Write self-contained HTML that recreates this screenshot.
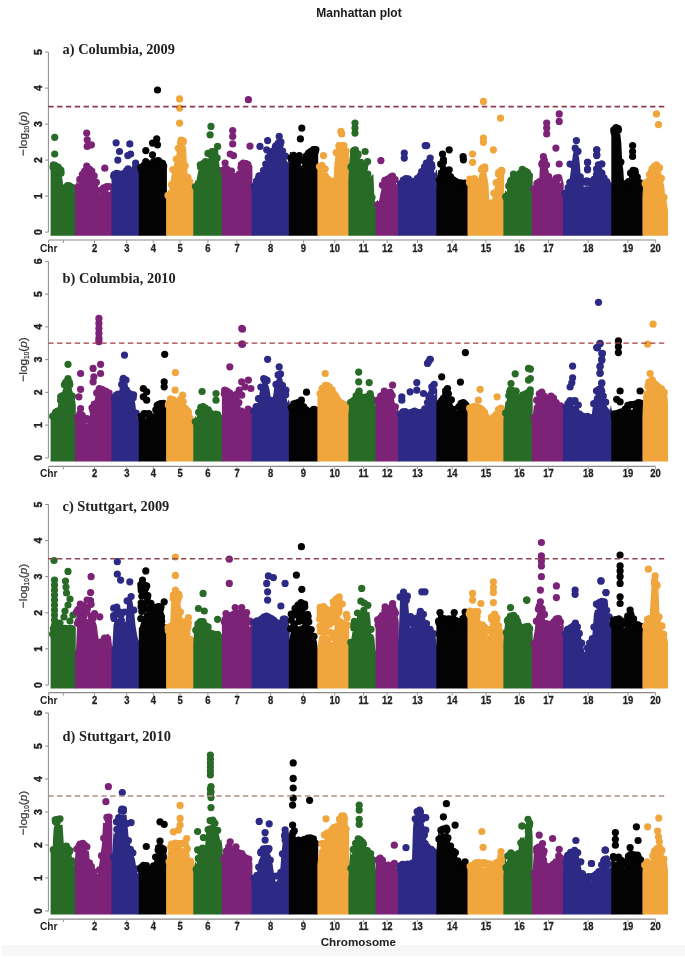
<!DOCTYPE html><html><head><meta charset="utf-8"><style>html,body{margin:0;padding:0;background:#fff;width:685px;height:958px;overflow:hidden}svg{display:block;filter:blur(0.45px)}</style></head><body>
<svg width="685" height="958" viewBox="0 0 685 958">
<rect x="0" y="0" width="685" height="958" fill="#fff"/>
<rect x="2" y="945" width="683" height="11" fill="#f7f7f7"/>
<text x="359" y="16.8" font-family="Liberation Sans" font-weight="bold" font-size="12" text-anchor="middle" fill="#1a1a1a">Manhattan plot</text>
<text x="358.3" y="945.7" font-family="Liberation Sans" font-weight="bold" font-size="11.7" text-anchor="middle" fill="#222">Chromosome</text>
<g fill="#276b27"><polygon points="50.6,235.7 50.6,165.5 51.6,164.3 52.6,164.3 53.6,170.4 54.6,170.4 55.6,170.4 56.6,170.6 57.6,170.8 58.6,171.0 59.6,172.0 60.6,173.5 61.6,175.0 62.6,180.0 63.6,189.5 64.6,191.8 65.6,191.6 66.6,191.4 67.6,191.2 68.6,191.1 69.6,191.1 70.6,191.1 71.6,191.1 72.6,191.5 73.6,191.8 74.6,186.1 75.6,186.5 75.8,186.5 75.8,235.7"/><circle cx="53.4" cy="164.9" r="3.6"/><circle cx="53.1" cy="167.1" r="3.6"/><circle cx="55.3" cy="165.5" r="3.6"/><circle cx="56.3" cy="167.7" r="3.6"/><circle cx="58.2" cy="167.1" r="3.6"/><circle cx="58.7" cy="170.1" r="3.6"/><circle cx="60.8" cy="170.2" r="3.6"/><circle cx="61.1" cy="173.1" r="3.6"/><circle cx="62.2" cy="187.9" r="3.6"/><circle cx="65.6" cy="187.8" r="3.6"/><circle cx="65.9" cy="188.9" r="3.6"/><circle cx="67.6" cy="185.6" r="3.6"/><circle cx="67.3" cy="189.2" r="3.6"/><circle cx="69.3" cy="185.9" r="3.6"/><circle cx="72.1" cy="187.3" r="3.6"/><circle cx="72.5" cy="188.5" r="3.6"/><circle cx="54.7" cy="137.3" r="3.6"/><circle cx="54.7" cy="154.0" r="3.6"/></g><g fill="#7c2378"><polygon points="75.0,235.7 75.0,194.3 76.0,184.3 77.0,180.3 78.0,184.3 79.0,182.4 80.0,180.9 81.0,179.4 82.0,177.9 83.0,176.2 84.0,174.4 85.0,172.7 86.0,172.5 87.0,172.3 88.0,172.1 89.0,172.0 90.0,172.9 91.0,173.9 92.0,174.9 93.0,175.9 94.0,177.4 95.0,179.0 96.0,180.6 97.0,182.2 98.0,185.7 99.0,190.3 100.0,194.1 101.0,193.3 102.0,192.5 103.0,191.7 104.0,191.2 105.0,191.2 106.0,191.3 107.0,191.3 108.0,191.3 109.0,191.7 110.0,192.1 111.0,186.5 112.0,189.8 112.3,191.9 112.3,235.7"/><circle cx="77.8" cy="187.2" r="3.6"/><circle cx="79.8" cy="179.4" r="3.6"/><circle cx="82.4" cy="174.3" r="3.6"/><circle cx="82.7" cy="177.2" r="3.6"/><circle cx="84.7" cy="171.0" r="3.6"/><circle cx="86.8" cy="166.2" r="3.6"/><circle cx="87.0" cy="169.3" r="3.6"/><circle cx="89.7" cy="169.4" r="3.6"/><circle cx="88.5" cy="172.0" r="3.6"/><circle cx="91.8" cy="171.0" r="3.6"/><circle cx="91.1" cy="173.1" r="3.6"/><circle cx="94.2" cy="175.9" r="3.6"/><circle cx="96.4" cy="182.3" r="3.6"/><circle cx="101.3" cy="189.8" r="3.6"/><circle cx="102.3" cy="190.4" r="3.6"/><circle cx="103.7" cy="187.9" r="3.6"/><circle cx="104.1" cy="190.1" r="3.6"/><circle cx="106.7" cy="186.6" r="3.6"/><circle cx="105.6" cy="188.2" r="3.6"/><circle cx="109.1" cy="186.6" r="3.6"/><circle cx="86.7" cy="133.1" r="3.6"/><circle cx="87.2" cy="139.8" r="3.6"/><circle cx="87.2" cy="146.4" r="3.6"/><circle cx="91.4" cy="144.8" r="3.6"/><circle cx="104.8" cy="168.2" r="3.6"/></g><g fill="#2c2a84"><polygon points="111.5,235.7 111.5,174.8 112.5,173.5 113.5,172.2 114.5,177.9 115.5,177.9 116.5,177.8 117.5,177.8 118.5,178.0 119.5,177.8 120.5,177.3 121.5,176.8 122.5,176.3 123.5,175.8 124.5,175.3 125.5,174.8 126.5,174.6 127.5,174.7 128.5,174.7 129.5,174.6 130.5,175.0 131.5,175.6 132.5,174.4 133.5,173.2 134.5,173.0 135.5,172.9 136.5,172.8 137.5,172.9 138.5,170.3 139.5,173.6 139.6,173.9 139.6,235.7"/><circle cx="114.1" cy="174.6" r="3.6"/><circle cx="113.7" cy="176.3" r="3.6"/><circle cx="116.5" cy="173.3" r="3.6"/><circle cx="115.8" cy="174.5" r="3.6"/><circle cx="118.5" cy="173.8" r="3.6"/><circle cx="118.8" cy="175.9" r="3.6"/><circle cx="120.4" cy="175.7" r="3.6"/><circle cx="123.4" cy="173.6" r="3.6"/><circle cx="126.6" cy="170.7" r="3.6"/><circle cx="126.8" cy="171.9" r="3.6"/><circle cx="128.1" cy="168.9" r="3.6"/><circle cx="129.2" cy="171.7" r="3.6"/><circle cx="131.2" cy="172.1" r="3.6"/><circle cx="131.3" cy="173.1" r="3.6"/><circle cx="133.6" cy="170.5" r="3.6"/><circle cx="132.2" cy="172.4" r="3.6"/><circle cx="135.3" cy="167.5" r="3.6"/><circle cx="135.6" cy="170.1" r="3.6"/><circle cx="116.1" cy="142.8" r="3.6"/><circle cx="129.8" cy="143.9" r="3.6"/><circle cx="119.5" cy="151.5" r="3.6"/><circle cx="127.8" cy="155.6" r="3.6"/><circle cx="130.6" cy="154.0" r="3.6"/><circle cx="117.8" cy="160.1" r="3.6"/><circle cx="135.6" cy="163.1" r="3.6"/></g><g fill="#030303"><polygon points="138.8,235.7 138.8,170.1 139.8,166.7 140.8,165.9 141.8,171.2 142.8,170.5 143.8,169.7 144.8,169.0 145.8,168.3 146.8,168.2 147.8,168.1 148.8,168.1 149.8,168.0 150.8,167.7 151.8,167.3 152.8,166.9 153.8,166.5 154.8,166.1 155.8,166.1 156.8,166.1 157.8,166.1 158.8,166.2 159.8,166.6 160.8,167.0 161.8,167.4 162.8,167.8 163.8,168.6 164.8,169.4 165.8,164.2 166.8,165.0 166.9,165.5 166.9,235.7"/><circle cx="140.9" cy="167.4" r="3.6"/><circle cx="141.2" cy="169.6" r="3.6"/><circle cx="144.1" cy="165.2" r="3.6"/><circle cx="143.6" cy="168.2" r="3.6"/><circle cx="146.2" cy="164.0" r="3.6"/><circle cx="145.4" cy="166.6" r="3.6"/><circle cx="148.7" cy="163.8" r="3.6"/><circle cx="149.1" cy="165.6" r="3.6"/><circle cx="151.0" cy="167.7" r="3.6"/><circle cx="153.6" cy="161.7" r="3.6"/><circle cx="153.3" cy="164.5" r="3.6"/><circle cx="156.1" cy="161.0" r="3.6"/><circle cx="155.9" cy="162.7" r="3.6"/><circle cx="158.4" cy="160.7" r="3.6"/><circle cx="157.4" cy="164.6" r="3.6"/><circle cx="160.9" cy="162.9" r="3.6"/><circle cx="161.1" cy="163.7" r="3.6"/><circle cx="162.6" cy="163.4" r="3.6"/><circle cx="163.7" cy="166.0" r="3.6"/><circle cx="157.5" cy="90.0" r="3.6"/><circle cx="156.7" cy="138.9" r="3.6"/><circle cx="152.5" cy="143.1" r="3.6"/><circle cx="157.5" cy="144.8" r="3.6"/><circle cx="145.8" cy="150.6" r="3.6"/><circle cx="152.5" cy="154.8" r="3.6"/><circle cx="145.8" cy="161.5" r="3.6"/></g><g fill="#f0a63c"><polygon points="166.1,235.7 166.1,198.1 167.1,193.7 168.1,189.4 169.1,191.0 170.1,184.3 171.1,177.7 172.1,172.4 173.1,168.4 174.1,164.4 175.1,160.3 176.1,155.8 177.1,151.3 178.1,146.8 179.1,146.0 180.1,146.0 181.1,146.0 182.1,146.0 183.1,146.0 184.1,146.0 185.1,146.0 186.1,147.2 187.1,167.7 188.1,181.5 189.1,182.5 190.1,183.5 191.1,184.6 192.1,181.2 193.1,183.9 194.1,188.9 194.1,188.9 194.1,235.7"/><circle cx="168.0" cy="195.4" r="3.6"/><circle cx="171.6" cy="184.7" r="3.6"/><circle cx="172.9" cy="169.5" r="3.6"/><circle cx="176.3" cy="159.1" r="3.6"/><circle cx="178.3" cy="148.3" r="3.6"/><circle cx="181.2" cy="140.2" r="3.6"/><circle cx="180.6" cy="143.2" r="3.6"/><circle cx="183.1" cy="140.9" r="3.6"/><circle cx="183.1" cy="142.2" r="3.6"/><circle cx="185.2" cy="165.7" r="3.6"/><circle cx="187.8" cy="177.3" r="3.6"/><circle cx="187.2" cy="179.1" r="3.6"/><circle cx="189.8" cy="181.5" r="3.6"/><circle cx="179.6" cy="98.9" r="3.6"/><circle cx="179.6" cy="108.1" r="3.6"/><circle cx="179.6" cy="123.1" r="3.6"/></g><g fill="#276b27"><polygon points="193.3,235.7 193.3,190.1 194.3,185.1 195.3,180.1 196.3,181.1 197.3,176.1 198.3,171.1 199.3,170.4 200.3,169.7 201.3,169.1 202.3,168.4 203.3,167.7 204.3,164.4 205.3,161.1 206.3,159.2 207.3,158.8 208.3,158.4 209.3,158.0 210.3,157.6 211.3,157.3 212.3,156.9 213.3,156.6 214.3,156.3 215.3,156.2 216.3,156.2 217.3,156.2 218.3,156.1 219.3,163.8 220.3,174.4 221.3,169.4 222.3,170.4 222.7,170.8 222.7,235.7"/><circle cx="195.4" cy="186.5" r="3.6"/><circle cx="200.3" cy="164.8" r="3.6"/><circle cx="200.7" cy="167.4" r="3.6"/><circle cx="203.5" cy="163.3" r="3.6"/><circle cx="203.7" cy="166.2" r="3.6"/><circle cx="205.5" cy="161.5" r="3.6"/><circle cx="207.9" cy="153.4" r="3.6"/><circle cx="211.0" cy="155.0" r="3.6"/><circle cx="212.0" cy="151.5" r="3.6"/><circle cx="212.8" cy="153.6" r="3.6"/><circle cx="214.7" cy="151.6" r="3.6"/><circle cx="214.8" cy="153.9" r="3.6"/><circle cx="217.1" cy="157.9" r="3.6"/><circle cx="219.4" cy="170.7" r="3.6"/><circle cx="211.0" cy="126.4" r="3.6"/><circle cx="210.1" cy="134.8" r="3.6"/><circle cx="217.6" cy="146.4" r="3.6"/></g><g fill="#7c2378"><polygon points="221.9,235.7 221.9,171.5 222.9,168.2 223.9,167.1 224.9,173.2 225.9,173.2 226.9,172.9 227.9,173.4 228.9,174.0 229.9,174.7 230.9,175.4 231.9,176.0 232.9,176.6 233.9,177.1 234.9,177.6 235.9,179.0 236.9,180.4 237.9,173.3 238.9,170.6 239.9,169.9 240.9,169.3 241.9,168.6 242.9,167.9 243.9,167.9 244.9,167.8 245.9,167.7 246.9,167.8 247.9,168.5 248.9,169.1 249.9,169.8 250.9,164.5 251.9,165.3 252.4,166.6 252.4,235.7"/><circle cx="223.9" cy="169.6" r="3.6"/><circle cx="224.6" cy="172.4" r="3.6"/><circle cx="226.6" cy="168.9" r="3.6"/><circle cx="227.8" cy="171.0" r="3.6"/><circle cx="228.6" cy="170.9" r="3.6"/><circle cx="231.5" cy="171.1" r="3.6"/><circle cx="230.6" cy="174.5" r="3.6"/><circle cx="234.8" cy="176.5" r="3.6"/><circle cx="236.9" cy="178.8" r="3.6"/><circle cx="239.2" cy="174.0" r="3.6"/><circle cx="241.4" cy="164.5" r="3.6"/><circle cx="240.9" cy="167.8" r="3.6"/><circle cx="243.2" cy="163.1" r="3.6"/><circle cx="246.0" cy="163.7" r="3.6"/><circle cx="245.3" cy="164.4" r="3.6"/><circle cx="247.9" cy="164.5" r="3.6"/><circle cx="247.9" cy="167.8" r="3.6"/><circle cx="232.7" cy="130.6" r="3.6"/><circle cx="232.7" cy="136.4" r="3.6"/><circle cx="232.7" cy="143.9" r="3.6"/><circle cx="230.2" cy="154.0" r="3.6"/><circle cx="233.5" cy="155.6" r="3.6"/><circle cx="225.1" cy="163.1" r="3.6"/><circle cx="248.4" cy="99.7" r="3.6"/><circle cx="250.0" cy="146.1" r="3.6"/></g><g fill="#2c2a84"><polygon points="251.6,235.7 251.6,188.4 252.6,183.2 253.6,178.1 254.6,183.3 255.6,182.5 256.6,181.7 257.6,180.8 258.6,179.5 259.6,178.2 260.6,176.8 261.6,175.5 262.6,173.9 263.6,171.3 264.6,168.6 265.6,166.1 266.6,163.7 267.6,161.3 268.6,158.9 269.6,156.9 270.6,155.3 271.6,153.7 272.6,152.1 273.6,150.7 274.6,149.7 275.6,148.7 276.6,147.7 277.6,146.7 278.6,146.6 279.6,146.5 280.6,146.4 281.6,146.3 282.6,148.6 283.6,152.1 284.6,155.6 285.6,158.5 286.6,160.5 287.6,162.5 288.6,158.6 289.6,162.6 289.7,163.0 289.7,235.7"/><circle cx="254.1" cy="186.6" r="3.6"/><circle cx="256.8" cy="180.9" r="3.6"/><circle cx="259.0" cy="175.9" r="3.6"/><circle cx="258.7" cy="177.9" r="3.6"/><circle cx="261.5" cy="175.5" r="3.6"/><circle cx="263.5" cy="170.4" r="3.6"/><circle cx="265.7" cy="164.1" r="3.6"/><circle cx="268.2" cy="157.7" r="3.6"/><circle cx="270.6" cy="151.8" r="3.6"/><circle cx="270.4" cy="154.7" r="3.6"/><circle cx="273.4" cy="151.2" r="3.6"/><circle cx="275.7" cy="145.8" r="3.6"/><circle cx="275.3" cy="147.5" r="3.6"/><circle cx="278.4" cy="142.8" r="3.6"/><circle cx="278.7" cy="145.3" r="3.6"/><circle cx="281.0" cy="142.1" r="3.6"/><circle cx="280.1" cy="145.3" r="3.6"/><circle cx="282.6" cy="151.1" r="3.6"/><circle cx="285.5" cy="156.2" r="3.6"/><circle cx="260.0" cy="146.4" r="3.6"/><circle cx="267.6" cy="140.6" r="3.6"/><circle cx="266.7" cy="149.8" r="3.6"/><circle cx="279.2" cy="136.4" r="3.6"/></g><g fill="#030303"><polygon points="288.9,235.7 288.9,166.6 289.9,152.6 290.9,151.8 291.9,157.9 292.9,158.1 293.9,158.2 294.9,159.7 295.9,161.2 296.9,162.7 297.9,163.2 298.9,163.7 299.9,164.2 300.9,165.7 301.9,165.3 302.9,162.3 303.9,160.6 304.9,159.8 305.9,159.0 306.9,158.2 307.9,157.5 308.9,156.9 309.9,156.3 310.9,155.8 311.9,155.2 312.9,154.6 313.9,154.6 314.9,154.5 315.9,154.5 316.9,148.4 317.9,149.7 318.2,150.1 318.2,235.7"/><circle cx="291.0" cy="158.0" r="3.6"/><circle cx="293.6" cy="155.4" r="3.6"/><circle cx="293.6" cy="157.0" r="3.6"/><circle cx="295.8" cy="158.2" r="3.6"/><circle cx="298.3" cy="159.9" r="3.6"/><circle cx="297.7" cy="162.7" r="3.6"/><circle cx="303.0" cy="160.5" r="3.6"/><circle cx="306.4" cy="155.9" r="3.6"/><circle cx="308.5" cy="153.0" r="3.6"/><circle cx="307.9" cy="155.6" r="3.6"/><circle cx="310.6" cy="151.6" r="3.6"/><circle cx="311.0" cy="154.8" r="3.6"/><circle cx="313.4" cy="149.6" r="3.6"/><circle cx="313.8" cy="153.2" r="3.6"/><circle cx="315.9" cy="149.5" r="3.6"/><circle cx="315.2" cy="151.8" r="3.6"/><circle cx="301.8" cy="128.1" r="3.6"/><circle cx="300.4" cy="138.9" r="3.6"/><circle cx="299.3" cy="155.6" r="3.6"/></g><g fill="#f0a63c"><polygon points="317.4,235.7 317.4,167.0 318.4,165.0 319.4,163.0 320.4,168.8 321.4,168.6 322.4,168.4 323.4,168.2 324.4,171.9 325.4,177.3 326.4,181.4 327.4,182.6 328.4,183.8 329.4,185.0 330.4,186.1 331.4,186.1 332.4,186.1 333.4,186.1 334.4,163.2 335.4,155.7 336.4,153.0 337.4,151.0 338.4,151.1 339.4,151.1 340.4,151.1 341.4,151.1 342.4,151.2 343.4,151.4 344.4,151.5 345.4,151.7 346.4,151.8 347.4,147.9 348.4,151.4 349.2,155.2 349.2,235.7"/><circle cx="319.5" cy="166.6" r="3.6"/><circle cx="322.0" cy="165.4" r="3.6"/><circle cx="322.5" cy="167.0" r="3.6"/><circle cx="325.2" cy="175.7" r="3.6"/><circle cx="327.4" cy="178.7" r="3.6"/><circle cx="327.0" cy="180.6" r="3.6"/><circle cx="329.1" cy="180.3" r="3.6"/><circle cx="329.3" cy="182.4" r="3.6"/><circle cx="332.0" cy="181.5" r="3.6"/><circle cx="332.7" cy="183.9" r="3.6"/><circle cx="334.2" cy="181.1" r="3.6"/><circle cx="336.2" cy="152.7" r="3.6"/><circle cx="338.9" cy="145.7" r="3.6"/><circle cx="339.4" cy="147.9" r="3.6"/><circle cx="341.5" cy="145.5" r="3.6"/><circle cx="340.9" cy="147.8" r="3.6"/><circle cx="343.9" cy="145.7" r="3.6"/><circle cx="346.2" cy="151.2" r="3.6"/><circle cx="323.5" cy="155.6" r="3.6"/><circle cx="325.2" cy="169.0" r="3.6"/><circle cx="340.9" cy="131.4" r="3.6"/><circle cx="341.7" cy="133.9" r="3.6"/></g><g fill="#276b27"><polygon points="348.4,235.7 348.4,179.3 349.4,160.9 350.4,151.2 351.4,156.2 352.4,155.2 353.4,154.6 354.4,154.8 355.4,154.9 356.4,154.8 357.4,155.2 358.4,156.7 359.4,158.2 360.4,160.2 361.4,163.7 362.4,167.2 363.4,169.8 364.4,169.7 365.4,169.7 366.4,169.6 367.4,171.4 368.4,175.1 369.4,177.6 370.4,176.7 371.4,175.8 372.4,174.9 373.4,174.0 374.4,198.6 375.4,204.6 376.4,211.4 376.4,235.7"/><circle cx="351.0" cy="166.9" r="3.6"/><circle cx="353.7" cy="150.6" r="3.6"/><circle cx="353.6" cy="153.2" r="3.6"/><circle cx="355.3" cy="149.8" r="3.6"/><circle cx="357.9" cy="153.9" r="3.6"/><circle cx="357.9" cy="155.3" r="3.6"/><circle cx="360.9" cy="162.3" r="3.6"/><circle cx="362.4" cy="164.8" r="3.6"/><circle cx="363.0" cy="166.9" r="3.6"/><circle cx="365.0" cy="164.7" r="3.6"/><circle cx="364.5" cy="168.0" r="3.6"/><circle cx="367.8" cy="174.1" r="3.6"/><circle cx="369.6" cy="181.9" r="3.6"/><circle cx="372.0" cy="197.5" r="3.6"/><circle cx="355.0" cy="123.1" r="3.6"/><circle cx="355.0" cy="128.1" r="3.6"/><circle cx="355.0" cy="133.1" r="3.6"/><circle cx="365.1" cy="151.5" r="3.6"/><circle cx="367.6" cy="161.5" r="3.6"/></g><g fill="#7c2378"><polygon points="375.6,235.7 375.6,206.5 376.6,201.9 377.6,199.8 378.6,202.9 379.6,197.9 380.6,192.9 381.6,187.9 382.6,187.0 383.6,186.2 384.6,185.4 385.6,184.6 386.6,184.0 387.6,183.4 388.6,182.8 389.6,182.3 390.6,181.7 391.6,181.1 392.6,181.3 393.6,181.5 394.6,181.5 395.6,182.1 396.6,184.7 397.6,181.4 398.6,187.5 398.8,188.8 398.8,235.7"/><circle cx="377.9" cy="204.5" r="3.6"/><circle cx="382.4" cy="185.2" r="3.6"/><circle cx="384.8" cy="180.3" r="3.6"/><circle cx="385.5" cy="182.6" r="3.6"/><circle cx="387.7" cy="179.1" r="3.6"/><circle cx="387.9" cy="180.6" r="3.6"/><circle cx="390.7" cy="177.2" r="3.6"/><circle cx="389.7" cy="180.7" r="3.6"/><circle cx="392.5" cy="176.0" r="3.6"/><circle cx="395.1" cy="179.7" r="3.6"/><circle cx="380.9" cy="160.6" r="3.6"/></g><g fill="#2c2a84"><polygon points="398.0,235.7 398.0,185.6 399.0,182.3 400.0,180.5 401.0,185.0 402.0,183.5 403.0,183.0 404.0,183.1 405.0,183.0 406.0,182.9 407.0,183.3 408.0,183.8 409.0,184.4 410.0,185.0 411.0,185.6 412.0,186.1 413.0,186.1 414.0,185.4 415.0,184.4 416.0,183.4 417.0,182.4 418.0,181.4 419.0,179.5 420.0,177.0 421.0,174.5 422.0,172.3 423.0,171.0 424.0,169.7 425.0,168.3 426.0,167.0 427.0,166.4 428.0,166.6 429.0,166.6 430.0,166.5 431.0,166.9 432.0,168.2 433.0,169.4 434.0,170.7 435.0,174.5 436.0,169.4 437.0,170.6 437.2,173.0 437.2,235.7"/><circle cx="400.8" cy="183.6" r="3.6"/><circle cx="403.3" cy="180.2" r="3.6"/><circle cx="403.5" cy="182.0" r="3.6"/><circle cx="405.8" cy="178.6" r="3.6"/><circle cx="404.6" cy="180.2" r="3.6"/><circle cx="408.3" cy="178.8" r="3.6"/><circle cx="410.0" cy="180.7" r="3.6"/><circle cx="410.3" cy="182.7" r="3.6"/><circle cx="412.1" cy="181.5" r="3.6"/><circle cx="412.4" cy="183.0" r="3.6"/><circle cx="415.3" cy="181.1" r="3.6"/><circle cx="414.8" cy="182.6" r="3.6"/><circle cx="417.4" cy="178.3" r="3.6"/><circle cx="417.4" cy="180.8" r="3.6"/><circle cx="420.2" cy="175.7" r="3.6"/><circle cx="421.7" cy="171.6" r="3.6"/><circle cx="424.5" cy="166.8" r="3.6"/><circle cx="425.2" cy="167.6" r="3.6"/><circle cx="426.4" cy="163.1" r="3.6"/><circle cx="427.9" cy="165.4" r="3.6"/><circle cx="429.3" cy="161.7" r="3.6"/><circle cx="429.9" cy="163.3" r="3.6"/><circle cx="431.2" cy="164.3" r="3.6"/><circle cx="431.9" cy="167.3" r="3.6"/><circle cx="433.9" cy="176.4" r="3.6"/><circle cx="404.3" cy="153.1" r="3.6"/><circle cx="404.3" cy="158.1" r="3.6"/><circle cx="425.2" cy="145.6" r="3.6"/><circle cx="430.2" cy="158.1" r="3.6"/><circle cx="431.0" cy="168.2" r="3.6"/><circle cx="426.7" cy="145.6" r="3.6"/><circle cx="431.7" cy="164.8" r="3.6"/></g><g fill="#030303"><polygon points="436.4,235.7 436.4,189.0 437.4,175.0 438.4,169.7 439.4,170.4 440.4,167.1 441.4,165.7 442.4,164.4 443.4,165.0 444.4,165.3 445.4,165.2 446.4,166.8 447.4,172.8 448.4,178.8 449.4,179.9 450.4,180.4 451.4,180.9 452.4,181.8 453.4,183.0 454.4,184.2 455.4,185.4 456.4,186.2 457.4,186.5 458.4,186.8 459.4,187.1 460.4,187.4 461.4,187.6 462.4,187.8 463.4,187.8 464.4,187.8 465.4,187.8 466.4,181.8 467.4,183.2 468.3,185.6 468.3,235.7"/><circle cx="439.3" cy="180.1" r="3.6"/><circle cx="440.7" cy="164.1" r="3.6"/><circle cx="443.4" cy="159.5" r="3.6"/><circle cx="443.3" cy="162.2" r="3.6"/><circle cx="445.5" cy="171.0" r="3.6"/><circle cx="448.3" cy="175.7" r="3.6"/><circle cx="450.5" cy="176.7" r="3.6"/><circle cx="451.7" cy="179.3" r="3.6"/><circle cx="453.2" cy="179.9" r="3.6"/><circle cx="454.1" cy="181.7" r="3.6"/><circle cx="455.6" cy="181.4" r="3.6"/><circle cx="457.5" cy="182.7" r="3.6"/><circle cx="457.4" cy="184.9" r="3.6"/><circle cx="460.8" cy="182.8" r="3.6"/><circle cx="460.4" cy="185.0" r="3.6"/><circle cx="463.1" cy="185.5" r="3.6"/><circle cx="464.7" cy="183.1" r="3.6"/><circle cx="465.3" cy="185.5" r="3.6"/><circle cx="449.2" cy="149.8" r="3.6"/><circle cx="442.5" cy="154.0" r="3.6"/><circle cx="463.1" cy="156.5" r="3.6"/><circle cx="463.4" cy="159.8" r="3.6"/><circle cx="449.2" cy="169.8" r="3.6"/></g><g fill="#f0a63c"><polygon points="467.5,235.7 467.5,182.9 468.5,178.4 469.5,178.4 470.5,184.4 471.5,184.4 472.5,184.4 473.5,184.4 474.5,184.4 475.5,184.4 476.5,184.4 477.5,183.1 478.5,177.8 479.5,174.0 480.5,173.0 481.5,172.0 482.5,171.3 483.5,171.8 484.5,171.7 485.5,171.6 486.5,173.4 487.5,178.7 488.5,184.1 489.5,207.8 490.5,205.7 491.5,201.7 492.5,197.7 493.5,193.5 494.5,188.5 495.5,183.5 496.5,178.5 497.5,176.9 498.5,175.9 499.5,174.9 500.5,174.8 501.5,174.7 502.5,168.6 503.5,168.5 504.2,171.6 504.2,235.7"/><circle cx="469.8" cy="179.0" r="3.6"/><circle cx="469.4" cy="182.5" r="3.6"/><circle cx="471.9" cy="179.7" r="3.6"/><circle cx="471.5" cy="181.0" r="3.6"/><circle cx="474.4" cy="178.6" r="3.6"/><circle cx="474.9" cy="182.3" r="3.6"/><circle cx="477.0" cy="181.5" r="3.6"/><circle cx="476.7" cy="183.2" r="3.6"/><circle cx="482.4" cy="168.0" r="3.6"/><circle cx="481.5" cy="169.7" r="3.6"/><circle cx="484.7" cy="166.8" r="3.6"/><circle cx="484.8" cy="169.2" r="3.6"/><circle cx="489.6" cy="203.1" r="3.6"/><circle cx="491.2" cy="203.0" r="3.6"/><circle cx="493.8" cy="193.1" r="3.6"/><circle cx="496.2" cy="182.7" r="3.6"/><circle cx="498.7" cy="172.3" r="3.6"/><circle cx="498.6" cy="173.9" r="3.6"/><circle cx="501.4" cy="170.3" r="3.6"/><circle cx="502.0" cy="171.1" r="3.6"/><circle cx="483.4" cy="101.4" r="3.6"/><circle cx="500.5" cy="118.1" r="3.6"/><circle cx="483.4" cy="138.1" r="3.6"/><circle cx="483.4" cy="142.3" r="3.6"/><circle cx="493.4" cy="149.8" r="3.6"/><circle cx="472.6" cy="154.0" r="3.6"/><circle cx="472.6" cy="162.3" r="3.6"/></g><g fill="#276b27"><polygon points="503.4,235.7 503.4,199.8 504.4,194.8 505.4,190.2 506.4,192.2 507.4,188.2 508.4,186.7 509.4,185.5 510.4,184.3 511.4,183.1 512.4,182.5 513.4,182.2 514.4,181.9 515.4,181.5 516.4,181.2 517.4,179.7 518.4,177.7 519.4,175.7 520.4,174.6 521.4,174.7 522.4,174.7 523.4,174.8 524.4,174.9 525.4,175.5 526.4,176.0 527.4,176.6 528.4,177.2 529.4,177.9 530.4,179.5 531.4,175.1 532.4,176.7 532.7,177.2 532.7,235.7"/><circle cx="505.7" cy="196.7" r="3.6"/><circle cx="508.7" cy="186.0" r="3.6"/><circle cx="510.8" cy="180.6" r="3.6"/><circle cx="510.1" cy="183.7" r="3.6"/><circle cx="513.4" cy="178.0" r="3.6"/><circle cx="512.3" cy="179.7" r="3.6"/><circle cx="515.0" cy="177.0" r="3.6"/><circle cx="516.4" cy="178.2" r="3.6"/><circle cx="518.0" cy="175.6" r="3.6"/><circle cx="517.0" cy="178.7" r="3.6"/><circle cx="519.6" cy="173.6" r="3.6"/><circle cx="522.3" cy="169.3" r="3.6"/><circle cx="525.3" cy="171.2" r="3.6"/><circle cx="525.7" cy="172.6" r="3.6"/><circle cx="527.4" cy="172.3" r="3.6"/><circle cx="526.9" cy="175.4" r="3.6"/><circle cx="529.4" cy="175.7" r="3.6"/><circle cx="513.5" cy="174.0" r="3.6"/></g><g fill="#7c2378"><polygon points="531.9,235.7 531.9,188.4 532.9,186.9 533.9,183.9 534.9,188.9 535.9,188.2 536.9,187.5 537.9,186.9 538.9,186.2 539.9,166.1 540.9,165.6 541.9,165.1 542.9,164.6 543.9,164.5 544.9,164.5 545.9,164.4 546.9,164.6 547.9,168.6 548.9,172.6 549.9,176.6 550.9,183.5 551.9,186.8 552.9,183.8 553.9,182.8 554.9,182.8 555.9,182.8 556.9,182.8 557.9,182.8 558.9,182.8 559.9,182.8 560.9,182.8 561.9,176.9 562.9,179.9 563.7,183.8 563.7,235.7"/><circle cx="533.9" cy="189.2" r="3.6"/><circle cx="537.0" cy="183.3" r="3.6"/><circle cx="537.2" cy="185.8" r="3.6"/><circle cx="539.5" cy="181.6" r="3.6"/><circle cx="542.2" cy="163.2" r="3.6"/><circle cx="541.9" cy="164.5" r="3.6"/><circle cx="544.2" cy="160.1" r="3.6"/><circle cx="544.1" cy="161.1" r="3.6"/><circle cx="546.5" cy="164.9" r="3.6"/><circle cx="548.7" cy="176.6" r="3.6"/><circle cx="551.8" cy="185.2" r="3.6"/><circle cx="553.2" cy="181.2" r="3.6"/><circle cx="556.2" cy="178.1" r="3.6"/><circle cx="556.9" cy="179.5" r="3.6"/><circle cx="558.7" cy="177.6" r="3.6"/><circle cx="557.5" cy="179.5" r="3.6"/><circle cx="546.7" cy="123.1" r="3.6"/><circle cx="546.7" cy="128.1" r="3.6"/><circle cx="546.7" cy="133.9" r="3.6"/><circle cx="559.2" cy="113.9" r="3.6"/><circle cx="559.2" cy="121.4" r="3.6"/><circle cx="555.9" cy="148.1" r="3.6"/><circle cx="559.2" cy="164.0" r="3.6"/><circle cx="543.4" cy="156.5" r="3.6"/></g><g fill="#2c2a84"><polygon points="562.9,235.7 562.9,195.3 563.9,191.9 564.9,188.6 565.9,192.5 566.9,190.5 567.9,188.5 568.9,183.7 569.9,177.0 570.9,170.2 571.9,162.2 572.9,154.2 573.9,152.7 574.9,152.6 575.9,151.8 576.9,151.1 577.9,153.7 578.9,156.4 579.9,164.8 580.9,178.8 581.9,182.8 582.9,184.8 583.9,186.7 584.9,186.4 585.9,186.2 586.9,186.2 587.9,186.3 588.9,186.3 589.9,186.5 590.9,187.3 591.9,185.6 592.9,183.6 593.9,181.6 594.9,179.9 595.9,178.3 596.9,176.7 597.9,175.1 598.9,174.9 599.9,174.8 600.9,174.6 601.9,174.5 602.9,176.9 603.9,179.5 604.9,182.1 605.9,183.6 606.9,184.8 607.9,186.0 608.9,187.2 609.9,189.2 610.9,185.9 611.9,188.9 612.1,190.9 612.1,235.7"/><circle cx="565.1" cy="193.4" r="3.6"/><circle cx="568.1" cy="187.5" r="3.6"/><circle cx="569.8" cy="182.3" r="3.6"/><circle cx="572.6" cy="164.8" r="3.6"/><circle cx="575.2" cy="148.0" r="3.6"/><circle cx="578.0" cy="151.3" r="3.6"/><circle cx="580.3" cy="176.8" r="3.6"/><circle cx="582.1" cy="182.4" r="3.6"/><circle cx="585.0" cy="181.3" r="3.6"/><circle cx="586.9" cy="180.8" r="3.6"/><circle cx="586.7" cy="182.5" r="3.6"/><circle cx="589.9" cy="181.7" r="3.6"/><circle cx="591.5" cy="183.8" r="3.6"/><circle cx="594.0" cy="179.4" r="3.6"/><circle cx="596.5" cy="174.5" r="3.6"/><circle cx="597.0" cy="177.7" r="3.6"/><circle cx="599.1" cy="170.7" r="3.6"/><circle cx="598.8" cy="174.2" r="3.6"/><circle cx="601.9" cy="173.2" r="3.6"/><circle cx="600.9" cy="174.6" r="3.6"/><circle cx="604.0" cy="177.8" r="3.6"/><circle cx="606.7" cy="181.5" r="3.6"/><circle cx="607.0" cy="183.2" r="3.6"/><circle cx="609.2" cy="185.6" r="3.6"/><circle cx="576.4" cy="140.6" r="3.6"/><circle cx="576.8" cy="151.5" r="3.6"/><circle cx="570.1" cy="164.0" r="3.6"/><circle cx="587.6" cy="162.3" r="3.6"/><circle cx="587.6" cy="169.0" r="3.6"/><circle cx="596.8" cy="149.8" r="3.6"/><circle cx="596.8" cy="154.8" r="3.6"/><circle cx="601.8" cy="164.0" r="3.6"/><circle cx="596.8" cy="169.0" r="3.6"/><circle cx="596.7" cy="149.8" r="3.6"/><circle cx="596.7" cy="155.6" r="3.6"/><circle cx="587.5" cy="162.3" r="3.6"/><circle cx="587.5" cy="169.8" r="3.6"/><circle cx="598.4" cy="164.8" r="3.6"/><circle cx="601.7" cy="164.0" r="3.6"/><circle cx="596.7" cy="169.0" r="3.6"/></g><g fill="#030303"><polygon points="611.3,235.7 611.3,130.4 612.3,128.1 613.3,125.9 614.3,131.9 615.3,132.0 616.3,132.0 617.3,132.1 618.3,132.7 619.3,133.3 620.3,133.9 621.3,142.9 622.3,163.7 623.3,169.7 624.3,186.3 625.3,187.3 626.3,186.9 627.3,186.5 628.3,185.9 629.3,174.5 630.3,174.5 631.3,174.6 632.3,174.6 633.3,174.6 634.3,175.0 635.3,175.4 636.3,175.8 637.3,177.1 638.3,179.6 639.3,182.1 640.3,184.5 641.3,180.1 642.3,181.7 643.2,183.2 643.2,235.7"/><circle cx="613.8" cy="129.8" r="3.6"/><circle cx="614.1" cy="132.4" r="3.6"/><circle cx="616.1" cy="127.6" r="3.6"/><circle cx="617.1" cy="128.8" r="3.6"/><circle cx="618.2" cy="128.6" r="3.6"/><circle cx="618.4" cy="130.1" r="3.6"/><circle cx="620.9" cy="162.1" r="3.6"/><circle cx="623.5" cy="192.7" r="3.6"/><circle cx="626.0" cy="183.7" r="3.6"/><circle cx="626.0" cy="185.6" r="3.6"/><circle cx="628.5" cy="181.6" r="3.6"/><circle cx="630.6" cy="173.2" r="3.6"/><circle cx="633.1" cy="170.4" r="3.6"/><circle cx="632.4" cy="172.3" r="3.6"/><circle cx="635.1" cy="170.9" r="3.6"/><circle cx="635.4" cy="174.2" r="3.6"/><circle cx="637.3" cy="177.1" r="3.6"/><circle cx="639.7" cy="182.7" r="3.6"/><circle cx="632.6" cy="145.6" r="3.6"/><circle cx="632.6" cy="151.5" r="3.6"/><circle cx="632.6" cy="156.5" r="3.6"/></g><g fill="#f0a63c"><polygon points="642.4,235.7 642.4,197.0 643.4,180.0 644.4,178.8 645.4,183.6 646.4,182.4 647.4,181.2 648.4,178.6 649.4,176.0 650.4,174.0 651.4,173.0 652.4,172.0 653.4,171.0 654.4,170.0 655.4,169.9 656.4,169.8 657.4,169.7 658.4,169.6 659.4,170.6 660.4,172.1 661.4,173.6 662.4,176.9 663.4,182.2 664.4,187.6 665.4,197.4 666.4,200.2 667.4,206.2 668.0,211.2 668.0,235.7"/><circle cx="645.1" cy="183.7" r="3.6"/><circle cx="648.3" cy="181.2" r="3.6"/><circle cx="649.4" cy="174.5" r="3.6"/><circle cx="652.1" cy="168.8" r="3.6"/><circle cx="651.5" cy="171.5" r="3.6"/><circle cx="654.4" cy="166.4" r="3.6"/><circle cx="656.5" cy="164.8" r="3.6"/><circle cx="656.7" cy="167.0" r="3.6"/><circle cx="659.5" cy="167.7" r="3.6"/><circle cx="658.4" cy="169.3" r="3.6"/><circle cx="661.3" cy="178.3" r="3.6"/><circle cx="664.0" cy="197.4" r="3.6"/><circle cx="656.5" cy="113.9" r="3.6"/><circle cx="658.5" cy="124.7" r="3.6"/></g>
<line x1="48.4" y1="52.1" x2="48.4" y2="232.1" stroke="#8a8a8a" stroke-width="1"/>
<line x1="45.2" y1="232.1" x2="48.4" y2="232.1" stroke="#8a8a8a" stroke-width="1"/>
<text transform="translate(41.8,232.1) rotate(-90)" font-family="Liberation Sans" font-weight="bold" font-size="10.5" text-anchor="middle" fill="#222" stroke="#222" stroke-width="0.4">0</text>
<line x1="45.2" y1="196.1" x2="48.4" y2="196.1" stroke="#8a8a8a" stroke-width="1"/>
<text transform="translate(41.8,196.1) rotate(-90)" font-family="Liberation Sans" font-weight="bold" font-size="10.5" text-anchor="middle" fill="#222" stroke="#222" stroke-width="0.4">1</text>
<line x1="45.2" y1="160.1" x2="48.4" y2="160.1" stroke="#8a8a8a" stroke-width="1"/>
<text transform="translate(41.8,160.1) rotate(-90)" font-family="Liberation Sans" font-weight="bold" font-size="10.5" text-anchor="middle" fill="#222" stroke="#222" stroke-width="0.4">2</text>
<line x1="45.2" y1="124.1" x2="48.4" y2="124.1" stroke="#8a8a8a" stroke-width="1"/>
<text transform="translate(41.8,124.1) rotate(-90)" font-family="Liberation Sans" font-weight="bold" font-size="10.5" text-anchor="middle" fill="#222" stroke="#222" stroke-width="0.4">3</text>
<line x1="45.2" y1="88.1" x2="48.4" y2="88.1" stroke="#8a8a8a" stroke-width="1"/>
<text transform="translate(41.8,88.1) rotate(-90)" font-family="Liberation Sans" font-weight="bold" font-size="10.5" text-anchor="middle" fill="#222" stroke="#222" stroke-width="0.4">4</text>
<line x1="45.2" y1="52.1" x2="48.4" y2="52.1" stroke="#8a8a8a" stroke-width="1"/>
<text transform="translate(41.8,52.1) rotate(-90)" font-family="Liberation Sans" font-weight="bold" font-size="10.5" text-anchor="middle" fill="#222" stroke="#222" stroke-width="0.4">5</text>
<text transform="translate(26.8,133.5) rotate(-90)" font-family="Liberation Sans" font-size="11.8" text-anchor="middle" fill="#3c3c3c" stroke="#3c3c3c" stroke-width="0.25">&#8722;log<tspan font-size="6.5" dy="2">10</tspan><tspan dy="-2">(</tspan><tspan font-style="italic">p</tspan>)</text>
<line x1="48.6" y1="240.0" x2="655.6" y2="240.0" stroke="#8a8a8a" stroke-width="1.2"/>
<line x1="48.6" y1="240.0" x2="48.6" y2="243.0" stroke="#9a9a9a" stroke-width="1"/>
<line x1="63.4" y1="240.0" x2="63.4" y2="243.0" stroke="#9a9a9a" stroke-width="1"/>
<line x1="94.5" y1="240.0" x2="94.5" y2="243.0" stroke="#9a9a9a" stroke-width="1"/>
<line x1="126.8" y1="240.0" x2="126.8" y2="243.0" stroke="#9a9a9a" stroke-width="1"/>
<line x1="153.3" y1="240.0" x2="153.3" y2="243.0" stroke="#9a9a9a" stroke-width="1"/>
<line x1="180.0" y1="240.0" x2="180.0" y2="243.0" stroke="#9a9a9a" stroke-width="1"/>
<line x1="207.9" y1="240.0" x2="207.9" y2="243.0" stroke="#9a9a9a" stroke-width="1"/>
<line x1="237.0" y1="240.0" x2="237.0" y2="243.0" stroke="#9a9a9a" stroke-width="1"/>
<line x1="270.6" y1="240.0" x2="270.6" y2="243.0" stroke="#9a9a9a" stroke-width="1"/>
<line x1="303.4" y1="240.0" x2="303.4" y2="243.0" stroke="#9a9a9a" stroke-width="1"/>
<line x1="334.7" y1="240.0" x2="334.7" y2="243.0" stroke="#9a9a9a" stroke-width="1"/>
<line x1="363.6" y1="240.0" x2="363.6" y2="243.0" stroke="#9a9a9a" stroke-width="1"/>
<line x1="387.2" y1="240.0" x2="387.2" y2="243.0" stroke="#9a9a9a" stroke-width="1"/>
<line x1="417.5" y1="240.0" x2="417.5" y2="243.0" stroke="#9a9a9a" stroke-width="1"/>
<line x1="452.2" y1="240.0" x2="452.2" y2="243.0" stroke="#9a9a9a" stroke-width="1"/>
<line x1="486.0" y1="240.0" x2="486.0" y2="243.0" stroke="#9a9a9a" stroke-width="1"/>
<line x1="519.4" y1="240.0" x2="519.4" y2="243.0" stroke="#9a9a9a" stroke-width="1"/>
<line x1="548.5" y1="240.0" x2="548.5" y2="243.0" stroke="#9a9a9a" stroke-width="1"/>
<line x1="588.2" y1="240.0" x2="588.2" y2="243.0" stroke="#9a9a9a" stroke-width="1"/>
<line x1="627.9" y1="240.0" x2="627.9" y2="243.0" stroke="#9a9a9a" stroke-width="1"/>
<line x1="655.6" y1="240.0" x2="655.6" y2="243.0" stroke="#9a9a9a" stroke-width="1"/>
<text x="48.8" y="251.8" font-family="Liberation Sans" font-weight="bold" font-size="10.2" text-anchor="middle" fill="#222">Chr</text>
<text transform="translate(94.5,251.8) scale(0.83,1)" font-family="Liberation Sans" font-weight="bold" font-size="11.4" text-anchor="middle" fill="#222" stroke="#222" stroke-width="0.3">2</text>
<text transform="translate(126.8,251.8) scale(0.83,1)" font-family="Liberation Sans" font-weight="bold" font-size="11.4" text-anchor="middle" fill="#222" stroke="#222" stroke-width="0.3">3</text>
<text transform="translate(153.3,251.8) scale(0.83,1)" font-family="Liberation Sans" font-weight="bold" font-size="11.4" text-anchor="middle" fill="#222" stroke="#222" stroke-width="0.3">4</text>
<text transform="translate(180.0,251.8) scale(0.83,1)" font-family="Liberation Sans" font-weight="bold" font-size="11.4" text-anchor="middle" fill="#222" stroke="#222" stroke-width="0.3">5</text>
<text transform="translate(207.9,251.8) scale(0.83,1)" font-family="Liberation Sans" font-weight="bold" font-size="11.4" text-anchor="middle" fill="#222" stroke="#222" stroke-width="0.3">6</text>
<text transform="translate(237.0,251.8) scale(0.83,1)" font-family="Liberation Sans" font-weight="bold" font-size="11.4" text-anchor="middle" fill="#222" stroke="#222" stroke-width="0.3">7</text>
<text transform="translate(270.6,251.8) scale(0.83,1)" font-family="Liberation Sans" font-weight="bold" font-size="11.4" text-anchor="middle" fill="#222" stroke="#222" stroke-width="0.3">8</text>
<text transform="translate(303.4,251.8) scale(0.83,1)" font-family="Liberation Sans" font-weight="bold" font-size="11.4" text-anchor="middle" fill="#222" stroke="#222" stroke-width="0.3">9</text>
<text transform="translate(334.7,251.8) scale(0.83,1)" font-family="Liberation Sans" font-weight="bold" font-size="11.4" text-anchor="middle" fill="#222" stroke="#222" stroke-width="0.3">10</text>
<text transform="translate(363.6,251.8) scale(0.83,1)" font-family="Liberation Sans" font-weight="bold" font-size="11.4" text-anchor="middle" fill="#222" stroke="#222" stroke-width="0.3">11</text>
<text transform="translate(387.2,251.8) scale(0.83,1)" font-family="Liberation Sans" font-weight="bold" font-size="11.4" text-anchor="middle" fill="#222" stroke="#222" stroke-width="0.3">12</text>
<text transform="translate(417.5,251.8) scale(0.83,1)" font-family="Liberation Sans" font-weight="bold" font-size="11.4" text-anchor="middle" fill="#222" stroke="#222" stroke-width="0.3">13</text>
<text transform="translate(452.2,251.8) scale(0.83,1)" font-family="Liberation Sans" font-weight="bold" font-size="11.4" text-anchor="middle" fill="#222" stroke="#222" stroke-width="0.3">14</text>
<text transform="translate(486.0,251.8) scale(0.83,1)" font-family="Liberation Sans" font-weight="bold" font-size="11.4" text-anchor="middle" fill="#222" stroke="#222" stroke-width="0.3">15</text>
<text transform="translate(519.4,251.8) scale(0.83,1)" font-family="Liberation Sans" font-weight="bold" font-size="11.4" text-anchor="middle" fill="#222" stroke="#222" stroke-width="0.3">16</text>
<text transform="translate(548.5,251.8) scale(0.83,1)" font-family="Liberation Sans" font-weight="bold" font-size="11.4" text-anchor="middle" fill="#222" stroke="#222" stroke-width="0.3">17</text>
<text transform="translate(588.2,251.8) scale(0.83,1)" font-family="Liberation Sans" font-weight="bold" font-size="11.4" text-anchor="middle" fill="#222" stroke="#222" stroke-width="0.3">18</text>
<text transform="translate(627.9,251.8) scale(0.83,1)" font-family="Liberation Sans" font-weight="bold" font-size="11.4" text-anchor="middle" fill="#222" stroke="#222" stroke-width="0.3">19</text>
<text transform="translate(655.6,251.8) scale(0.83,1)" font-family="Liberation Sans" font-weight="bold" font-size="11.4" text-anchor="middle" fill="#222" stroke="#222" stroke-width="0.3">20</text>
<line x1="48.2" y1="106.7" x2="666" y2="106.7" stroke="#8c3a50" stroke-width="1.7" stroke-dasharray="5.4 3.45"/>
<text x="62.6" y="54.0" font-family="Liberation Serif" font-weight="bold" font-size="14.4" fill="#222">a) Columbia, 2009</text>
<g fill="#276b27"><polygon points="50.6,461.5 50.6,416.7 51.6,414.7 52.6,412.7 53.6,417.8 54.6,417.4 55.6,417.0 56.6,416.6 57.6,407.7 58.6,402.4 59.6,401.4 60.6,400.4 61.6,397.1 62.6,390.1 63.6,388.1 64.6,388.1 65.6,388.1 66.6,388.1 67.6,388.1 68.6,388.1 69.6,388.1 70.6,388.1 71.6,388.1 72.6,391.7 73.6,400.6 74.6,396.6 75.6,403.9 75.8,405.7 75.8,461.5"/><circle cx="52.7" cy="416.2" r="3.6"/><circle cx="55.6" cy="412.3" r="3.6"/><circle cx="55.5" cy="413.9" r="3.6"/><circle cx="57.4" cy="411.0" r="3.6"/><circle cx="60.7" cy="396.6" r="3.6"/><circle cx="60.6" cy="400.4" r="3.6"/><circle cx="62.6" cy="395.5" r="3.6"/><circle cx="65.6" cy="382.5" r="3.6"/><circle cx="64.4" cy="384.7" r="3.6"/><circle cx="67.1" cy="382.9" r="3.6"/><circle cx="67.3" cy="385.2" r="3.6"/><circle cx="69.4" cy="382.4" r="3.6"/><circle cx="69.8" cy="384.7" r="3.6"/><circle cx="72.3" cy="396.1" r="3.6"/><circle cx="68.0" cy="364.3" r="3.6"/><circle cx="68.0" cy="378.5" r="3.6"/><circle cx="66.4" cy="381.8" r="3.6"/></g><g fill="#7c2378"><polygon points="75.0,461.5 75.0,418.8 76.0,414.8 77.0,413.4 78.0,418.9 79.0,418.4 80.0,418.4 81.0,418.3 82.0,418.3 83.0,418.2 84.0,419.7 85.0,421.7 86.0,423.2 87.0,423.6 88.0,424.0 89.0,422.8 90.0,412.7 91.0,411.7 92.0,410.7 93.0,409.4 94.0,403.4 95.0,398.2 96.0,394.2 97.0,393.6 98.0,393.4 99.0,393.1 100.0,393.2 101.0,393.8 102.0,394.5 103.0,395.2 104.0,395.8 105.0,396.4 106.0,396.4 107.0,396.4 108.0,396.4 109.0,396.4 110.0,397.7 111.0,393.0 112.0,397.2 112.3,399.6 112.3,461.5"/><circle cx="77.5" cy="417.0" r="3.6"/><circle cx="78.2" cy="418.4" r="3.6"/><circle cx="79.9" cy="413.4" r="3.6"/><circle cx="80.8" cy="416.8" r="3.6"/><circle cx="82.3" cy="415.3" r="3.6"/><circle cx="81.6" cy="416.4" r="3.6"/><circle cx="84.1" cy="418.4" r="3.6"/><circle cx="84.2" cy="419.8" r="3.6"/><circle cx="87.0" cy="418.6" r="3.6"/><circle cx="89.5" cy="420.8" r="3.6"/><circle cx="92.0" cy="407.8" r="3.6"/><circle cx="92.7" cy="410.2" r="3.6"/><circle cx="94.3" cy="404.2" r="3.6"/><circle cx="96.7" cy="392.9" r="3.6"/><circle cx="99.3" cy="388.6" r="3.6"/><circle cx="99.2" cy="390.2" r="3.6"/><circle cx="101.9" cy="389.4" r="3.6"/><circle cx="101.2" cy="391.7" r="3.6"/><circle cx="104.4" cy="390.9" r="3.6"/><circle cx="104.4" cy="393.9" r="3.6"/><circle cx="106.0" cy="391.3" r="3.6"/><circle cx="105.8" cy="394.0" r="3.6"/><circle cx="109.1" cy="393.1" r="3.6"/><circle cx="108.3" cy="395.1" r="3.6"/><circle cx="98.9" cy="318.4" r="3.6"/><circle cx="98.9" cy="323.4" r="3.6"/><circle cx="98.9" cy="328.4" r="3.6"/><circle cx="98.9" cy="333.4" r="3.6"/><circle cx="98.9" cy="338.4" r="3.6"/><circle cx="98.9" cy="341.7" r="3.6"/><circle cx="100.6" cy="364.3" r="3.6"/><circle cx="93.1" cy="368.4" r="3.6"/><circle cx="100.6" cy="373.5" r="3.6"/><circle cx="93.9" cy="376.8" r="3.6"/><circle cx="93.1" cy="381.8" r="3.6"/><circle cx="80.6" cy="373.5" r="3.6"/><circle cx="80.6" cy="389.3" r="3.6"/><circle cx="78.9" cy="396.8" r="3.6"/><circle cx="80.6" cy="408.5" r="3.6"/></g><g fill="#2c2a84"><polygon points="111.5,461.5 111.5,396.9 112.5,395.9 113.5,395.2 114.5,400.9 115.5,400.6 116.5,400.2 117.5,399.9 118.5,396.3 119.5,389.7 120.5,383.1 121.5,383.1 122.5,383.1 123.5,383.1 124.5,383.1 125.5,383.1 126.5,383.1 127.5,383.5 128.5,389.5 129.5,395.5 130.5,398.3 131.5,398.6 132.5,398.9 133.5,399.3 134.5,399.6 135.5,405.3 136.5,415.3 137.5,418.6 138.5,415.0 139.5,417.4 139.6,417.6 139.6,461.5"/><circle cx="114.5" cy="397.3" r="3.6"/><circle cx="115.0" cy="398.6" r="3.6"/><circle cx="116.4" cy="395.0" r="3.6"/><circle cx="116.7" cy="398.7" r="3.6"/><circle cx="118.2" cy="394.2" r="3.6"/><circle cx="121.7" cy="384.4" r="3.6"/><circle cx="123.3" cy="378.3" r="3.6"/><circle cx="123.0" cy="379.9" r="3.6"/><circle cx="126.0" cy="380.1" r="3.6"/><circle cx="127.9" cy="392.5" r="3.6"/><circle cx="130.5" cy="394.0" r="3.6"/><circle cx="131.5" cy="396.6" r="3.6"/><circle cx="133.6" cy="394.8" r="3.6"/><circle cx="133.2" cy="397.7" r="3.6"/><circle cx="136.1" cy="413.2" r="3.6"/><circle cx="124.5" cy="355.1" r="3.6"/><circle cx="126.5" cy="390.2" r="3.6"/></g><g fill="#030303"><polygon points="138.8,461.5 138.8,418.1 139.8,414.1 140.8,413.3 141.8,418.8 142.8,418.3 143.8,418.3 144.8,418.2 145.8,418.2 146.8,418.1 147.8,418.5 148.8,418.9 149.8,419.3 150.8,419.7 151.8,421.7 152.8,419.2 153.8,415.2 154.8,410.2 155.8,409.4 156.8,409.0 157.8,408.6 158.8,408.2 159.8,408.1 160.8,408.1 161.8,408.1 162.8,408.1 163.8,408.1 164.8,408.1 165.8,402.1 166.8,402.1 166.9,402.1 166.9,461.5"/><circle cx="141.0" cy="416.4" r="3.6"/><circle cx="141.9" cy="418.1" r="3.6"/><circle cx="144.1" cy="413.6" r="3.6"/><circle cx="145.8" cy="413.9" r="3.6"/><circle cx="148.8" cy="413.6" r="3.6"/><circle cx="149.1" cy="415.5" r="3.6"/><circle cx="150.6" cy="419.8" r="3.6"/><circle cx="152.8" cy="416.9" r="3.6"/><circle cx="155.8" cy="409.9" r="3.6"/><circle cx="158.6" cy="404.7" r="3.6"/><circle cx="157.2" cy="405.4" r="3.6"/><circle cx="160.6" cy="403.7" r="3.6"/><circle cx="161.5" cy="405.0" r="3.6"/><circle cx="163.4" cy="403.4" r="3.6"/><circle cx="162.5" cy="405.5" r="3.6"/><circle cx="164.7" cy="354.3" r="3.6"/><circle cx="164.2" cy="381.8" r="3.6"/><circle cx="164.2" cy="386.8" r="3.6"/><circle cx="143.3" cy="388.5" r="3.6"/><circle cx="146.7" cy="391.8" r="3.6"/><circle cx="143.3" cy="396.8" r="3.6"/><circle cx="146.7" cy="400.2" r="3.6"/></g><g fill="#f0a63c"><polygon points="166.1,461.5 166.1,403.9 167.1,401.3 168.1,399.7 169.1,404.7 170.1,403.7 171.1,403.6 172.1,403.5 173.1,403.4 174.1,403.3 175.1,404.2 176.1,405.7 177.1,405.7 178.1,404.9 179.1,404.8 180.1,404.8 181.1,404.8 182.1,404.9 183.1,405.4 184.1,405.9 185.1,406.4 186.1,410.0 187.1,413.3 188.1,414.3 189.1,415.3 190.1,416.3 191.1,420.0 192.1,417.6 193.1,419.6 194.1,421.6 194.1,421.6 194.1,461.5"/><circle cx="168.8" cy="403.5" r="3.6"/><circle cx="168.3" cy="405.1" r="3.6"/><circle cx="170.5" cy="398.8" r="3.6"/><circle cx="171.2" cy="400.8" r="3.6"/><circle cx="173.0" cy="399.5" r="3.6"/><circle cx="172.9" cy="401.2" r="3.6"/><circle cx="176.4" cy="403.4" r="3.6"/><circle cx="178.8" cy="401.2" r="3.6"/><circle cx="177.8" cy="402.6" r="3.6"/><circle cx="180.5" cy="399.1" r="3.6"/><circle cx="179.8" cy="402.6" r="3.6"/><circle cx="183.2" cy="401.7" r="3.6"/><circle cx="182.3" cy="403.8" r="3.6"/><circle cx="185.4" cy="408.3" r="3.6"/><circle cx="187.7" cy="411.0" r="3.6"/><circle cx="188.5" cy="412.4" r="3.6"/><circle cx="189.9" cy="418.0" r="3.6"/><circle cx="175.4" cy="372.6" r="3.6"/><circle cx="175.1" cy="390.2" r="3.6"/><circle cx="182.6" cy="395.2" r="3.6"/></g><g fill="#276b27"><polygon points="193.3,461.5 193.3,425.4 194.3,419.8 195.3,415.8 196.3,417.8 197.3,415.4 198.3,413.9 199.3,412.4 200.3,411.5 201.3,411.6 202.3,411.6 203.3,411.6 204.3,411.7 205.3,412.0 206.3,412.3 207.3,412.7 208.3,413.0 209.3,414.2 210.3,415.7 211.3,417.2 212.3,418.3 213.3,418.8 214.3,419.3 215.3,419.8 216.3,419.8 217.3,419.8 218.3,419.8 219.3,419.8 220.3,419.9 221.3,415.9 222.3,417.9 222.7,418.7 222.7,461.5"/><circle cx="195.3" cy="421.5" r="3.6"/><circle cx="198.6" cy="412.3" r="3.6"/><circle cx="200.8" cy="407.3" r="3.6"/><circle cx="200.7" cy="410.2" r="3.6"/><circle cx="203.0" cy="406.5" r="3.6"/><circle cx="205.2" cy="408.1" r="3.6"/><circle cx="206.1" cy="409.6" r="3.6"/><circle cx="208.3" cy="409.8" r="3.6"/><circle cx="207.6" cy="411.0" r="3.6"/><circle cx="209.8" cy="412.5" r="3.6"/><circle cx="209.4" cy="415.3" r="3.6"/><circle cx="212.7" cy="414.3" r="3.6"/><circle cx="213.1" cy="417.0" r="3.6"/><circle cx="215.6" cy="414.0" r="3.6"/><circle cx="215.6" cy="416.6" r="3.6"/><circle cx="217.6" cy="414.5" r="3.6"/><circle cx="216.9" cy="416.3" r="3.6"/><circle cx="219.6" cy="417.9" r="3.6"/><circle cx="220.1" cy="418.8" r="3.6"/><circle cx="202.1" cy="391.5" r="3.6"/><circle cx="216.0" cy="393.5" r="3.6"/><circle cx="216.0" cy="400.2" r="3.6"/></g><g fill="#7c2378"><polygon points="221.9,461.5 221.9,391.1 222.9,389.5 223.9,389.1 224.9,395.1 225.9,395.0 226.9,394.8 227.9,395.4 228.9,396.0 229.9,396.7 230.9,397.4 231.9,398.0 232.9,399.5 233.9,400.9 234.9,399.9 235.9,399.8 236.9,400.0 237.9,400.4 238.9,400.8 239.9,404.6 240.9,408.4 241.9,412.1 242.9,415.9 243.9,418.3 244.9,417.3 245.9,415.8 246.9,414.6 247.9,414.1 248.9,413.6 249.9,413.1 250.9,407.4 251.9,407.5 252.4,407.2 252.4,461.5"/><circle cx="224.7" cy="390.1" r="3.6"/><circle cx="224.3" cy="393.7" r="3.6"/><circle cx="226.9" cy="391.2" r="3.6"/><circle cx="227.4" cy="393.4" r="3.6"/><circle cx="229.6" cy="392.9" r="3.6"/><circle cx="229.2" cy="393.7" r="3.6"/><circle cx="232.2" cy="395.3" r="3.6"/><circle cx="232.0" cy="397.6" r="3.6"/><circle cx="233.3" cy="398.7" r="3.6"/><circle cx="236.4" cy="394.4" r="3.6"/><circle cx="236.4" cy="397.2" r="3.6"/><circle cx="238.9" cy="402.6" r="3.6"/><circle cx="241.4" cy="411.2" r="3.6"/><circle cx="243.7" cy="413.5" r="3.6"/><circle cx="242.7" cy="415.2" r="3.6"/><circle cx="246.2" cy="412.9" r="3.6"/><circle cx="246.0" cy="416.0" r="3.6"/><circle cx="248.1" cy="409.2" r="3.6"/><circle cx="247.8" cy="412.6" r="3.6"/><circle cx="229.8" cy="366.8" r="3.6"/><circle cx="241.8" cy="328.4" r="3.6"/><circle cx="241.8" cy="344.2" r="3.6"/><circle cx="227.6" cy="401.8" r="3.6"/><circle cx="231.8" cy="403.5" r="3.6"/><circle cx="242.5" cy="329.2" r="3.6"/><circle cx="242.5" cy="344.2" r="3.6"/><circle cx="241.7" cy="381.8" r="3.6"/><circle cx="248.4" cy="380.1" r="3.6"/><circle cx="239.2" cy="390.2" r="3.6"/><circle cx="245.0" cy="386.8" r="3.6"/><circle cx="250.9" cy="388.5" r="3.6"/><circle cx="241.7" cy="395.2" r="3.6"/></g><g fill="#2c2a84"><polygon points="251.6,461.5 251.6,417.3 252.6,410.0 253.6,408.0 254.6,412.0 255.6,410.0 256.6,406.3 257.6,402.3 258.6,397.8 259.6,392.5 260.6,387.2 261.6,384.7 262.6,382.7 263.6,382.3 264.6,382.3 265.6,382.1 266.6,381.9 267.6,383.4 268.6,386.1 269.6,389.7 270.6,396.4 271.6,403.0 272.6,399.4 273.6,392.4 274.6,385.4 275.6,381.7 276.6,379.7 277.6,377.7 278.6,377.5 279.6,377.3 280.6,377.1 281.6,376.9 282.6,380.0 283.6,385.0 284.6,390.0 285.6,394.6 286.6,398.6 287.6,402.6 288.6,399.4 289.6,402.1 289.7,402.4 289.7,461.5"/><circle cx="253.9" cy="411.2" r="3.6"/><circle cx="256.2" cy="406.7" r="3.6"/><circle cx="258.5" cy="398.7" r="3.6"/><circle cx="260.8" cy="387.0" r="3.6"/><circle cx="263.7" cy="378.7" r="3.6"/><circle cx="264.6" cy="380.3" r="3.6"/><circle cx="265.6" cy="379.5" r="3.6"/><circle cx="267.1" cy="380.4" r="3.6"/><circle cx="271.2" cy="400.4" r="3.6"/><circle cx="276.0" cy="384.4" r="3.6"/><circle cx="278.1" cy="374.9" r="3.6"/><circle cx="280.5" cy="373.9" r="3.6"/><circle cx="282.5" cy="385.4" r="3.6"/><circle cx="285.7" cy="394.8" r="3.6"/><circle cx="267.6" cy="359.3" r="3.6"/><circle cx="279.2" cy="366.8" r="3.6"/><circle cx="285.9" cy="390.2" r="3.6"/></g><g fill="#030303"><polygon points="288.9,461.5 288.9,412.6 289.9,404.3 290.9,403.3 291.9,408.8 292.9,408.3 293.9,408.1 294.9,408.1 295.9,408.1 296.9,408.1 297.9,408.1 298.9,408.1 299.9,408.1 300.9,408.1 301.9,408.1 302.9,409.1 303.9,410.1 304.9,411.1 305.9,412.1 306.9,413.1 307.9,415.1 308.9,417.1 309.9,415.9 310.9,414.8 311.9,414.8 312.9,414.8 313.9,414.8 314.9,414.8 315.9,414.8 316.9,408.8 317.9,409.5 318.2,411.1 318.2,461.5"/><circle cx="291.2" cy="407.5" r="3.6"/><circle cx="293.7" cy="403.9" r="3.6"/><circle cx="294.3" cy="405.6" r="3.6"/><circle cx="296.4" cy="403.2" r="3.6"/><circle cx="296.5" cy="405.9" r="3.6"/><circle cx="298.9" cy="402.3" r="3.6"/><circle cx="299.6" cy="405.0" r="3.6"/><circle cx="300.9" cy="404.1" r="3.6"/><circle cx="300.9" cy="405.5" r="3.6"/><circle cx="303.7" cy="406.9" r="3.6"/><circle cx="303.9" cy="408.6" r="3.6"/><circle cx="306.3" cy="409.9" r="3.6"/><circle cx="305.5" cy="411.9" r="3.6"/><circle cx="310.6" cy="411.3" r="3.6"/><circle cx="310.1" cy="414.3" r="3.6"/><circle cx="313.6" cy="409.4" r="3.6"/><circle cx="312.5" cy="412.0" r="3.6"/><circle cx="315.2" cy="409.8" r="3.6"/><circle cx="315.5" cy="411.5" r="3.6"/><circle cx="306.5" cy="392.2" r="3.6"/><circle cx="301.4" cy="400.2" r="3.6"/></g><g fill="#f0a63c"><polygon points="317.4,461.5 317.4,399.8 318.4,390.3 319.4,389.0 320.4,393.7 321.4,392.3 322.4,391.0 323.4,389.8 324.4,389.8 325.4,389.9 326.4,390.0 327.4,390.0 328.4,390.7 329.4,391.4 330.4,392.0 331.4,392.7 332.4,393.8 333.4,395.3 334.4,396.8 335.4,398.4 336.4,399.9 337.4,401.4 338.4,403.0 339.4,404.5 340.4,406.0 341.4,407.5 342.4,408.3 343.4,408.6 344.4,409.0 345.4,409.3 346.4,409.6 347.4,404.0 348.4,404.3 349.2,404.6 349.2,461.5"/><circle cx="320.1" cy="393.6" r="3.6"/><circle cx="322.2" cy="388.4" r="3.6"/><circle cx="325.3" cy="385.4" r="3.6"/><circle cx="325.4" cy="387.2" r="3.6"/><circle cx="327.2" cy="385.6" r="3.6"/><circle cx="326.2" cy="388.9" r="3.6"/><circle cx="329.3" cy="386.8" r="3.6"/><circle cx="328.9" cy="390.3" r="3.6"/><circle cx="332.1" cy="389.9" r="3.6"/><circle cx="331.9" cy="393.5" r="3.6"/><circle cx="333.9" cy="393.8" r="3.6"/><circle cx="335.2" cy="395.6" r="3.6"/><circle cx="336.5" cy="397.7" r="3.6"/><circle cx="337.4" cy="399.7" r="3.6"/><circle cx="338.7" cy="401.2" r="3.6"/><circle cx="341.5" cy="403.1" r="3.6"/><circle cx="341.1" cy="405.0" r="3.6"/><circle cx="343.7" cy="404.4" r="3.6"/><circle cx="346.4" cy="404.8" r="3.6"/><circle cx="346.6" cy="407.9" r="3.6"/><circle cx="325.2" cy="373.5" r="3.6"/></g><g fill="#276b27"><polygon points="348.4,461.5 348.4,414.5 349.4,401.8 350.4,400.8 351.4,405.8 352.4,404.8 353.4,402.8 354.4,400.8 355.4,398.8 356.4,398.6 357.4,398.4 358.4,398.2 359.4,398.1 360.4,399.3 361.4,400.5 362.4,401.7 363.4,401.7 364.4,401.4 365.4,401.4 366.4,401.4 367.4,401.4 368.4,401.4 369.4,401.4 370.4,401.4 371.4,401.4 372.4,402.2 373.4,403.7 374.4,399.2 375.4,402.0 376.4,410.0 376.4,461.5"/><circle cx="350.7" cy="402.3" r="3.6"/><circle cx="353.7" cy="400.4" r="3.6"/><circle cx="356.1" cy="395.8" r="3.6"/><circle cx="358.5" cy="392.8" r="3.6"/><circle cx="358.7" cy="396.4" r="3.6"/><circle cx="361.0" cy="396.6" r="3.6"/><circle cx="360.5" cy="398.7" r="3.6"/><circle cx="362.5" cy="397.7" r="3.6"/><circle cx="362.6" cy="400.1" r="3.6"/><circle cx="365.9" cy="397.0" r="3.6"/><circle cx="365.2" cy="398.3" r="3.6"/><circle cx="368.3" cy="396.4" r="3.6"/><circle cx="367.2" cy="398.5" r="3.6"/><circle cx="370.6" cy="395.9" r="3.6"/><circle cx="369.4" cy="398.4" r="3.6"/><circle cx="372.4" cy="399.5" r="3.6"/><circle cx="373.2" cy="401.2" r="3.6"/><circle cx="358.7" cy="372.1" r="3.6"/><circle cx="358.7" cy="381.8" r="3.6"/><circle cx="369.2" cy="382.6" r="3.6"/><circle cx="359.2" cy="391.0" r="3.6"/><circle cx="370.1" cy="393.5" r="3.6"/></g><g fill="#7c2378"><polygon points="375.6,461.5 375.6,402.9 376.6,398.8 377.6,396.8 378.6,401.3 379.6,401.0 380.6,400.6 381.6,400.3 382.6,400.0 383.6,399.6 384.6,399.2 385.6,398.8 386.6,398.4 387.6,398.0 388.6,397.3 389.6,396.7 390.6,396.6 391.6,396.5 392.6,396.5 393.6,396.6 394.6,401.9 395.6,407.2 396.6,411.2 397.6,407.8 398.6,410.7 398.8,413.1 398.8,461.5"/><circle cx="377.8" cy="400.2" r="3.6"/><circle cx="380.7" cy="396.1" r="3.6"/><circle cx="379.7" cy="399.1" r="3.6"/><circle cx="382.4" cy="395.6" r="3.6"/><circle cx="385.3" cy="394.6" r="3.6"/><circle cx="385.8" cy="397.5" r="3.6"/><circle cx="387.9" cy="393.1" r="3.6"/><circle cx="388.2" cy="395.7" r="3.6"/><circle cx="390.3" cy="392.3" r="3.6"/><circle cx="390.8" cy="393.5" r="3.6"/><circle cx="392.2" cy="395.5" r="3.6"/><circle cx="395.3" cy="406.8" r="3.6"/><circle cx="392.6" cy="385.1" r="3.6"/><circle cx="384.3" cy="391.0" r="3.6"/><circle cx="387.6" cy="393.5" r="3.6"/></g><g fill="#2c2a84"><polygon points="398.0,461.5 398.0,411.9 399.0,411.5 400.0,411.1 401.0,416.7 402.0,416.7 403.0,416.6 404.0,416.6 405.0,416.5 406.0,416.9 407.0,417.6 408.0,418.3 409.0,418.2 410.0,417.6 411.0,416.9 412.0,416.6 413.0,416.6 414.0,416.6 415.0,416.6 416.0,416.7 417.0,417.0 418.0,417.4 419.0,417.3 420.0,417.0 421.0,416.7 422.0,415.7 423.0,413.3 424.0,410.9 425.0,408.5 426.0,406.1 427.0,403.7 428.0,401.3 429.0,398.9 430.0,396.5 431.0,394.9 432.0,395.0 433.0,395.1 434.0,395.1 435.0,395.2 436.0,389.9 437.0,391.1 437.2,391.9 437.2,461.5"/><circle cx="400.5" cy="414.7" r="3.6"/><circle cx="402.8" cy="411.8" r="3.6"/><circle cx="402.3" cy="413.6" r="3.6"/><circle cx="405.2" cy="411.7" r="3.6"/><circle cx="404.9" cy="415.1" r="3.6"/><circle cx="407.9" cy="414.0" r="3.6"/><circle cx="410.5" cy="412.7" r="3.6"/><circle cx="409.4" cy="415.4" r="3.6"/><circle cx="412.4" cy="412.0" r="3.6"/><circle cx="413.4" cy="414.4" r="3.6"/><circle cx="414.6" cy="411.0" r="3.6"/><circle cx="414.8" cy="413.3" r="3.6"/><circle cx="417.7" cy="412.4" r="3.6"/><circle cx="416.5" cy="415.1" r="3.6"/><circle cx="420.1" cy="412.9" r="3.6"/><circle cx="419.8" cy="413.9" r="3.6"/><circle cx="422.2" cy="412.2" r="3.6"/><circle cx="421.7" cy="414.8" r="3.6"/><circle cx="424.8" cy="408.8" r="3.6"/><circle cx="427.5" cy="402.6" r="3.6"/><circle cx="429.0" cy="397.6" r="3.6"/><circle cx="432.2" cy="391.3" r="3.6"/><circle cx="433.7" cy="390.5" r="3.6"/><circle cx="428.5" cy="361.8" r="3.6"/><circle cx="430.2" cy="359.3" r="3.6"/><circle cx="401.8" cy="396.8" r="3.6"/><circle cx="401.8" cy="400.2" r="3.6"/><circle cx="410.1" cy="391.8" r="3.6"/><circle cx="416.8" cy="382.6" r="3.6"/><circle cx="416.8" cy="390.2" r="3.6"/><circle cx="423.5" cy="393.5" r="3.6"/><circle cx="431.8" cy="386.8" r="3.6"/><circle cx="430.2" cy="395.2" r="3.6"/><circle cx="430.0" cy="359.3" r="3.6"/><circle cx="427.5" cy="363.4" r="3.6"/><circle cx="434.2" cy="384.3" r="3.6"/></g><g fill="#030303"><polygon points="436.4,461.5 436.4,402.3 437.4,400.1 438.4,399.8 439.4,405.5 440.4,405.1 441.4,404.8 442.4,402.0 443.4,398.6 444.4,396.7 445.4,396.8 446.4,396.8 447.4,396.9 448.4,397.0 449.4,397.8 450.4,398.6 451.4,399.4 452.4,402.7 453.4,408.1 454.4,413.2 455.4,415.2 456.4,412.1 457.4,410.2 458.4,408.7 459.4,407.2 460.4,406.7 461.4,406.7 462.4,406.8 463.4,406.6 464.4,406.9 465.4,407.4 466.4,401.9 467.4,403.9 468.3,406.9 468.3,461.5"/><circle cx="441.7" cy="400.7" r="3.6"/><circle cx="441.4" cy="403.3" r="3.6"/><circle cx="443.3" cy="398.4" r="3.6"/><circle cx="445.6" cy="390.9" r="3.6"/><circle cx="445.7" cy="394.6" r="3.6"/><circle cx="448.4" cy="393.8" r="3.6"/><circle cx="451.4" cy="399.8" r="3.6"/><circle cx="453.3" cy="409.4" r="3.6"/><circle cx="455.2" cy="414.0" r="3.6"/><circle cx="458.7" cy="406.9" r="3.6"/><circle cx="461.1" cy="403.3" r="3.6"/><circle cx="461.4" cy="405.8" r="3.6"/><circle cx="463.3" cy="402.5" r="3.6"/><circle cx="463.5" cy="403.4" r="3.6"/><circle cx="464.9" cy="404.0" r="3.6"/><circle cx="466.1" cy="405.3" r="3.6"/><circle cx="465.4" cy="352.6" r="3.6"/><circle cx="441.7" cy="376.8" r="3.6"/><circle cx="460.4" cy="382.1" r="3.6"/><circle cx="447.5" cy="388.5" r="3.6"/></g><g fill="#f0a63c"><polygon points="467.5,461.5 467.5,407.1 468.5,406.8 469.5,406.5 470.5,412.2 471.5,411.9 472.5,411.7 473.5,411.5 474.5,411.5 475.5,411.6 476.5,411.5 477.5,411.6 478.5,412.0 479.5,412.3 480.5,412.6 481.5,413.0 482.5,413.7 483.5,414.7 484.5,415.7 485.5,416.9 486.5,418.5 487.5,420.1 488.5,421.7 489.5,423.2 490.5,424.0 491.5,424.2 492.5,422.7 493.5,421.2 494.5,419.6 495.5,418.0 496.5,416.4 497.5,414.8 498.5,414.3 499.5,413.8 500.5,413.3 501.5,413.2 502.5,407.2 503.5,407.1 504.2,407.2 504.2,461.5"/><circle cx="469.6" cy="408.2" r="3.6"/><circle cx="470.8" cy="409.2" r="3.6"/><circle cx="472.3" cy="407.0" r="3.6"/><circle cx="471.6" cy="410.2" r="3.6"/><circle cx="474.6" cy="406.4" r="3.6"/><circle cx="475.7" cy="407.6" r="3.6"/><circle cx="477.8" cy="407.4" r="3.6"/><circle cx="477.8" cy="409.6" r="3.6"/><circle cx="480.1" cy="408.1" r="3.6"/><circle cx="478.7" cy="410.1" r="3.6"/><circle cx="482.4" cy="410.1" r="3.6"/><circle cx="482.9" cy="411.2" r="3.6"/><circle cx="484.7" cy="412.6" r="3.6"/><circle cx="483.6" cy="415.5" r="3.6"/><circle cx="486.4" cy="417.1" r="3.6"/><circle cx="486.3" cy="419.7" r="3.6"/><circle cx="488.7" cy="419.7" r="3.6"/><circle cx="491.8" cy="421.7" r="3.6"/><circle cx="491.5" cy="423.6" r="3.6"/><circle cx="493.6" cy="417.2" r="3.6"/><circle cx="493.4" cy="421.0" r="3.6"/><circle cx="496.0" cy="414.5" r="3.6"/><circle cx="495.7" cy="415.8" r="3.6"/><circle cx="498.5" cy="409.6" r="3.6"/><circle cx="499.1" cy="412.6" r="3.6"/><circle cx="500.9" cy="408.1" r="3.6"/><circle cx="502.1" cy="411.5" r="3.6"/><circle cx="480.1" cy="389.3" r="3.6"/><circle cx="478.4" cy="400.2" r="3.6"/><circle cx="497.1" cy="396.8" r="3.6"/></g><g fill="#276b27"><polygon points="503.4,461.5 503.4,419.8 504.4,409.8 505.4,401.4 506.4,401.4 507.4,395.4 508.4,394.8 509.4,394.8 510.4,394.8 511.4,394.8 512.4,395.1 513.4,395.4 514.4,395.7 515.4,396.0 516.4,396.3 517.4,397.1 518.4,398.6 519.4,400.1 520.4,400.2 521.4,399.8 522.4,399.6 523.4,399.4 524.4,399.2 525.4,398.6 526.4,397.6 527.4,396.6 528.4,396.0 529.4,396.1 530.4,396.3 531.4,390.2 532.4,390.5 532.7,390.9 532.7,461.5"/><circle cx="505.6" cy="413.0" r="3.6"/><circle cx="508.8" cy="395.5" r="3.6"/><circle cx="510.6" cy="389.6" r="3.6"/><circle cx="509.7" cy="391.6" r="3.6"/><circle cx="512.6" cy="390.6" r="3.6"/><circle cx="512.3" cy="392.7" r="3.6"/><circle cx="516.1" cy="391.2" r="3.6"/><circle cx="515.0" cy="394.4" r="3.6"/><circle cx="519.6" cy="397.9" r="3.6"/><circle cx="522.6" cy="395.0" r="3.6"/><circle cx="523.7" cy="397.2" r="3.6"/><circle cx="524.8" cy="394.3" r="3.6"/><circle cx="525.5" cy="396.9" r="3.6"/><circle cx="527.5" cy="392.8" r="3.6"/><circle cx="530.3" cy="389.9" r="3.6"/><circle cx="530.2" cy="393.6" r="3.6"/><circle cx="515.2" cy="373.8" r="3.6"/><circle cx="511.0" cy="383.5" r="3.6"/><circle cx="528.5" cy="368.4" r="3.6"/><circle cx="528.5" cy="380.1" r="3.6"/><circle cx="530.4" cy="369.1" r="3.6"/><circle cx="530.4" cy="378.6" r="3.6"/><circle cx="522.5" cy="401.2" r="3.6"/></g><g fill="#7c2378"><polygon points="531.9,461.5 531.9,419.8 532.9,414.7 533.9,404.7 534.9,405.7 535.9,401.7 536.9,399.0 537.9,398.6 538.9,398.3 539.9,398.0 540.9,397.6 541.9,397.6 542.9,397.6 543.9,397.5 544.9,397.5 545.9,402.5 546.9,403.8 547.9,402.8 548.9,401.8 549.9,400.8 550.9,400.9 551.9,401.0 552.9,401.2 553.9,401.3 554.9,402.8 555.9,404.3 556.9,405.9 557.9,408.5 558.9,410.9 559.9,410.8 560.9,410.8 561.9,405.0 562.9,405.2 563.7,406.8 563.7,461.5"/><circle cx="534.4" cy="417.6" r="3.6"/><circle cx="536.7" cy="400.2" r="3.6"/><circle cx="539.3" cy="393.8" r="3.6"/><circle cx="541.8" cy="392.2" r="3.6"/><circle cx="541.6" cy="395.6" r="3.6"/><circle cx="544.4" cy="396.4" r="3.6"/><circle cx="546.4" cy="403.9" r="3.6"/><circle cx="549.2" cy="398.8" r="3.6"/><circle cx="548.3" cy="400.7" r="3.6"/><circle cx="551.0" cy="396.1" r="3.6"/><circle cx="552.1" cy="398.5" r="3.6"/><circle cx="553.5" cy="398.1" r="3.6"/><circle cx="552.8" cy="401.6" r="3.6"/><circle cx="556.2" cy="402.5" r="3.6"/><circle cx="558.2" cy="407.0" r="3.6"/><circle cx="557.6" cy="408.8" r="3.6"/><circle cx="560.6" cy="405.9" r="3.6"/><circle cx="560.2" cy="408.7" r="3.6"/></g><g fill="#2c2a84"><polygon points="562.9,461.5 562.9,413.4 563.9,406.9 564.9,404.9 565.9,408.9 566.9,407.6 567.9,406.3 568.9,405.8 569.9,405.8 570.9,405.8 571.9,405.8 572.9,405.8 573.9,405.8 574.9,405.8 575.9,405.8 576.9,405.8 577.9,407.1 578.9,408.4 579.9,411.5 580.9,416.1 581.9,420.8 582.9,421.3 583.9,421.3 584.9,420.8 585.9,420.8 586.9,421.0 587.9,421.1 588.9,421.3 589.9,422.8 590.9,421.8 591.9,413.8 592.9,405.8 593.9,397.8 594.9,395.5 595.9,395.3 596.9,395.0 597.9,394.7 598.9,394.4 599.9,394.1 600.9,394.1 601.9,394.3 602.9,394.3 603.9,395.2 604.9,399.0 605.9,402.8 606.9,406.5 607.9,407.7 608.9,408.9 609.9,410.1 610.9,405.3 611.9,409.9 612.1,410.9 612.1,461.5"/><circle cx="565.9" cy="407.6" r="3.6"/><circle cx="567.9" cy="403.7" r="3.6"/><circle cx="568.5" cy="406.3" r="3.6"/><circle cx="570.0" cy="400.5" r="3.6"/><circle cx="570.0" cy="403.2" r="3.6"/><circle cx="573.1" cy="401.0" r="3.6"/><circle cx="573.0" cy="401.9" r="3.6"/><circle cx="575.0" cy="400.7" r="3.6"/><circle cx="578.3" cy="405.0" r="3.6"/><circle cx="579.6" cy="414.0" r="3.6"/><circle cx="582.5" cy="416.1" r="3.6"/><circle cx="583.0" cy="417.9" r="3.6"/><circle cx="584.3" cy="417.0" r="3.6"/><circle cx="584.4" cy="419.6" r="3.6"/><circle cx="587.5" cy="416.3" r="3.6"/><circle cx="586.6" cy="419.0" r="3.6"/><circle cx="589.6" cy="419.4" r="3.6"/><circle cx="589.0" cy="422.3" r="3.6"/><circle cx="591.6" cy="417.6" r="3.6"/><circle cx="593.7" cy="403.7" r="3.6"/><circle cx="596.5" cy="390.8" r="3.6"/><circle cx="598.9" cy="389.4" r="3.6"/><circle cx="598.6" cy="392.2" r="3.6"/><circle cx="601.1" cy="389.5" r="3.6"/><circle cx="601.7" cy="391.3" r="3.6"/><circle cx="603.3" cy="396.1" r="3.6"/><circle cx="605.7" cy="402.2" r="3.6"/><circle cx="598.5" cy="302.3" r="3.6"/><circle cx="600.1" cy="343.6" r="3.6"/><circle cx="597.6" cy="347.8" r="3.6"/><circle cx="601.8" cy="353.6" r="3.6"/><circle cx="601.8" cy="360.3" r="3.6"/><circle cx="600.1" cy="366.1" r="3.6"/><circle cx="600.1" cy="372.8" r="3.6"/><circle cx="601.8" cy="382.8" r="3.6"/><circle cx="572.6" cy="366.1" r="3.6"/><circle cx="572.6" cy="377.8" r="3.6"/><circle cx="571.8" cy="382.8" r="3.6"/><circle cx="570.1" cy="387.0" r="3.6"/><circle cx="600.0" cy="343.4" r="3.6"/><circle cx="596.7" cy="347.6" r="3.6"/><circle cx="602.5" cy="353.4" r="3.6"/><circle cx="601.7" cy="359.3" r="3.6"/><circle cx="600.0" cy="366.8" r="3.6"/><circle cx="600.0" cy="373.5" r="3.6"/><circle cx="601.7" cy="383.5" r="3.6"/></g><g fill="#030303"><polygon points="611.3,461.5 611.3,416.0 612.3,413.5 613.3,413.2 614.3,418.9 615.3,418.5 616.3,418.2 617.3,417.9 618.3,417.5 619.3,417.2 620.3,416.9 621.3,416.5 622.3,415.5 623.3,414.2 624.3,412.9 625.3,411.5 626.3,410.2 627.3,409.8 628.3,409.8 629.3,409.8 630.3,409.8 631.3,409.8 632.3,409.5 633.3,409.1 634.3,408.7 635.3,408.3 636.3,408.1 637.3,408.1 638.3,408.1 639.3,408.1 640.3,408.1 641.3,402.1 642.3,402.1 643.2,402.1 643.2,461.5"/><circle cx="614.2" cy="413.8" r="3.6"/><circle cx="614.4" cy="417.4" r="3.6"/><circle cx="616.7" cy="413.8" r="3.6"/><circle cx="616.6" cy="415.2" r="3.6"/><circle cx="618.2" cy="413.0" r="3.6"/><circle cx="619.5" cy="414.4" r="3.6"/><circle cx="620.7" cy="412.0" r="3.6"/><circle cx="623.7" cy="411.3" r="3.6"/><circle cx="622.7" cy="412.8" r="3.6"/><circle cx="626.4" cy="408.7" r="3.6"/><circle cx="625.3" cy="409.2" r="3.6"/><circle cx="627.9" cy="405.4" r="3.6"/><circle cx="628.0" cy="406.9" r="3.6"/><circle cx="630.8" cy="404.5" r="3.6"/><circle cx="633.5" cy="404.6" r="3.6"/><circle cx="635.2" cy="404.1" r="3.6"/><circle cx="635.7" cy="406.2" r="3.6"/><circle cx="638.4" cy="402.5" r="3.6"/><circle cx="638.2" cy="405.7" r="3.6"/><circle cx="640.4" cy="403.0" r="3.6"/><circle cx="618.4" cy="340.9" r="3.6"/><circle cx="618.4" cy="346.7" r="3.6"/><circle cx="618.4" cy="352.6" r="3.6"/><circle cx="620.1" cy="391.0" r="3.6"/><circle cx="640.1" cy="391.0" r="3.6"/><circle cx="616.7" cy="399.3" r="3.6"/><circle cx="620.1" cy="401.8" r="3.6"/></g><g fill="#f0a63c"><polygon points="642.4,461.5 642.4,417.1 643.4,393.4 644.4,389.4 645.4,391.8 646.4,388.8 647.4,385.8 648.4,383.2 649.4,383.3 650.4,383.4 651.4,383.6 652.4,383.7 653.4,385.0 654.4,386.4 655.4,387.7 656.4,389.0 657.4,390.1 658.4,390.7 659.4,391.4 660.4,392.1 661.4,392.7 662.4,393.5 663.4,394.5 664.4,395.5 665.4,396.8 666.4,393.4 667.4,396.1 668.0,404.2 668.0,461.5"/><circle cx="647.9" cy="386.3" r="3.6"/><circle cx="648.8" cy="382.0" r="3.6"/><circle cx="652.1" cy="379.8" r="3.6"/><circle cx="652.9" cy="381.8" r="3.6"/><circle cx="654.2" cy="383.7" r="3.6"/><circle cx="655.5" cy="385.4" r="3.6"/><circle cx="656.4" cy="385.2" r="3.6"/><circle cx="657.9" cy="387.9" r="3.6"/><circle cx="658.8" cy="387.4" r="3.6"/><circle cx="659.0" cy="388.8" r="3.6"/><circle cx="661.5" cy="388.9" r="3.6"/><circle cx="662.1" cy="392.0" r="3.6"/><circle cx="664.3" cy="392.4" r="3.6"/><circle cx="663.1" cy="395.7" r="3.6"/><circle cx="653.1" cy="324.2" r="3.6"/><circle cx="647.6" cy="344.2" r="3.6"/><circle cx="650.1" cy="373.5" r="3.6"/></g>
<line x1="48.4" y1="261.4" x2="48.4" y2="457.9" stroke="#8a8a8a" stroke-width="1"/>
<line x1="45.2" y1="457.9" x2="48.4" y2="457.9" stroke="#8a8a8a" stroke-width="1"/>
<text transform="translate(41.8,457.9) rotate(-90)" font-family="Liberation Sans" font-weight="bold" font-size="10.5" text-anchor="middle" fill="#222" stroke="#222" stroke-width="0.4">0</text>
<line x1="45.2" y1="425.1" x2="48.4" y2="425.1" stroke="#8a8a8a" stroke-width="1"/>
<text transform="translate(41.8,425.1) rotate(-90)" font-family="Liberation Sans" font-weight="bold" font-size="10.5" text-anchor="middle" fill="#222" stroke="#222" stroke-width="0.4">1</text>
<line x1="45.2" y1="392.4" x2="48.4" y2="392.4" stroke="#8a8a8a" stroke-width="1"/>
<text transform="translate(41.8,392.4) rotate(-90)" font-family="Liberation Sans" font-weight="bold" font-size="10.5" text-anchor="middle" fill="#222" stroke="#222" stroke-width="0.4">2</text>
<line x1="45.2" y1="359.6" x2="48.4" y2="359.6" stroke="#8a8a8a" stroke-width="1"/>
<text transform="translate(41.8,359.6) rotate(-90)" font-family="Liberation Sans" font-weight="bold" font-size="10.5" text-anchor="middle" fill="#222" stroke="#222" stroke-width="0.4">3</text>
<line x1="45.2" y1="326.9" x2="48.4" y2="326.9" stroke="#8a8a8a" stroke-width="1"/>
<text transform="translate(41.8,326.9) rotate(-90)" font-family="Liberation Sans" font-weight="bold" font-size="10.5" text-anchor="middle" fill="#222" stroke="#222" stroke-width="0.4">4</text>
<line x1="45.2" y1="294.1" x2="48.4" y2="294.1" stroke="#8a8a8a" stroke-width="1"/>
<text transform="translate(41.8,294.1) rotate(-90)" font-family="Liberation Sans" font-weight="bold" font-size="10.5" text-anchor="middle" fill="#222" stroke="#222" stroke-width="0.4">5</text>
<line x1="45.2" y1="261.4" x2="48.4" y2="261.4" stroke="#8a8a8a" stroke-width="1"/>
<text transform="translate(41.8,261.4) rotate(-90)" font-family="Liberation Sans" font-weight="bold" font-size="10.5" text-anchor="middle" fill="#222" stroke="#222" stroke-width="0.4">6</text>
<text transform="translate(26.8,359.4) rotate(-90)" font-family="Liberation Sans" font-size="11.8" text-anchor="middle" fill="#3c3c3c" stroke="#3c3c3c" stroke-width="0.25">&#8722;log<tspan font-size="6.5" dy="2">10</tspan><tspan dy="-2">(</tspan><tspan font-style="italic">p</tspan>)</text>
<line x1="48.6" y1="466.4" x2="655.6" y2="466.4" stroke="#8a8a8a" stroke-width="1.2"/>
<line x1="48.6" y1="466.4" x2="48.6" y2="469.4" stroke="#9a9a9a" stroke-width="1"/>
<line x1="63.4" y1="466.4" x2="63.4" y2="469.4" stroke="#9a9a9a" stroke-width="1"/>
<line x1="94.5" y1="466.4" x2="94.5" y2="469.4" stroke="#9a9a9a" stroke-width="1"/>
<line x1="126.8" y1="466.4" x2="126.8" y2="469.4" stroke="#9a9a9a" stroke-width="1"/>
<line x1="153.3" y1="466.4" x2="153.3" y2="469.4" stroke="#9a9a9a" stroke-width="1"/>
<line x1="180.0" y1="466.4" x2="180.0" y2="469.4" stroke="#9a9a9a" stroke-width="1"/>
<line x1="207.9" y1="466.4" x2="207.9" y2="469.4" stroke="#9a9a9a" stroke-width="1"/>
<line x1="237.0" y1="466.4" x2="237.0" y2="469.4" stroke="#9a9a9a" stroke-width="1"/>
<line x1="270.6" y1="466.4" x2="270.6" y2="469.4" stroke="#9a9a9a" stroke-width="1"/>
<line x1="303.4" y1="466.4" x2="303.4" y2="469.4" stroke="#9a9a9a" stroke-width="1"/>
<line x1="334.7" y1="466.4" x2="334.7" y2="469.4" stroke="#9a9a9a" stroke-width="1"/>
<line x1="363.6" y1="466.4" x2="363.6" y2="469.4" stroke="#9a9a9a" stroke-width="1"/>
<line x1="387.2" y1="466.4" x2="387.2" y2="469.4" stroke="#9a9a9a" stroke-width="1"/>
<line x1="417.5" y1="466.4" x2="417.5" y2="469.4" stroke="#9a9a9a" stroke-width="1"/>
<line x1="452.2" y1="466.4" x2="452.2" y2="469.4" stroke="#9a9a9a" stroke-width="1"/>
<line x1="486.0" y1="466.4" x2="486.0" y2="469.4" stroke="#9a9a9a" stroke-width="1"/>
<line x1="519.4" y1="466.4" x2="519.4" y2="469.4" stroke="#9a9a9a" stroke-width="1"/>
<line x1="548.5" y1="466.4" x2="548.5" y2="469.4" stroke="#9a9a9a" stroke-width="1"/>
<line x1="588.2" y1="466.4" x2="588.2" y2="469.4" stroke="#9a9a9a" stroke-width="1"/>
<line x1="627.9" y1="466.4" x2="627.9" y2="469.4" stroke="#9a9a9a" stroke-width="1"/>
<line x1="655.6" y1="466.4" x2="655.6" y2="469.4" stroke="#9a9a9a" stroke-width="1"/>
<text x="48.8" y="477.1" font-family="Liberation Sans" font-weight="bold" font-size="10.2" text-anchor="middle" fill="#222">Chr</text>
<text transform="translate(94.5,477.1) scale(0.83,1)" font-family="Liberation Sans" font-weight="bold" font-size="11.4" text-anchor="middle" fill="#222" stroke="#222" stroke-width="0.3">2</text>
<text transform="translate(126.8,477.1) scale(0.83,1)" font-family="Liberation Sans" font-weight="bold" font-size="11.4" text-anchor="middle" fill="#222" stroke="#222" stroke-width="0.3">3</text>
<text transform="translate(153.3,477.1) scale(0.83,1)" font-family="Liberation Sans" font-weight="bold" font-size="11.4" text-anchor="middle" fill="#222" stroke="#222" stroke-width="0.3">4</text>
<text transform="translate(180.0,477.1) scale(0.83,1)" font-family="Liberation Sans" font-weight="bold" font-size="11.4" text-anchor="middle" fill="#222" stroke="#222" stroke-width="0.3">5</text>
<text transform="translate(207.9,477.1) scale(0.83,1)" font-family="Liberation Sans" font-weight="bold" font-size="11.4" text-anchor="middle" fill="#222" stroke="#222" stroke-width="0.3">6</text>
<text transform="translate(237.0,477.1) scale(0.83,1)" font-family="Liberation Sans" font-weight="bold" font-size="11.4" text-anchor="middle" fill="#222" stroke="#222" stroke-width="0.3">7</text>
<text transform="translate(270.6,477.1) scale(0.83,1)" font-family="Liberation Sans" font-weight="bold" font-size="11.4" text-anchor="middle" fill="#222" stroke="#222" stroke-width="0.3">8</text>
<text transform="translate(303.4,477.1) scale(0.83,1)" font-family="Liberation Sans" font-weight="bold" font-size="11.4" text-anchor="middle" fill="#222" stroke="#222" stroke-width="0.3">9</text>
<text transform="translate(334.7,477.1) scale(0.83,1)" font-family="Liberation Sans" font-weight="bold" font-size="11.4" text-anchor="middle" fill="#222" stroke="#222" stroke-width="0.3">10</text>
<text transform="translate(363.6,477.1) scale(0.83,1)" font-family="Liberation Sans" font-weight="bold" font-size="11.4" text-anchor="middle" fill="#222" stroke="#222" stroke-width="0.3">11</text>
<text transform="translate(387.2,477.1) scale(0.83,1)" font-family="Liberation Sans" font-weight="bold" font-size="11.4" text-anchor="middle" fill="#222" stroke="#222" stroke-width="0.3">12</text>
<text transform="translate(417.5,477.1) scale(0.83,1)" font-family="Liberation Sans" font-weight="bold" font-size="11.4" text-anchor="middle" fill="#222" stroke="#222" stroke-width="0.3">13</text>
<text transform="translate(452.2,477.1) scale(0.83,1)" font-family="Liberation Sans" font-weight="bold" font-size="11.4" text-anchor="middle" fill="#222" stroke="#222" stroke-width="0.3">14</text>
<text transform="translate(486.0,477.1) scale(0.83,1)" font-family="Liberation Sans" font-weight="bold" font-size="11.4" text-anchor="middle" fill="#222" stroke="#222" stroke-width="0.3">15</text>
<text transform="translate(519.4,477.1) scale(0.83,1)" font-family="Liberation Sans" font-weight="bold" font-size="11.4" text-anchor="middle" fill="#222" stroke="#222" stroke-width="0.3">16</text>
<text transform="translate(548.5,477.1) scale(0.83,1)" font-family="Liberation Sans" font-weight="bold" font-size="11.4" text-anchor="middle" fill="#222" stroke="#222" stroke-width="0.3">17</text>
<text transform="translate(588.2,477.1) scale(0.83,1)" font-family="Liberation Sans" font-weight="bold" font-size="11.4" text-anchor="middle" fill="#222" stroke="#222" stroke-width="0.3">18</text>
<text transform="translate(627.9,477.1) scale(0.83,1)" font-family="Liberation Sans" font-weight="bold" font-size="11.4" text-anchor="middle" fill="#222" stroke="#222" stroke-width="0.3">19</text>
<text transform="translate(655.6,477.1) scale(0.83,1)" font-family="Liberation Sans" font-weight="bold" font-size="11.4" text-anchor="middle" fill="#222" stroke="#222" stroke-width="0.3">20</text>
<line x1="48.2" y1="343.1" x2="666" y2="343.1" stroke="#a23c42" stroke-width="1.4" stroke-dasharray="5.4 3.45"/>
<text x="62.6" y="283.0" font-family="Liberation Serif" font-weight="bold" font-size="14.4" fill="#222">b) Columbia, 2010</text>
<g fill="#276b27"><polygon points="50.6,688.6 50.6,627.6 51.6,627.6 52.6,627.6 53.6,634.6 54.6,634.6 55.6,634.6 56.6,634.6 57.6,634.6 58.6,634.6 59.6,634.6 60.6,634.6 61.6,634.6 62.6,634.6 63.6,634.6 64.6,634.6 65.6,634.6 66.6,634.6 67.6,634.6 68.6,634.6 69.6,634.6 70.6,634.6 71.6,634.6 72.6,634.6 73.6,634.6 74.6,627.6 75.6,627.6 75.8,627.6 75.8,688.6"/><circle cx="53.4" cy="628.6" r="3.6"/><circle cx="52.6" cy="634.1" r="3.6"/><circle cx="55.3" cy="628.6" r="3.6"/><circle cx="56.1" cy="629.8" r="3.6"/><circle cx="56.3" cy="633.3" r="3.6"/><circle cx="58.3" cy="628.5" r="3.6"/><circle cx="58.0" cy="630.9" r="3.6"/><circle cx="58.2" cy="632.8" r="3.6"/><circle cx="59.8" cy="627.9" r="3.6"/><circle cx="61.3" cy="633.5" r="3.6"/><circle cx="63.2" cy="628.6" r="3.6"/><circle cx="62.9" cy="630.9" r="3.6"/><circle cx="61.9" cy="634.3" r="3.6"/><circle cx="64.8" cy="628.3" r="3.6"/><circle cx="65.7" cy="630.6" r="3.6"/><circle cx="65.8" cy="632.8" r="3.6"/><circle cx="67.0" cy="628.7" r="3.6"/><circle cx="67.6" cy="629.8" r="3.6"/><circle cx="67.9" cy="633.7" r="3.6"/><circle cx="69.9" cy="628.3" r="3.6"/><circle cx="69.1" cy="630.5" r="3.6"/><circle cx="70.7" cy="634.5" r="3.6"/><circle cx="71.9" cy="628.7" r="3.6"/><circle cx="71.4" cy="631.0" r="3.6"/><circle cx="54.0" cy="560.5" r="3.6"/><circle cx="68.0" cy="571.4" r="3.6"/><circle cx="54.5" cy="580.0" r="3.6"/><circle cx="54.5" cy="585.0" r="3.6"/><circle cx="54.5" cy="590.0" r="3.6"/><circle cx="54.5" cy="595.0" r="3.6"/><circle cx="54.5" cy="600.0" r="3.6"/><circle cx="54.5" cy="605.0" r="3.6"/><circle cx="54.5" cy="610.0" r="3.6"/><circle cx="54.5" cy="615.0" r="3.6"/><circle cx="54.5" cy="620.0" r="3.6"/><circle cx="54.5" cy="625.0" r="3.6"/><circle cx="65.5" cy="581.0" r="3.6"/><circle cx="66.0" cy="587.0" r="3.6"/><circle cx="66.5" cy="593.0" r="3.6"/><circle cx="70.0" cy="599.0" r="3.6"/><circle cx="68.0" cy="605.0" r="3.6"/><circle cx="65.0" cy="611.0" r="3.6"/><circle cx="64.0" cy="617.0" r="3.6"/><circle cx="70.0" cy="621.0" r="3.6"/><circle cx="60.0" cy="623.0" r="3.6"/><circle cx="73.0" cy="615.0" r="3.6"/></g><g fill="#7c2378"><polygon points="75.0,688.6 75.0,650.5 76.0,650.5 77.0,626.7 78.0,623.3 79.0,620.0 80.0,619.9 81.0,619.8 82.0,619.6 83.0,619.5 84.0,619.4 85.0,619.3 86.0,619.2 87.0,619.1 88.0,618.9 89.0,618.8 90.0,618.7 91.0,618.6 92.0,618.5 93.0,618.4 94.0,618.2 95.0,620.9 96.0,622.9 97.0,626.5 98.0,635.0 99.0,640.9 100.0,641.4 101.0,641.9 102.0,641.0 103.0,639.0 104.0,637.0 105.0,635.3 106.0,634.8 107.0,634.3 108.0,633.8 109.0,634.7 110.0,635.7 111.0,636.7 112.0,646.1 112.3,650.5 112.3,688.6"/><circle cx="77.9" cy="609.6" r="3.6"/><circle cx="76.6" cy="611.9" r="3.6"/><circle cx="78.4" cy="621.1" r="3.6"/><circle cx="77.5" cy="623.5" r="3.6"/><circle cx="80.3" cy="604.0" r="3.6"/><circle cx="81.0" cy="607.1" r="3.6"/><circle cx="80.2" cy="611.2" r="3.6"/><circle cx="79.9" cy="616.4" r="3.6"/><circle cx="83.5" cy="605.6" r="3.6"/><circle cx="84.0" cy="609.8" r="3.6"/><circle cx="84.6" cy="613.4" r="3.6"/><circle cx="83.4" cy="617.3" r="3.6"/><circle cx="87.1" cy="600.0" r="3.6"/><circle cx="87.5" cy="607.7" r="3.6"/><circle cx="86.9" cy="610.6" r="3.6"/><circle cx="90.5" cy="600.5" r="3.6"/><circle cx="91.1" cy="604.3" r="3.6"/><circle cx="91.0" cy="616.2" r="3.6"/><circle cx="94.6" cy="613.5" r="3.6"/><circle cx="93.1" cy="618.2" r="3.6"/><circle cx="101.1" cy="641.8" r="3.6"/><circle cx="104.5" cy="638.0" r="3.6"/><circle cx="91.1" cy="576.7" r="3.6"/><circle cx="90.6" cy="592.6" r="3.6"/><circle cx="99.8" cy="616.8" r="3.6"/></g><g fill="#2c2a84"><polygon points="111.5,688.6 111.5,650.5 112.5,644.6 113.5,625.1 114.5,622.0 115.5,622.0 116.5,622.0 117.5,622.0 118.5,622.0 119.5,622.0 120.5,622.0 121.5,622.0 122.5,622.0 123.5,622.0 124.5,622.0 125.5,622.0 126.5,610.0 127.5,598.5 128.5,598.0 129.5,598.0 130.5,598.0 131.5,598.0 132.5,601.5 133.5,607.5 134.5,615.6 135.5,625.6 136.5,631.6 137.5,637.0 138.5,640.4 139.5,640.4 139.6,640.4 139.6,688.6"/><circle cx="113.7" cy="608.2" r="3.6"/><circle cx="113.6" cy="615.6" r="3.6"/><circle cx="114.0" cy="618.4" r="3.6"/><circle cx="116.8" cy="607.0" r="3.6"/><circle cx="117.2" cy="610.7" r="3.6"/><circle cx="117.1" cy="613.8" r="3.6"/><circle cx="118.3" cy="622.4" r="3.6"/><circle cx="119.8" cy="612.2" r="3.6"/><circle cx="121.0" cy="615.2" r="3.6"/><circle cx="121.4" cy="620.5" r="3.6"/><circle cx="124.5" cy="612.0" r="3.6"/><circle cx="127.1" cy="600.8" r="3.6"/><circle cx="131.1" cy="596.5" r="3.6"/><circle cx="133.8" cy="610.2" r="3.6"/><circle cx="117.3" cy="561.7" r="3.6"/><circle cx="117.3" cy="574.2" r="3.6"/><circle cx="120.6" cy="580.1" r="3.6"/><circle cx="129.8" cy="581.8" r="3.6"/></g><g fill="#030303"><polygon points="138.8,688.6 138.8,628.0 139.8,627.1 140.8,623.6 141.8,620.8 142.8,618.1 143.8,615.3 144.8,612.6 145.8,612.5 146.8,613.1 147.8,613.7 148.8,614.3 149.8,614.9 150.8,615.5 151.8,616.1 152.8,616.7 153.8,617.3 154.8,617.9 155.8,618.5 156.8,619.1 157.8,619.7 158.8,620.3 159.8,620.9 160.8,621.5 161.8,622.1 162.8,622.7 163.8,623.4 164.8,624.0 165.8,624.6 166.8,633.8 166.9,633.8 166.9,688.6"/><circle cx="140.8" cy="584.6" r="3.6"/><circle cx="141.1" cy="587.9" r="3.6"/><circle cx="141.3" cy="590.5" r="3.6"/><circle cx="141.9" cy="596.2" r="3.6"/><circle cx="141.2" cy="602.8" r="3.6"/><circle cx="141.1" cy="606.8" r="3.6"/><circle cx="141.8" cy="611.5" r="3.6"/><circle cx="140.8" cy="618.6" r="3.6"/><circle cx="145.0" cy="585.4" r="3.6"/><circle cx="145.5" cy="588.6" r="3.6"/><circle cx="144.5" cy="592.5" r="3.6"/><circle cx="143.7" cy="605.8" r="3.6"/><circle cx="144.3" cy="608.3" r="3.6"/><circle cx="147.8" cy="595.5" r="3.6"/><circle cx="147.3" cy="597.6" r="3.6"/><circle cx="147.5" cy="601.8" r="3.6"/><circle cx="147.7" cy="609.3" r="3.6"/><circle cx="150.9" cy="603.4" r="3.6"/><circle cx="151.6" cy="606.5" r="3.6"/><circle cx="151.5" cy="611.0" r="3.6"/><circle cx="150.5" cy="613.6" r="3.6"/><circle cx="154.4" cy="607.3" r="3.6"/><circle cx="155.5" cy="609.6" r="3.6"/><circle cx="153.7" cy="613.6" r="3.6"/><circle cx="158.2" cy="606.7" r="3.6"/><circle cx="157.6" cy="609.4" r="3.6"/><circle cx="157.0" cy="617.8" r="3.6"/><circle cx="161.0" cy="606.9" r="3.6"/><circle cx="160.5" cy="609.0" r="3.6"/><circle cx="160.6" cy="614.5" r="3.6"/><circle cx="161.5" cy="616.9" r="3.6"/><circle cx="161.7" cy="621.4" r="3.6"/><circle cx="145.8" cy="570.9" r="3.6"/><circle cx="142.5" cy="580.1" r="3.6"/><circle cx="146.7" cy="585.9" r="3.6"/><circle cx="164.2" cy="601.8" r="3.6"/></g><g fill="#f0a63c"><polygon points="166.1,688.6 166.1,630.7 167.1,626.6 168.1,625.6 169.1,631.6 170.1,624.6 171.1,602.3 172.1,602.0 173.1,601.7 174.1,601.4 175.1,601.1 176.1,600.8 177.1,600.8 178.1,600.8 179.1,600.8 180.1,600.7 181.1,608.8 182.1,616.8 183.1,621.5 184.1,626.1 185.1,627.6 186.1,627.9 187.1,628.2 188.1,628.5 189.1,628.8 190.1,629.0 191.1,644.2 192.1,638.5 193.1,639.8 194.1,642.6 194.1,642.6 194.1,688.6"/><circle cx="168.1" cy="627.4" r="3.6"/><circle cx="168.3" cy="630.7" r="3.6"/><circle cx="171.4" cy="625.9" r="3.6"/><circle cx="173.3" cy="595.1" r="3.6"/><circle cx="173.2" cy="598.7" r="3.6"/><circle cx="175.5" cy="595.1" r="3.6"/><circle cx="176.5" cy="600.0" r="3.6"/><circle cx="178.7" cy="594.0" r="3.6"/><circle cx="179.1" cy="596.5" r="3.6"/><circle cx="177.7" cy="600.3" r="3.6"/><circle cx="180.4" cy="611.9" r="3.6"/><circle cx="183.6" cy="621.8" r="3.6"/><circle cx="185.2" cy="622.4" r="3.6"/><circle cx="185.8" cy="624.5" r="3.6"/><circle cx="188.3" cy="622.7" r="3.6"/><circle cx="188.0" cy="624.3" r="3.6"/><circle cx="188.0" cy="627.4" r="3.6"/><circle cx="190.6" cy="639.7" r="3.6"/><circle cx="175.4" cy="557.0" r="3.6"/><circle cx="175.4" cy="575.4" r="3.6"/><circle cx="175.4" cy="590.1" r="3.6"/><circle cx="188.4" cy="617.6" r="3.6"/></g><g fill="#276b27"><polygon points="193.3,688.6 193.3,643.6 194.3,626.7 195.3,624.7 196.3,629.7 197.3,628.7 198.3,628.2 199.3,627.7 200.3,627.6 201.3,627.6 202.3,627.6 203.3,627.5 204.3,627.9 205.3,628.6 206.3,629.2 207.3,629.9 208.3,630.6 209.3,632.6 210.3,635.1 211.3,637.6 212.3,639.3 213.3,639.7 214.3,640.1 215.3,640.5 216.3,640.8 217.3,640.8 218.3,640.8 219.3,640.8 220.3,640.8 221.3,635.8 222.3,637.8 222.7,638.6 222.7,688.6"/><circle cx="195.8" cy="630.2" r="3.6"/><circle cx="198.0" cy="623.9" r="3.6"/><circle cx="198.3" cy="625.8" r="3.6"/><circle cx="200.4" cy="621.5" r="3.6"/><circle cx="201.3" cy="624.6" r="3.6"/><circle cx="201.0" cy="626.1" r="3.6"/><circle cx="203.1" cy="621.6" r="3.6"/><circle cx="202.8" cy="626.5" r="3.6"/><circle cx="204.9" cy="625.2" r="3.6"/><circle cx="208.1" cy="626.9" r="3.6"/><circle cx="210.2" cy="632.9" r="3.6"/><circle cx="212.4" cy="633.8" r="3.6"/><circle cx="213.4" cy="636.7" r="3.6"/><circle cx="212.4" cy="638.9" r="3.6"/><circle cx="214.6" cy="634.3" r="3.6"/><circle cx="214.6" cy="636.8" r="3.6"/><circle cx="214.9" cy="639.8" r="3.6"/><circle cx="217.7" cy="634.4" r="3.6"/><circle cx="217.5" cy="636.6" r="3.6"/><circle cx="217.5" cy="639.8" r="3.6"/><circle cx="220.3" cy="637.5" r="3.6"/><circle cx="203.1" cy="593.4" r="3.6"/><circle cx="198.4" cy="608.5" r="3.6"/><circle cx="204.3" cy="611.0" r="3.6"/><circle cx="217.6" cy="619.3" r="3.6"/></g><g fill="#7c2378"><polygon points="221.9,688.6 221.9,620.2 222.9,619.2 223.9,618.2 224.9,624.2 225.9,623.6 226.9,623.1 227.9,622.6 228.9,622.1 229.9,621.6 230.9,621.1 231.9,620.7 232.9,620.5 233.9,620.3 234.9,620.1 235.9,619.9 236.9,619.7 237.9,619.5 238.9,619.3 239.9,619.1 240.9,619.2 241.9,619.2 242.9,619.2 243.9,619.5 244.9,620.5 245.9,621.5 246.9,622.5 247.9,623.5 248.9,625.1 249.9,627.6 250.9,623.1 251.9,625.8 252.4,628.3 252.4,688.6"/><circle cx="225.0" cy="619.5" r="3.6"/><circle cx="224.4" cy="622.1" r="3.6"/><circle cx="226.5" cy="617.4" r="3.6"/><circle cx="227.5" cy="622.8" r="3.6"/><circle cx="229.0" cy="617.3" r="3.6"/><circle cx="228.6" cy="619.0" r="3.6"/><circle cx="228.4" cy="620.9" r="3.6"/><circle cx="231.9" cy="615.0" r="3.6"/><circle cx="230.8" cy="617.8" r="3.6"/><circle cx="231.8" cy="620.5" r="3.6"/><circle cx="234.2" cy="614.0" r="3.6"/><circle cx="234.2" cy="616.6" r="3.6"/><circle cx="234.7" cy="619.5" r="3.6"/><circle cx="236.0" cy="613.9" r="3.6"/><circle cx="236.2" cy="616.5" r="3.6"/><circle cx="236.6" cy="620.1" r="3.6"/><circle cx="238.8" cy="613.4" r="3.6"/><circle cx="239.1" cy="616.5" r="3.6"/><circle cx="238.8" cy="619.4" r="3.6"/><circle cx="241.8" cy="612.8" r="3.6"/><circle cx="242.1" cy="614.9" r="3.6"/><circle cx="240.5" cy="618.2" r="3.6"/><circle cx="243.6" cy="614.4" r="3.6"/><circle cx="244.2" cy="616.6" r="3.6"/><circle cx="245.7" cy="617.0" r="3.6"/><circle cx="245.6" cy="620.0" r="3.6"/><circle cx="248.5" cy="621.9" r="3.6"/><circle cx="229.3" cy="559.2" r="3.6"/><circle cx="229.3" cy="583.4" r="3.6"/><circle cx="226.0" cy="613.5" r="3.6"/><circle cx="235.2" cy="607.6" r="3.6"/><circle cx="241.7" cy="607.6" r="3.6"/><circle cx="246.7" cy="612.6" r="3.6"/><circle cx="250.0" cy="621.0" r="3.6"/><circle cx="245.0" cy="628.5" r="3.6"/></g><g fill="#2c2a84"><polygon points="251.6,688.6 251.6,631.6 252.6,620.4 253.6,620.4 254.6,627.4 255.6,627.4 256.6,627.4 257.6,626.5 258.6,625.7 259.6,624.8 260.6,624.0 261.6,623.1 262.6,622.5 263.6,622.5 264.6,622.5 265.6,622.5 266.6,622.6 267.6,622.9 268.6,623.1 269.6,623.4 270.6,623.7 271.6,624.0 272.6,624.6 273.6,625.2 274.6,625.9 275.6,626.6 276.6,627.2 277.6,628.9 278.6,630.1 279.6,628.1 280.6,626.1 281.6,624.1 282.6,624.2 283.6,624.3 284.6,624.4 285.6,624.5 286.6,625.5 287.6,626.5 288.6,620.9 289.6,630.9 289.7,631.9 289.7,688.6"/><circle cx="254.0" cy="622.4" r="3.6"/><circle cx="257.1" cy="620.9" r="3.6"/><circle cx="256.6" cy="622.9" r="3.6"/><circle cx="256.9" cy="626.8" r="3.6"/><circle cx="258.8" cy="621.3" r="3.6"/><circle cx="259.5" cy="622.1" r="3.6"/><circle cx="261.3" cy="619.1" r="3.6"/><circle cx="262.1" cy="621.8" r="3.6"/><circle cx="263.9" cy="617.1" r="3.6"/><circle cx="263.8" cy="618.4" r="3.6"/><circle cx="266.3" cy="616.0" r="3.6"/><circle cx="267.0" cy="619.0" r="3.6"/><circle cx="266.7" cy="621.1" r="3.6"/><circle cx="268.6" cy="617.2" r="3.6"/><circle cx="268.6" cy="619.0" r="3.6"/><circle cx="267.9" cy="621.9" r="3.6"/><circle cx="271.4" cy="618.5" r="3.6"/><circle cx="270.0" cy="621.2" r="3.6"/><circle cx="273.5" cy="620.0" r="3.6"/><circle cx="274.0" cy="622.5" r="3.6"/><circle cx="275.8" cy="622.0" r="3.6"/><circle cx="278.3" cy="626.8" r="3.6"/><circle cx="277.3" cy="629.7" r="3.6"/><circle cx="281.0" cy="623.1" r="3.6"/><circle cx="281.1" cy="626.2" r="3.6"/><circle cx="283.3" cy="619.2" r="3.6"/><circle cx="283.5" cy="620.8" r="3.6"/><circle cx="283.3" cy="624.4" r="3.6"/><circle cx="285.0" cy="619.0" r="3.6"/><circle cx="285.7" cy="622.7" r="3.6"/><circle cx="268.4" cy="575.9" r="3.6"/><circle cx="273.4" cy="577.6" r="3.6"/><circle cx="266.7" cy="583.4" r="3.6"/><circle cx="285.1" cy="583.4" r="3.6"/><circle cx="267.6" cy="591.8" r="3.6"/><circle cx="267.6" cy="600.1" r="3.6"/><circle cx="280.9" cy="606.0" r="3.6"/></g><g fill="#030303"><polygon points="288.9,688.6 288.9,640.4 289.9,637.2 290.9,631.1 291.9,630.5 292.9,630.0 293.9,629.4 294.9,628.9 295.9,628.3 296.9,627.7 297.9,627.2 298.9,626.6 299.9,626.1 300.9,625.6 301.9,625.2 302.9,624.8 303.9,624.4 304.9,624.0 305.9,623.6 306.9,623.2 307.9,622.8 308.9,622.4 309.9,625.2 310.9,627.6 311.9,630.0 312.9,632.4 313.9,634.6 314.9,636.6 315.9,638.6 316.9,641.6 317.9,650.5 318.2,650.5 318.2,688.6"/><circle cx="291.2" cy="614.0" r="3.6"/><circle cx="291.3" cy="620.1" r="3.6"/><circle cx="290.6" cy="628.7" r="3.6"/><circle cx="295.1" cy="608.4" r="3.6"/><circle cx="295.1" cy="612.2" r="3.6"/><circle cx="293.7" cy="614.8" r="3.6"/><circle cx="294.1" cy="624.2" r="3.6"/><circle cx="295.1" cy="628.0" r="3.6"/><circle cx="298.0" cy="605.2" r="3.6"/><circle cx="298.0" cy="609.8" r="3.6"/><circle cx="298.4" cy="616.1" r="3.6"/><circle cx="299.0" cy="621.3" r="3.6"/><circle cx="301.0" cy="602.6" r="3.6"/><circle cx="301.8" cy="610.3" r="3.6"/><circle cx="301.2" cy="614.1" r="3.6"/><circle cx="301.5" cy="619.4" r="3.6"/><circle cx="304.6" cy="604.0" r="3.6"/><circle cx="304.8" cy="606.8" r="3.6"/><circle cx="305.3" cy="619.0" r="3.6"/><circle cx="305.2" cy="622.3" r="3.6"/><circle cx="307.5" cy="614.3" r="3.6"/><circle cx="308.1" cy="616.5" r="3.6"/><circle cx="308.8" cy="621.8" r="3.6"/><circle cx="311.2" cy="629.6" r="3.6"/><circle cx="314.0" cy="636.3" r="3.6"/><circle cx="301.4" cy="546.7" r="3.6"/><circle cx="296.4" cy="575.1" r="3.6"/><circle cx="301.8" cy="589.3" r="3.6"/></g><g fill="#f0a63c"><polygon points="317.4,688.6 317.4,650.5 318.4,640.8 319.4,636.0 320.4,636.0 321.4,636.0 322.4,636.0 323.4,636.0 324.4,636.0 325.4,636.0 326.4,636.0 327.4,636.0 328.4,636.0 329.4,637.2 330.4,640.2 331.4,642.0 332.4,642.0 333.4,638.0 334.4,628.0 335.4,622.1 336.4,622.4 337.4,622.7 338.4,623.0 339.4,623.3 340.4,623.6 341.4,623.9 342.4,624.1 343.4,624.4 344.4,624.7 345.4,625.0 346.4,625.3 347.4,625.6 348.4,625.9 349.2,626.0 349.2,688.6"/><circle cx="320.1" cy="607.4" r="3.6"/><circle cx="320.2" cy="610.5" r="3.6"/><circle cx="320.3" cy="614.3" r="3.6"/><circle cx="319.7" cy="619.2" r="3.6"/><circle cx="319.9" cy="626.4" r="3.6"/><circle cx="320.4" cy="631.7" r="3.6"/><circle cx="323.7" cy="606.7" r="3.6"/><circle cx="323.9" cy="613.4" r="3.6"/><circle cx="323.7" cy="621.6" r="3.6"/><circle cx="323.9" cy="626.1" r="3.6"/><circle cx="324.2" cy="629.6" r="3.6"/><circle cx="323.3" cy="632.8" r="3.6"/><circle cx="326.7" cy="610.6" r="3.6"/><circle cx="326.8" cy="613.7" r="3.6"/><circle cx="326.8" cy="617.3" r="3.6"/><circle cx="327.1" cy="622.2" r="3.6"/><circle cx="327.0" cy="625.6" r="3.6"/><circle cx="326.0" cy="632.5" r="3.6"/><circle cx="329.9" cy="610.0" r="3.6"/><circle cx="330.6" cy="612.5" r="3.6"/><circle cx="330.0" cy="620.8" r="3.6"/><circle cx="329.7" cy="624.3" r="3.6"/><circle cx="330.4" cy="632.3" r="3.6"/><circle cx="333.2" cy="601.8" r="3.6"/><circle cx="334.0" cy="605.7" r="3.6"/><circle cx="333.9" cy="608.5" r="3.6"/><circle cx="332.3" cy="613.9" r="3.6"/><circle cx="334.0" cy="620.8" r="3.6"/><circle cx="332.7" cy="633.4" r="3.6"/><circle cx="332.2" cy="637.3" r="3.6"/><circle cx="336.4" cy="598.9" r="3.6"/><circle cx="335.6" cy="602.3" r="3.6"/><circle cx="336.1" cy="605.2" r="3.6"/><circle cx="337.2" cy="613.7" r="3.6"/><circle cx="336.7" cy="618.1" r="3.6"/><circle cx="336.0" cy="622.5" r="3.6"/><circle cx="339.2" cy="596.8" r="3.6"/><circle cx="339.0" cy="599.9" r="3.6"/><circle cx="338.8" cy="605.5" r="3.6"/><circle cx="339.0" cy="609.3" r="3.6"/><circle cx="339.0" cy="612.2" r="3.6"/><circle cx="339.8" cy="621.6" r="3.6"/><circle cx="342.3" cy="604.0" r="3.6"/><circle cx="343.3" cy="623.5" r="3.6"/><circle cx="346.5" cy="614.4" r="3.6"/><circle cx="347.1" cy="617.4" r="3.6"/><circle cx="347.3" cy="624.9" r="3.6"/><circle cx="325.2" cy="608.5" r="3.6"/><circle cx="328.5" cy="616.8" r="3.6"/></g><g fill="#276b27"><polygon points="348.4,688.6 348.4,643.8 349.4,643.8 350.4,643.6 351.4,638.6 352.4,632.0 353.4,631.4 354.4,630.9 355.4,630.3 356.4,622.8 357.4,613.7 358.4,612.0 359.4,612.0 360.4,612.0 361.4,612.0 362.4,612.0 363.4,612.0 364.4,612.0 365.4,612.0 366.4,612.0 367.4,612.0 368.4,612.0 369.4,612.0 370.4,619.2 371.4,634.0 372.4,634.5 373.4,635.0 374.4,638.3 375.4,650.5 376.4,650.5 376.4,688.6"/><circle cx="350.8" cy="642.3" r="3.6"/><circle cx="354.4" cy="621.3" r="3.6"/><circle cx="353.9" cy="624.6" r="3.6"/><circle cx="353.8" cy="627.9" r="3.6"/><circle cx="357.5" cy="613.0" r="3.6"/><circle cx="360.9" cy="601.2" r="3.6"/><circle cx="364.1" cy="603.0" r="3.6"/><circle cx="363.8" cy="610.3" r="3.6"/><circle cx="367.9" cy="605.3" r="3.6"/><circle cx="371.0" cy="629.3" r="3.6"/><circle cx="361.7" cy="588.4" r="3.6"/><circle cx="356.7" cy="626.8" r="3.6"/></g><g fill="#7c2378"><polygon points="375.6,688.6 375.6,622.1 376.6,618.4 377.6,618.0 378.6,624.6 379.6,624.2 380.6,622.3 381.6,619.7 382.6,617.3 383.6,616.7 384.6,616.2 385.6,615.6 386.6,615.0 387.6,614.5 388.6,614.1 389.6,614.1 390.6,614.1 391.6,614.1 392.6,614.1 393.6,614.1 394.6,614.1 395.6,614.1 396.6,616.9 397.6,615.2 398.6,620.6 398.8,622.2 398.8,688.6"/><circle cx="377.6" cy="619.9" r="3.6"/><circle cx="378.8" cy="622.0" r="3.6"/><circle cx="378.1" cy="625.0" r="3.6"/><circle cx="380.1" cy="618.3" r="3.6"/><circle cx="381.3" cy="621.2" r="3.6"/><circle cx="382.5" cy="615.3" r="3.6"/><circle cx="382.0" cy="616.1" r="3.6"/><circle cx="385.0" cy="610.6" r="3.6"/><circle cx="385.5" cy="613.2" r="3.6"/><circle cx="387.9" cy="608.5" r="3.6"/><circle cx="388.4" cy="611.6" r="3.6"/><circle cx="390.6" cy="607.9" r="3.6"/><circle cx="390.0" cy="609.1" r="3.6"/><circle cx="390.8" cy="613.6" r="3.6"/><circle cx="393.0" cy="607.8" r="3.6"/><circle cx="392.0" cy="614.0" r="3.6"/><circle cx="394.3" cy="610.7" r="3.6"/><circle cx="395.5" cy="613.1" r="3.6"/><circle cx="385.1" cy="606.8" r="3.6"/><circle cx="392.6" cy="603.5" r="3.6"/></g><g fill="#2c2a84"><polygon points="398.0,688.6 398.0,643.8 399.0,628.3 400.0,600.3 401.0,600.0 402.0,600.0 403.0,600.0 404.0,600.0 405.0,600.0 406.0,600.0 407.0,600.0 408.0,601.5 409.0,614.0 410.0,628.0 411.0,626.4 412.0,624.8 413.0,623.2 414.0,621.6 415.0,620.3 416.0,619.5 417.0,619.0 418.0,618.5 419.0,618.0 420.0,617.5 421.0,617.0 422.0,616.5 423.0,616.0 424.0,615.5 425.0,617.8 426.0,620.4 427.0,623.1 428.0,625.8 429.0,627.6 430.0,628.7 431.0,629.7 432.0,630.8 433.0,631.8 434.0,632.8 435.0,633.8 436.0,639.7 437.0,646.3 437.2,647.9 437.2,688.6"/><circle cx="400.1" cy="596.9" r="3.6"/><circle cx="403.5" cy="592.2" r="3.6"/><circle cx="404.4" cy="596.3" r="3.6"/><circle cx="403.4" cy="599.2" r="3.6"/><circle cx="407.4" cy="596.2" r="3.6"/><circle cx="406.3" cy="600.3" r="3.6"/><circle cx="410.6" cy="616.6" r="3.6"/><circle cx="410.5" cy="620.6" r="3.6"/><circle cx="411.4" cy="623.2" r="3.6"/><circle cx="413.4" cy="620.3" r="3.6"/><circle cx="416.7" cy="618.0" r="3.6"/><circle cx="420.4" cy="611.4" r="3.6"/><circle cx="420.0" cy="614.0" r="3.6"/><circle cx="423.4" cy="614.3" r="3.6"/><circle cx="426.5" cy="623.7" r="3.6"/><circle cx="430.1" cy="629.4" r="3.6"/><circle cx="433.6" cy="633.7" r="3.6"/><circle cx="421.8" cy="591.8" r="3.6"/><circle cx="425.0" cy="591.8" r="3.6"/></g><g fill="#030303"><polygon points="436.4,688.6 436.4,623.5 437.4,619.3 438.4,618.0 439.4,624.2 440.4,624.2 441.4,624.2 442.4,624.3 443.4,624.3 444.4,624.6 445.4,624.9 446.4,625.1 447.4,625.2 448.4,625.0 449.4,624.7 450.4,624.5 451.4,624.3 452.4,624.1 453.4,624.2 454.4,624.2 455.4,624.2 456.4,624.7 457.4,626.3 458.4,627.9 459.4,627.0 460.4,625.7 461.4,624.3 462.4,623.7 463.4,623.2 464.4,622.7 465.4,622.6 466.4,615.6 467.4,615.5 468.3,615.5 468.3,688.6"/><circle cx="438.6" cy="621.1" r="3.6"/><circle cx="439.0" cy="622.9" r="3.6"/><circle cx="441.4" cy="617.9" r="3.6"/><circle cx="441.0" cy="621.0" r="3.6"/><circle cx="441.2" cy="623.6" r="3.6"/><circle cx="443.7" cy="618.9" r="3.6"/><circle cx="442.7" cy="621.8" r="3.6"/><circle cx="443.8" cy="624.5" r="3.6"/><circle cx="445.8" cy="619.1" r="3.6"/><circle cx="446.8" cy="624.4" r="3.6"/><circle cx="449.0" cy="618.9" r="3.6"/><circle cx="448.3" cy="621.3" r="3.6"/><circle cx="450.3" cy="620.2" r="3.6"/><circle cx="450.0" cy="624.5" r="3.6"/><circle cx="453.0" cy="618.7" r="3.6"/><circle cx="453.8" cy="621.1" r="3.6"/><circle cx="452.7" cy="623.6" r="3.6"/><circle cx="455.7" cy="620.3" r="3.6"/><circle cx="456.3" cy="622.5" r="3.6"/><circle cx="458.2" cy="623.8" r="3.6"/><circle cx="457.7" cy="627.1" r="3.6"/><circle cx="460.1" cy="621.6" r="3.6"/><circle cx="461.4" cy="624.3" r="3.6"/><circle cx="462.9" cy="618.7" r="3.6"/><circle cx="465.9" cy="616.4" r="3.6"/><circle cx="466.0" cy="620.1" r="3.6"/><circle cx="465.6" cy="623.1" r="3.6"/><circle cx="440.0" cy="612.6" r="3.6"/><circle cx="454.2" cy="612.6" r="3.6"/><circle cx="465.1" cy="612.1" r="3.6"/></g><g fill="#f0a63c"><polygon points="467.5,688.6 467.5,618.1 468.5,610.4 469.5,610.4 470.5,617.4 471.5,617.4 472.5,617.4 473.5,617.4 474.5,617.4 475.5,617.4 476.5,617.4 477.5,617.7 478.5,618.2 479.5,618.7 480.5,620.0 481.5,623.2 482.5,626.4 483.5,629.6 484.5,632.5 485.5,633.3 486.5,634.1 487.5,634.9 488.5,635.7 489.5,629.3 490.5,620.7 491.5,620.7 492.5,620.7 493.5,620.7 494.5,620.7 495.5,620.7 496.5,620.7 497.5,622.5 498.5,625.5 499.5,628.5 500.5,631.5 501.5,634.5 502.5,630.5 503.5,633.5 504.2,635.1 504.2,688.6"/><circle cx="470.0" cy="611.0" r="3.6"/><circle cx="469.2" cy="614.1" r="3.6"/><circle cx="470.7" cy="616.5" r="3.6"/><circle cx="471.7" cy="612.5" r="3.6"/><circle cx="471.9" cy="616.6" r="3.6"/><circle cx="474.3" cy="611.6" r="3.6"/><circle cx="474.0" cy="612.6" r="3.6"/><circle cx="474.6" cy="615.6" r="3.6"/><circle cx="477.8" cy="611.5" r="3.6"/><circle cx="476.6" cy="614.5" r="3.6"/><circle cx="477.1" cy="616.6" r="3.6"/><circle cx="482.4" cy="624.9" r="3.6"/><circle cx="484.5" cy="627.1" r="3.6"/><circle cx="486.5" cy="630.1" r="3.6"/><circle cx="485.9" cy="631.5" r="3.6"/><circle cx="489.5" cy="629.5" r="3.6"/><circle cx="491.5" cy="617.0" r="3.6"/><circle cx="491.7" cy="619.3" r="3.6"/><circle cx="494.6" cy="614.1" r="3.6"/><circle cx="494.6" cy="616.5" r="3.6"/><circle cx="496.9" cy="617.9" r="3.6"/><circle cx="496.4" cy="620.3" r="3.6"/><circle cx="498.7" cy="625.8" r="3.6"/><circle cx="500.9" cy="632.2" r="3.6"/><circle cx="472.6" cy="593.4" r="3.6"/><circle cx="472.6" cy="600.1" r="3.6"/><circle cx="480.9" cy="603.5" r="3.6"/><circle cx="493.4" cy="581.8" r="3.6"/><circle cx="493.4" cy="587.6" r="3.6"/><circle cx="493.4" cy="592.6" r="3.6"/><circle cx="493.4" cy="602.6" r="3.6"/></g><g fill="#276b27"><polygon points="503.4,688.6 503.4,642.9 504.4,628.9 505.4,619.9 506.4,625.5 507.4,624.2 508.4,622.9 509.4,621.5 510.4,621.1 511.4,621.2 512.4,621.1 513.4,621.0 514.4,621.5 515.4,622.5 516.4,623.5 517.4,624.5 518.4,625.5 519.4,627.3 520.4,629.3 521.4,631.3 522.4,633.1 523.4,632.9 524.4,632.6 525.4,632.5 526.4,632.5 527.4,632.5 528.4,632.4 529.4,633.3 530.4,634.3 531.4,628.3 532.4,631.5 532.7,632.9 532.7,688.6"/><circle cx="506.4" cy="632.8" r="3.6"/><circle cx="508.2" cy="619.5" r="3.6"/><circle cx="507.4" cy="620.8" r="3.6"/><circle cx="510.4" cy="616.0" r="3.6"/><circle cx="511.3" cy="618.3" r="3.6"/><circle cx="513.6" cy="615.4" r="3.6"/><circle cx="512.6" cy="618.5" r="3.6"/><circle cx="513.0" cy="620.8" r="3.6"/><circle cx="516.0" cy="617.8" r="3.6"/><circle cx="515.9" cy="619.5" r="3.6"/><circle cx="517.6" cy="621.4" r="3.6"/><circle cx="518.5" cy="624.7" r="3.6"/><circle cx="520.4" cy="627.1" r="3.6"/><circle cx="521.2" cy="629.3" r="3.6"/><circle cx="522.7" cy="627.5" r="3.6"/><circle cx="523.5" cy="630.3" r="3.6"/><circle cx="523.2" cy="633.6" r="3.6"/><circle cx="525.3" cy="626.8" r="3.6"/><circle cx="528.0" cy="626.3" r="3.6"/><circle cx="528.4" cy="629.4" r="3.6"/><circle cx="528.4" cy="631.4" r="3.6"/><circle cx="529.7" cy="628.7" r="3.6"/><circle cx="510.5" cy="607.6" r="3.6"/><circle cx="508.5" cy="623.5" r="3.6"/><circle cx="526.8" cy="600.1" r="3.6"/><circle cx="526.7" cy="600.1" r="3.6"/></g><g fill="#7c2378"><polygon points="531.9,688.6 531.9,643.8 532.9,640.7 533.9,634.7 534.9,629.0 535.9,616.9 536.9,614.3 537.9,611.6 538.9,611.3 539.9,611.1 540.9,610.8 541.9,610.9 542.9,613.4 543.9,615.9 544.9,618.4 545.9,621.6 546.9,625.1 547.9,628.6 548.9,630.8 549.9,630.8 550.9,629.4 551.9,628.1 552.9,626.8 553.9,625.4 554.9,624.1 555.9,624.1 556.9,624.2 557.9,624.3 558.9,624.4 559.9,625.2 560.9,626.0 561.9,619.8 562.9,621.6 563.7,626.4 563.7,688.6"/><circle cx="534.4" cy="643.3" r="3.6"/><circle cx="536.4" cy="621.2" r="3.6"/><circle cx="539.3" cy="606.1" r="3.6"/><circle cx="538.3" cy="609.1" r="3.6"/><circle cx="542.0" cy="608.5" r="3.6"/><circle cx="542.1" cy="610.8" r="3.6"/><circle cx="544.5" cy="614.4" r="3.6"/><circle cx="546.5" cy="623.6" r="3.6"/><circle cx="548.8" cy="624.6" r="3.6"/><circle cx="548.6" cy="628.8" r="3.6"/><circle cx="551.4" cy="624.2" r="3.6"/><circle cx="554.0" cy="621.7" r="3.6"/><circle cx="556.5" cy="618.9" r="3.6"/><circle cx="555.5" cy="620.5" r="3.6"/><circle cx="555.9" cy="624.4" r="3.6"/><circle cx="558.6" cy="618.7" r="3.6"/><circle cx="557.5" cy="621.0" r="3.6"/><circle cx="560.4" cy="621.8" r="3.6"/><circle cx="541.4" cy="542.5" r="3.6"/><circle cx="541.4" cy="555.9" r="3.6"/><circle cx="541.4" cy="560.9" r="3.6"/><circle cx="541.4" cy="565.9" r="3.6"/><circle cx="541.4" cy="576.7" r="3.6"/><circle cx="540.4" cy="590.1" r="3.6"/><circle cx="540.4" cy="601.8" r="3.6"/><circle cx="556.4" cy="585.9" r="3.6"/><circle cx="556.4" cy="597.6" r="3.6"/></g><g fill="#2c2a84"><polygon points="562.9,688.6 562.9,639.6 563.9,630.6 564.9,628.4 565.9,635.0 566.9,634.6 567.9,634.2 568.9,633.5 569.9,632.5 570.9,631.5 571.9,630.5 572.9,629.5 573.9,629.4 574.9,629.3 575.9,629.2 576.9,629.1 577.9,630.6 578.9,632.1 579.9,633.6 580.9,636.8 581.9,640.8 582.9,644.8 583.9,649.0 584.9,653.8 585.9,647.4 586.9,646.8 587.9,646.3 588.9,645.7 589.9,645.1 590.9,644.5 591.9,640.8 592.9,627.5 593.9,614.2 594.9,610.3 595.9,609.7 596.9,609.2 597.9,608.6 598.9,608.0 599.9,607.4 600.9,607.4 601.9,607.4 602.9,607.4 603.9,607.4 604.9,607.4 605.9,609.6 606.9,612.6 607.9,615.6 608.9,618.6 609.9,621.6 610.9,617.6 611.9,620.6 612.1,621.4 612.1,688.6"/><circle cx="565.5" cy="634.1" r="3.6"/><circle cx="567.7" cy="629.4" r="3.6"/><circle cx="567.3" cy="630.1" r="3.6"/><circle cx="567.6" cy="633.3" r="3.6"/><circle cx="570.6" cy="627.9" r="3.6"/><circle cx="573.2" cy="626.0" r="3.6"/><circle cx="571.7" cy="628.1" r="3.6"/><circle cx="575.4" cy="623.1" r="3.6"/><circle cx="574.4" cy="625.7" r="3.6"/><circle cx="574.1" cy="628.2" r="3.6"/><circle cx="577.4" cy="626.8" r="3.6"/><circle cx="576.6" cy="627.8" r="3.6"/><circle cx="579.3" cy="633.4" r="3.6"/><circle cx="581.7" cy="643.2" r="3.6"/><circle cx="585.0" cy="655.6" r="3.6"/><circle cx="587.5" cy="648.0" r="3.6"/><circle cx="589.6" cy="643.0" r="3.6"/><circle cx="592.3" cy="638.7" r="3.6"/><circle cx="592.5" cy="641.3" r="3.6"/><circle cx="593.9" cy="627.0" r="3.6"/><circle cx="596.4" cy="604.0" r="3.6"/><circle cx="599.2" cy="602.6" r="3.6"/><circle cx="598.4" cy="605.5" r="3.6"/><circle cx="601.7" cy="601.3" r="3.6"/><circle cx="601.2" cy="602.6" r="3.6"/><circle cx="602.0" cy="605.9" r="3.6"/><circle cx="604.3" cy="601.9" r="3.6"/><circle cx="604.6" cy="605.4" r="3.6"/><circle cx="606.7" cy="610.4" r="3.6"/><circle cx="609.2" cy="616.9" r="3.6"/><circle cx="601.0" cy="580.9" r="3.6"/><circle cx="606.0" cy="592.6" r="3.6"/><circle cx="575.1" cy="590.1" r="3.6"/><circle cx="575.1" cy="594.3" r="3.6"/><circle cx="600.9" cy="580.9" r="3.6"/><circle cx="605.9" cy="592.6" r="3.6"/></g><g fill="#030303"><polygon points="611.3,688.6 611.3,623.4 612.3,618.7 613.3,618.7 614.3,625.7 615.3,625.7 616.3,625.7 617.3,625.7 618.3,625.7 619.3,625.7 620.3,625.7 621.3,625.7 622.3,626.2 623.3,627.2 624.3,628.2 625.3,625.7 626.3,623.2 627.3,622.1 628.3,621.6 629.3,621.1 630.3,621.0 631.3,621.0 632.3,620.9 633.3,620.9 634.3,623.0 635.3,626.0 636.3,629.0 637.3,630.9 638.3,631.2 639.3,631.6 640.3,631.4 641.3,623.9 642.3,623.9 643.2,623.9 643.2,688.6"/><circle cx="613.7" cy="620.1" r="3.6"/><circle cx="614.2" cy="622.3" r="3.6"/><circle cx="613.2" cy="624.7" r="3.6"/><circle cx="616.1" cy="619.7" r="3.6"/><circle cx="616.8" cy="621.0" r="3.6"/><circle cx="617.1" cy="624.5" r="3.6"/><circle cx="618.8" cy="618.8" r="3.6"/><circle cx="618.3" cy="624.0" r="3.6"/><circle cx="621.4" cy="620.8" r="3.6"/><circle cx="621.5" cy="622.7" r="3.6"/><circle cx="620.1" cy="624.9" r="3.6"/><circle cx="623.4" cy="623.3" r="3.6"/><circle cx="622.9" cy="624.1" r="3.6"/><circle cx="626.1" cy="621.9" r="3.6"/><circle cx="627.7" cy="616.2" r="3.6"/><circle cx="628.0" cy="618.6" r="3.6"/><circle cx="630.9" cy="614.4" r="3.6"/><circle cx="631.5" cy="617.6" r="3.6"/><circle cx="630.7" cy="620.2" r="3.6"/><circle cx="633.6" cy="618.8" r="3.6"/><circle cx="632.8" cy="620.8" r="3.6"/><circle cx="635.9" cy="624.4" r="3.6"/><circle cx="638.0" cy="624.8" r="3.6"/><circle cx="638.8" cy="628.0" r="3.6"/><circle cx="637.3" cy="629.8" r="3.6"/><circle cx="640.7" cy="626.3" r="3.6"/><circle cx="640.8" cy="629.0" r="3.6"/><circle cx="640.2" cy="631.1" r="3.6"/><circle cx="620.1" cy="555.0" r="3.6"/><circle cx="620.1" cy="565.9" r="3.6"/><circle cx="620.1" cy="570.9" r="3.6"/><circle cx="620.1" cy="576.7" r="3.6"/><circle cx="620.1" cy="583.4" r="3.6"/><circle cx="620.1" cy="596.8" r="3.6"/><circle cx="620.1" cy="603.5" r="3.6"/><circle cx="630.1" cy="610.1" r="3.6"/></g><g fill="#f0a63c"><polygon points="642.4,688.6 642.4,634.1 643.4,623.6 644.4,621.6 645.4,626.6 646.4,624.6 647.4,622.9 648.4,621.4 649.4,619.9 650.4,603.3 651.4,587.1 652.4,586.7 653.4,586.3 654.4,585.9 655.4,585.9 656.4,585.8 657.4,585.8 658.4,585.8 659.4,613.1 660.4,619.2 661.4,624.6 662.4,628.8 663.4,631.8 664.4,634.8 665.4,637.9 666.4,634.9 667.4,638.9 668.0,643.1 668.0,688.6"/><circle cx="645.5" cy="626.2" r="3.6"/><circle cx="647.5" cy="619.3" r="3.6"/><circle cx="648.1" cy="623.0" r="3.6"/><circle cx="649.3" cy="618.6" r="3.6"/><circle cx="654.5" cy="580.7" r="3.6"/><circle cx="654.4" cy="583.5" r="3.6"/><circle cx="654.9" cy="584.7" r="3.6"/><circle cx="656.5" cy="584.3" r="3.6"/><circle cx="657.1" cy="585.5" r="3.6"/><circle cx="659.0" cy="616.9" r="3.6"/><circle cx="662.0" cy="625.9" r="3.6"/><circle cx="663.6" cy="634.1" r="3.6"/><circle cx="648.4" cy="569.2" r="3.6"/><circle cx="655.1" cy="575.9" r="3.6"/></g>
<line x1="48.4" y1="504.5" x2="48.4" y2="685.0" stroke="#8a8a8a" stroke-width="1"/>
<line x1="45.2" y1="685.0" x2="48.4" y2="685.0" stroke="#8a8a8a" stroke-width="1"/>
<text transform="translate(41.8,685.0) rotate(-90)" font-family="Liberation Sans" font-weight="bold" font-size="10.5" text-anchor="middle" fill="#222" stroke="#222" stroke-width="0.4">0</text>
<line x1="45.2" y1="648.9" x2="48.4" y2="648.9" stroke="#8a8a8a" stroke-width="1"/>
<text transform="translate(41.8,648.9) rotate(-90)" font-family="Liberation Sans" font-weight="bold" font-size="10.5" text-anchor="middle" fill="#222" stroke="#222" stroke-width="0.4">1</text>
<line x1="45.2" y1="612.8" x2="48.4" y2="612.8" stroke="#8a8a8a" stroke-width="1"/>
<text transform="translate(41.8,612.8) rotate(-90)" font-family="Liberation Sans" font-weight="bold" font-size="10.5" text-anchor="middle" fill="#222" stroke="#222" stroke-width="0.4">2</text>
<line x1="45.2" y1="576.7" x2="48.4" y2="576.7" stroke="#8a8a8a" stroke-width="1"/>
<text transform="translate(41.8,576.7) rotate(-90)" font-family="Liberation Sans" font-weight="bold" font-size="10.5" text-anchor="middle" fill="#222" stroke="#222" stroke-width="0.4">3</text>
<line x1="45.2" y1="540.6" x2="48.4" y2="540.6" stroke="#8a8a8a" stroke-width="1"/>
<text transform="translate(41.8,540.6) rotate(-90)" font-family="Liberation Sans" font-weight="bold" font-size="10.5" text-anchor="middle" fill="#222" stroke="#222" stroke-width="0.4">4</text>
<line x1="45.2" y1="504.5" x2="48.4" y2="504.5" stroke="#8a8a8a" stroke-width="1"/>
<text transform="translate(41.8,504.5) rotate(-90)" font-family="Liberation Sans" font-weight="bold" font-size="10.5" text-anchor="middle" fill="#222" stroke="#222" stroke-width="0.4">5</text>
<text transform="translate(26.8,585.9) rotate(-90)" font-family="Liberation Sans" font-size="11.8" text-anchor="middle" fill="#3c3c3c" stroke="#3c3c3c" stroke-width="0.25">&#8722;log<tspan font-size="6.5" dy="2">10</tspan><tspan dy="-2">(</tspan><tspan font-style="italic">p</tspan>)</text>
<line x1="48.6" y1="692.6" x2="655.6" y2="692.6" stroke="#8a8a8a" stroke-width="1.2"/>
<line x1="48.6" y1="692.6" x2="48.6" y2="695.6" stroke="#9a9a9a" stroke-width="1"/>
<line x1="63.4" y1="692.6" x2="63.4" y2="695.6" stroke="#9a9a9a" stroke-width="1"/>
<line x1="94.5" y1="692.6" x2="94.5" y2="695.6" stroke="#9a9a9a" stroke-width="1"/>
<line x1="126.8" y1="692.6" x2="126.8" y2="695.6" stroke="#9a9a9a" stroke-width="1"/>
<line x1="153.3" y1="692.6" x2="153.3" y2="695.6" stroke="#9a9a9a" stroke-width="1"/>
<line x1="180.0" y1="692.6" x2="180.0" y2="695.6" stroke="#9a9a9a" stroke-width="1"/>
<line x1="207.9" y1="692.6" x2="207.9" y2="695.6" stroke="#9a9a9a" stroke-width="1"/>
<line x1="237.0" y1="692.6" x2="237.0" y2="695.6" stroke="#9a9a9a" stroke-width="1"/>
<line x1="270.6" y1="692.6" x2="270.6" y2="695.6" stroke="#9a9a9a" stroke-width="1"/>
<line x1="303.4" y1="692.6" x2="303.4" y2="695.6" stroke="#9a9a9a" stroke-width="1"/>
<line x1="334.7" y1="692.6" x2="334.7" y2="695.6" stroke="#9a9a9a" stroke-width="1"/>
<line x1="363.6" y1="692.6" x2="363.6" y2="695.6" stroke="#9a9a9a" stroke-width="1"/>
<line x1="387.2" y1="692.6" x2="387.2" y2="695.6" stroke="#9a9a9a" stroke-width="1"/>
<line x1="417.5" y1="692.6" x2="417.5" y2="695.6" stroke="#9a9a9a" stroke-width="1"/>
<line x1="452.2" y1="692.6" x2="452.2" y2="695.6" stroke="#9a9a9a" stroke-width="1"/>
<line x1="486.0" y1="692.6" x2="486.0" y2="695.6" stroke="#9a9a9a" stroke-width="1"/>
<line x1="519.4" y1="692.6" x2="519.4" y2="695.6" stroke="#9a9a9a" stroke-width="1"/>
<line x1="548.5" y1="692.6" x2="548.5" y2="695.6" stroke="#9a9a9a" stroke-width="1"/>
<line x1="588.2" y1="692.6" x2="588.2" y2="695.6" stroke="#9a9a9a" stroke-width="1"/>
<line x1="627.9" y1="692.6" x2="627.9" y2="695.6" stroke="#9a9a9a" stroke-width="1"/>
<line x1="655.6" y1="692.6" x2="655.6" y2="695.6" stroke="#9a9a9a" stroke-width="1"/>
<text x="48.8" y="703.8" font-family="Liberation Sans" font-weight="bold" font-size="10.2" text-anchor="middle" fill="#222">Chr</text>
<text transform="translate(94.5,703.8) scale(0.83,1)" font-family="Liberation Sans" font-weight="bold" font-size="11.4" text-anchor="middle" fill="#222" stroke="#222" stroke-width="0.3">2</text>
<text transform="translate(126.8,703.8) scale(0.83,1)" font-family="Liberation Sans" font-weight="bold" font-size="11.4" text-anchor="middle" fill="#222" stroke="#222" stroke-width="0.3">3</text>
<text transform="translate(153.3,703.8) scale(0.83,1)" font-family="Liberation Sans" font-weight="bold" font-size="11.4" text-anchor="middle" fill="#222" stroke="#222" stroke-width="0.3">4</text>
<text transform="translate(180.0,703.8) scale(0.83,1)" font-family="Liberation Sans" font-weight="bold" font-size="11.4" text-anchor="middle" fill="#222" stroke="#222" stroke-width="0.3">5</text>
<text transform="translate(207.9,703.8) scale(0.83,1)" font-family="Liberation Sans" font-weight="bold" font-size="11.4" text-anchor="middle" fill="#222" stroke="#222" stroke-width="0.3">6</text>
<text transform="translate(237.0,703.8) scale(0.83,1)" font-family="Liberation Sans" font-weight="bold" font-size="11.4" text-anchor="middle" fill="#222" stroke="#222" stroke-width="0.3">7</text>
<text transform="translate(270.6,703.8) scale(0.83,1)" font-family="Liberation Sans" font-weight="bold" font-size="11.4" text-anchor="middle" fill="#222" stroke="#222" stroke-width="0.3">8</text>
<text transform="translate(303.4,703.8) scale(0.83,1)" font-family="Liberation Sans" font-weight="bold" font-size="11.4" text-anchor="middle" fill="#222" stroke="#222" stroke-width="0.3">9</text>
<text transform="translate(334.7,703.8) scale(0.83,1)" font-family="Liberation Sans" font-weight="bold" font-size="11.4" text-anchor="middle" fill="#222" stroke="#222" stroke-width="0.3">10</text>
<text transform="translate(363.6,703.8) scale(0.83,1)" font-family="Liberation Sans" font-weight="bold" font-size="11.4" text-anchor="middle" fill="#222" stroke="#222" stroke-width="0.3">11</text>
<text transform="translate(387.2,703.8) scale(0.83,1)" font-family="Liberation Sans" font-weight="bold" font-size="11.4" text-anchor="middle" fill="#222" stroke="#222" stroke-width="0.3">12</text>
<text transform="translate(417.5,703.8) scale(0.83,1)" font-family="Liberation Sans" font-weight="bold" font-size="11.4" text-anchor="middle" fill="#222" stroke="#222" stroke-width="0.3">13</text>
<text transform="translate(452.2,703.8) scale(0.83,1)" font-family="Liberation Sans" font-weight="bold" font-size="11.4" text-anchor="middle" fill="#222" stroke="#222" stroke-width="0.3">14</text>
<text transform="translate(486.0,703.8) scale(0.83,1)" font-family="Liberation Sans" font-weight="bold" font-size="11.4" text-anchor="middle" fill="#222" stroke="#222" stroke-width="0.3">15</text>
<text transform="translate(519.4,703.8) scale(0.83,1)" font-family="Liberation Sans" font-weight="bold" font-size="11.4" text-anchor="middle" fill="#222" stroke="#222" stroke-width="0.3">16</text>
<text transform="translate(548.5,703.8) scale(0.83,1)" font-family="Liberation Sans" font-weight="bold" font-size="11.4" text-anchor="middle" fill="#222" stroke="#222" stroke-width="0.3">17</text>
<text transform="translate(588.2,703.8) scale(0.83,1)" font-family="Liberation Sans" font-weight="bold" font-size="11.4" text-anchor="middle" fill="#222" stroke="#222" stroke-width="0.3">18</text>
<text transform="translate(627.9,703.8) scale(0.83,1)" font-family="Liberation Sans" font-weight="bold" font-size="11.4" text-anchor="middle" fill="#222" stroke="#222" stroke-width="0.3">19</text>
<text transform="translate(655.6,703.8) scale(0.83,1)" font-family="Liberation Sans" font-weight="bold" font-size="11.4" text-anchor="middle" fill="#222" stroke="#222" stroke-width="0.3">20</text>
<line x1="48.2" y1="558.8" x2="666" y2="558.8" stroke="#8e4654" stroke-width="1.6" stroke-dasharray="5.4 3.45"/>
<text x="62.6" y="511.3" font-family="Liberation Serif" font-weight="bold" font-size="14.4" fill="#222">c) Stuttgart, 2009</text>
<g fill="#276b27"><polygon points="50.6,914.6 50.6,848.8 51.6,848.8 52.6,848.8 53.6,828.8 54.6,824.7 55.6,824.7 56.6,824.7 57.6,824.7 58.6,824.7 59.6,824.7 60.6,824.7 61.6,824.7 62.6,824.7 63.6,840.7 64.6,854.8 65.6,854.8 66.6,854.8 67.6,854.8 68.6,854.8 69.6,854.8 70.6,854.8 71.6,855.3 72.6,861.3 73.6,865.2 74.6,860.2 75.6,861.2 75.8,861.4 75.8,914.6"/><circle cx="53.3" cy="849.7" r="3.6"/><circle cx="55.2" cy="819.9" r="3.6"/><circle cx="55.5" cy="821.7" r="3.6"/><circle cx="57.3" cy="819.3" r="3.6"/><circle cx="57.1" cy="822.3" r="3.6"/><circle cx="60.0" cy="818.8" r="3.6"/><circle cx="63.2" cy="850.2" r="3.6"/><circle cx="64.9" cy="849.5" r="3.6"/><circle cx="66.0" cy="851.5" r="3.6"/><circle cx="67.9" cy="848.9" r="3.6"/><circle cx="70.0" cy="850.6" r="3.6"/><circle cx="69.3" cy="852.1" r="3.6"/><circle cx="72.0" cy="860.9" r="3.6"/><circle cx="66.4" cy="846.0" r="3.6"/></g><g fill="#7c2378"><polygon points="75.0,914.6 75.0,858.7 76.0,844.8 77.0,843.8 78.0,848.8 79.0,848.2 80.0,848.2 81.0,848.3 82.0,848.3 83.0,848.4 84.0,848.9 85.0,849.4 86.0,849.9 87.0,850.4 88.0,850.9 89.0,851.4 90.0,865.0 91.0,867.0 92.0,869.0 93.0,871.0 94.0,873.0 95.0,875.0 96.0,877.0 97.0,876.9 98.0,872.8 99.0,865.8 100.0,858.7 101.0,851.3 102.0,844.0 103.0,823.0 104.0,823.0 105.0,823.0 106.0,823.0 107.0,823.0 108.0,823.0 109.0,823.0 110.0,823.0 111.0,817.0 112.0,822.6 112.3,826.5 112.3,914.6"/><circle cx="76.8" cy="849.0" r="3.6"/><circle cx="80.1" cy="844.1" r="3.6"/><circle cx="79.0" cy="846.2" r="3.6"/><circle cx="82.8" cy="843.3" r="3.6"/><circle cx="84.5" cy="845.0" r="3.6"/><circle cx="84.3" cy="847.7" r="3.6"/><circle cx="86.9" cy="846.8" r="3.6"/><circle cx="89.4" cy="862.9" r="3.6"/><circle cx="91.4" cy="866.7" r="3.6"/><circle cx="93.9" cy="871.9" r="3.6"/><circle cx="96.4" cy="877.4" r="3.6"/><circle cx="99.5" cy="869.9" r="3.6"/><circle cx="101.5" cy="855.7" r="3.6"/><circle cx="103.7" cy="838.1" r="3.6"/><circle cx="106.9" cy="817.4" r="3.6"/><circle cx="109.1" cy="817.1" r="3.6"/><circle cx="108.4" cy="820.9" r="3.6"/><circle cx="108.4" cy="786.7" r="3.6"/><circle cx="105.9" cy="801.7" r="3.6"/><circle cx="82.2" cy="855.2" r="3.6"/></g><g fill="#2c2a84"><polygon points="111.5,914.6 111.5,865.2 112.5,848.1 113.5,831.9 114.5,834.4 115.5,830.9 116.5,826.6 117.5,818.6 118.5,814.7 119.5,814.7 120.5,814.7 121.5,814.7 122.5,814.7 123.5,814.7 124.5,814.7 125.5,814.7 126.5,814.7 127.5,825.5 128.5,836.0 129.5,841.5 130.5,847.0 131.5,852.5 132.5,854.4 133.5,855.9 134.5,857.4 135.5,862.6 136.5,870.6 137.5,873.7 138.5,870.2 139.5,872.7 139.6,872.9 139.6,914.6"/><circle cx="113.6" cy="857.3" r="3.6"/><circle cx="116.8" cy="829.4" r="3.6"/><circle cx="118.7" cy="817.5" r="3.6"/><circle cx="121.8" cy="809.0" r="3.6"/><circle cx="121.3" cy="811.0" r="3.6"/><circle cx="123.5" cy="809.4" r="3.6"/><circle cx="123.4" cy="811.1" r="3.6"/><circle cx="126.6" cy="823.7" r="3.6"/><circle cx="128.4" cy="840.6" r="3.6"/><circle cx="130.4" cy="849.4" r="3.6"/><circle cx="132.9" cy="852.8" r="3.6"/><circle cx="136.0" cy="868.8" r="3.6"/><circle cx="122.3" cy="792.6" r="3.6"/><circle cx="131.1" cy="822.6" r="3.6"/><circle cx="116.4" cy="821.8" r="3.6"/></g><g fill="#030303"><polygon points="138.8,914.6 138.8,871.3 139.8,864.3 140.8,863.8 141.8,869.8 142.8,869.9 143.8,869.9 144.8,870.2 145.8,870.6 146.8,870.9 147.8,871.2 148.8,871.9 149.8,873.2 150.8,874.5 151.8,870.5 152.8,866.5 153.8,862.5 154.8,858.5 155.8,854.5 156.8,851.6 157.8,851.6 158.8,851.7 159.8,851.8 160.8,851.8 161.8,852.5 162.8,853.2 163.8,853.8 164.8,854.5 165.8,851.3 166.8,855.3 166.9,855.7 166.9,914.6"/><circle cx="141.1" cy="867.6" r="3.6"/><circle cx="140.8" cy="868.8" r="3.6"/><circle cx="143.4" cy="865.3" r="3.6"/><circle cx="146.4" cy="865.5" r="3.6"/><circle cx="146.9" cy="869.3" r="3.6"/><circle cx="148.1" cy="868.8" r="3.6"/><circle cx="148.1" cy="870.8" r="3.6"/><circle cx="150.4" cy="872.4" r="3.6"/><circle cx="153.6" cy="865.9" r="3.6"/><circle cx="155.6" cy="857.0" r="3.6"/><circle cx="158.6" cy="847.6" r="3.6"/><circle cx="158.1" cy="850.0" r="3.6"/><circle cx="161.0" cy="847.5" r="3.6"/><circle cx="160.6" cy="849.8" r="3.6"/><circle cx="163.3" cy="848.8" r="3.6"/><circle cx="163.3" cy="850.7" r="3.6"/><circle cx="160.0" cy="821.8" r="3.6"/><circle cx="164.2" cy="824.3" r="3.6"/><circle cx="146.3" cy="846.5" r="3.6"/><circle cx="160.0" cy="841.0" r="3.6"/></g><g fill="#f0a63c"><polygon points="166.1,914.6 166.1,866.9 167.1,858.3 168.1,851.0 169.1,849.7 170.1,849.6 171.1,849.4 172.1,849.2 173.1,849.0 174.1,848.8 175.1,848.6 176.1,848.5 177.1,848.3 178.1,848.1 179.1,848.1 180.1,848.1 181.1,848.1 182.1,848.1 183.1,848.3 184.1,848.6 185.1,848.8 186.1,849.0 187.1,849.2 188.1,849.5 189.1,849.7 190.1,862.7 191.1,865.4 192.1,860.0 193.1,860.7 194.1,861.4 194.1,861.4 194.1,914.6"/><circle cx="169.1" cy="861.7" r="3.6"/><circle cx="171.6" cy="844.1" r="3.6"/><circle cx="170.7" cy="847.1" r="3.6"/><circle cx="173.1" cy="844.5" r="3.6"/><circle cx="173.0" cy="846.7" r="3.6"/><circle cx="175.4" cy="843.2" r="3.6"/><circle cx="175.6" cy="846.6" r="3.6"/><circle cx="178.5" cy="843.6" r="3.6"/><circle cx="178.9" cy="846.2" r="3.6"/><circle cx="180.5" cy="843.5" r="3.6"/><circle cx="182.8" cy="843.0" r="3.6"/><circle cx="185.4" cy="844.2" r="3.6"/><circle cx="187.3" cy="848.7" r="3.6"/><circle cx="190.6" cy="861.4" r="3.6"/><circle cx="190.2" cy="862.4" r="3.6"/><circle cx="180.1" cy="805.4" r="3.6"/><circle cx="180.1" cy="818.4" r="3.6"/><circle cx="180.1" cy="825.1" r="3.6"/><circle cx="178.4" cy="830.1" r="3.6"/><circle cx="173.4" cy="831.8" r="3.6"/><circle cx="186.7" cy="838.5" r="3.6"/></g><g fill="#276b27"><polygon points="193.3,914.6 193.3,873.2 194.3,866.5 195.3,861.1 196.3,864.1 197.3,861.1 198.3,858.1 199.3,856.6 200.3,855.1 201.3,853.6 202.3,852.1 203.3,850.6 204.3,849.1 205.3,843.9 206.3,830.9 207.3,826.2 208.3,825.8 209.3,825.5 210.3,825.2 211.3,824.8 212.3,824.8 213.3,824.8 214.3,824.7 215.3,824.8 216.3,827.3 217.3,829.8 218.3,832.3 219.3,836.2 220.3,840.7 221.3,839.2 222.3,845.7 222.7,849.7 222.7,914.6"/><circle cx="196.2" cy="869.3" r="3.6"/><circle cx="198.3" cy="858.4" r="3.6"/><circle cx="200.5" cy="851.8" r="3.6"/><circle cx="201.5" cy="854.2" r="3.6"/><circle cx="202.5" cy="848.1" r="3.6"/><circle cx="202.8" cy="850.4" r="3.6"/><circle cx="208.1" cy="829.6" r="3.6"/><circle cx="210.1" cy="820.6" r="3.6"/><circle cx="212.7" cy="820.2" r="3.6"/><circle cx="213.5" cy="821.9" r="3.6"/><circle cx="214.9" cy="823.3" r="3.6"/><circle cx="217.7" cy="830.3" r="3.6"/><circle cx="211.0" cy="786.7" r="3.6"/><circle cx="211.0" cy="791.7" r="3.6"/><circle cx="211.0" cy="797.6" r="3.6"/><circle cx="211.0" cy="807.6" r="3.6"/><circle cx="197.6" cy="831.5" r="3.6"/><circle cx="203.4" cy="837.6" r="3.6"/><circle cx="197.6" cy="849.8" r="3.6"/><circle cx="210.4" cy="755.0" r="3.6"/><circle cx="210.4" cy="759.0" r="3.6"/><circle cx="210.4" cy="763.0" r="3.6"/><circle cx="210.4" cy="767.0" r="3.6"/><circle cx="210.4" cy="771.0" r="3.6"/><circle cx="210.4" cy="775.0" r="3.6"/><circle cx="210.4" cy="789.0" r="3.6"/><circle cx="210.4" cy="794.0" r="3.6"/></g><g fill="#7c2378"><polygon points="221.9,914.6 221.9,861.3 222.9,858.0 223.9,854.7 224.9,857.3 225.9,854.0 226.9,851.6 227.9,851.6 228.9,851.7 229.9,851.8 230.9,851.8 231.9,852.5 232.9,853.2 233.9,853.8 234.9,854.5 235.9,855.2 236.9,855.8 237.9,856.5 238.9,857.2 239.9,857.9 240.9,858.6 241.9,859.2 242.9,859.9 243.9,860.6 244.9,861.3 245.9,861.9 246.9,862.6 247.9,863.3 248.9,863.9 249.9,864.6 250.9,860.3 251.9,862.3 252.4,863.3 252.4,914.6"/><circle cx="223.9" cy="859.2" r="3.6"/><circle cx="226.4" cy="851.2" r="3.6"/><circle cx="228.8" cy="846.5" r="3.6"/><circle cx="228.5" cy="849.5" r="3.6"/><circle cx="231.7" cy="849.0" r="3.6"/><circle cx="234.6" cy="849.3" r="3.6"/><circle cx="234.3" cy="851.9" r="3.6"/><circle cx="236.4" cy="851.5" r="3.6"/><circle cx="235.8" cy="852.8" r="3.6"/><circle cx="238.8" cy="852.9" r="3.6"/><circle cx="241.7" cy="855.5" r="3.6"/><circle cx="240.9" cy="857.4" r="3.6"/><circle cx="243.1" cy="856.0" r="3.6"/><circle cx="244.5" cy="858.0" r="3.6"/><circle cx="245.9" cy="858.2" r="3.6"/><circle cx="248.8" cy="859.1" r="3.6"/><circle cx="248.3" cy="861.1" r="3.6"/><circle cx="225.1" cy="856.8" r="3.6"/><circle cx="230.2" cy="841.8" r="3.6"/><circle cx="236.0" cy="846.8" r="3.6"/><circle cx="241.8" cy="853.5" r="3.6"/></g><g fill="#2c2a84"><polygon points="251.6,914.6 251.6,878.2 252.6,876.5 253.6,875.1 254.6,880.1 255.6,879.1 256.6,877.8 257.6,867.8 258.6,860.7 259.6,858.7 260.6,856.7 261.6,854.7 262.6,854.4 263.6,854.1 264.6,853.7 265.6,853.4 266.6,853.1 267.6,853.3 268.6,853.3 269.6,853.3 270.6,855.0 271.6,859.7 272.6,864.3 273.6,870.8 274.6,877.5 275.6,881.5 276.6,881.5 277.6,879.5 278.6,877.5 279.6,875.5 280.6,865.6 281.6,851.6 282.6,843.5 283.6,838.2 284.6,838.3 285.6,838.3 286.6,838.4 287.6,838.4 288.6,832.9 289.6,833.4 289.7,833.5 289.7,914.6"/><circle cx="254.0" cy="878.0" r="3.6"/><circle cx="255.0" cy="880.8" r="3.6"/><circle cx="257.0" cy="875.3" r="3.6"/><circle cx="257.5" cy="877.8" r="3.6"/><circle cx="258.7" cy="867.1" r="3.6"/><circle cx="260.9" cy="853.0" r="3.6"/><circle cx="263.3" cy="848.9" r="3.6"/><circle cx="264.7" cy="850.9" r="3.6"/><circle cx="266.1" cy="848.7" r="3.6"/><circle cx="265.7" cy="851.8" r="3.6"/><circle cx="269.0" cy="848.5" r="3.6"/><circle cx="268.1" cy="850.0" r="3.6"/><circle cx="270.3" cy="860.1" r="3.6"/><circle cx="273.0" cy="876.4" r="3.6"/><circle cx="276.0" cy="876.0" r="3.6"/><circle cx="278.4" cy="876.0" r="3.6"/><circle cx="280.9" cy="872.3" r="3.6"/><circle cx="282.4" cy="853.8" r="3.6"/><circle cx="285.4" cy="833.5" r="3.6"/><circle cx="284.5" cy="835.7" r="3.6"/><circle cx="259.2" cy="821.4" r="3.6"/><circle cx="269.2" cy="823.8" r="3.6"/><circle cx="265.1" cy="832.6" r="3.6"/><circle cx="265.1" cy="840.1" r="3.6"/><circle cx="260.9" cy="851.8" r="3.6"/><circle cx="285.1" cy="829.8" r="3.6"/><circle cx="285.1" cy="840.1" r="3.6"/></g><g fill="#030303"><polygon points="288.9,914.6 288.9,834.8 289.9,832.6 290.9,830.3 291.9,835.5 292.9,835.8 293.9,835.7 294.9,835.5 295.9,836.7 296.9,839.7 297.9,842.7 298.9,844.8 299.9,845.2 300.9,845.5 301.9,845.4 302.9,844.9 303.9,844.4 304.9,843.9 305.9,843.4 306.9,843.1 307.9,843.2 308.9,843.2 309.9,843.2 310.9,843.3 311.9,843.6 312.9,843.9 313.9,844.3 314.9,844.6 315.9,846.0 316.9,842.0 317.9,844.0 318.2,844.6 318.2,914.6"/><circle cx="294.3" cy="830.8" r="3.6"/><circle cx="292.9" cy="832.9" r="3.6"/><circle cx="298.5" cy="840.2" r="3.6"/><circle cx="298.1" cy="841.4" r="3.6"/><circle cx="300.9" cy="840.8" r="3.6"/><circle cx="300.9" cy="842.9" r="3.6"/><circle cx="303.9" cy="839.7" r="3.6"/><circle cx="304.1" cy="842.5" r="3.6"/><circle cx="305.7" cy="839.6" r="3.6"/><circle cx="305.5" cy="840.7" r="3.6"/><circle cx="307.7" cy="838.2" r="3.6"/><circle cx="307.2" cy="840.4" r="3.6"/><circle cx="310.4" cy="837.8" r="3.6"/><circle cx="310.4" cy="841.1" r="3.6"/><circle cx="313.4" cy="838.8" r="3.6"/><circle cx="313.9" cy="842.5" r="3.6"/><circle cx="315.5" cy="843.4" r="3.6"/><circle cx="292.6" cy="805.1" r="3.6"/><circle cx="292.6" cy="825.1" r="3.6"/><circle cx="293.2" cy="762.9" r="3.6"/><circle cx="293.2" cy="778.4" r="3.6"/><circle cx="293.2" cy="788.0" r="3.6"/><circle cx="293.2" cy="798.2" r="3.6"/><circle cx="309.6" cy="800.3" r="3.6"/></g><g fill="#f0a63c"><polygon points="317.4,914.6 317.4,864.8 318.4,855.1 319.4,849.1 320.4,849.1 321.4,843.1 322.4,840.9 323.4,840.2 324.4,839.6 325.4,838.9 326.4,838.2 327.4,837.5 328.4,836.7 329.4,835.8 330.4,835.0 331.4,834.2 332.4,833.4 333.4,832.6 334.4,831.8 335.4,829.8 336.4,826.8 337.4,823.8 338.4,821.4 339.4,821.4 340.4,821.4 341.4,821.4 342.4,821.4 343.4,821.4 344.4,821.4 345.4,821.4 346.4,821.4 347.4,821.1 348.4,831.1 349.2,833.0 349.2,914.6"/><circle cx="321.8" cy="843.5" r="3.6"/><circle cx="324.4" cy="834.9" r="3.6"/><circle cx="327.1" cy="833.2" r="3.6"/><circle cx="327.3" cy="835.9" r="3.6"/><circle cx="329.5" cy="832.6" r="3.6"/><circle cx="329.5" cy="833.6" r="3.6"/><circle cx="332.1" cy="829.5" r="3.6"/><circle cx="331.6" cy="832.8" r="3.6"/><circle cx="333.8" cy="827.5" r="3.6"/><circle cx="333.4" cy="830.6" r="3.6"/><circle cx="336.7" cy="826.7" r="3.6"/><circle cx="339.5" cy="819.1" r="3.6"/><circle cx="340.0" cy="820.5" r="3.6"/><circle cx="341.7" cy="816.2" r="3.6"/><circle cx="343.7" cy="815.9" r="3.6"/><circle cx="344.5" cy="818.9" r="3.6"/><circle cx="346.1" cy="829.1" r="3.6"/><circle cx="326.0" cy="818.8" r="3.6"/></g><g fill="#276b27"><polygon points="348.4,914.6 348.4,878.8 349.4,862.1 350.4,851.1 351.4,855.1 352.4,853.1 353.4,850.6 354.4,845.6 355.4,843.3 356.4,843.4 357.4,843.5 358.4,843.5 359.4,843.6 360.4,844.1 361.4,844.7 362.4,845.3 363.4,845.9 364.4,846.6 365.4,849.9 366.4,853.2 367.4,855.1 368.4,855.8 369.4,856.4 370.4,857.1 371.4,857.8 372.4,859.5 373.4,862.2 374.4,859.0 375.4,867.0 376.4,873.6 376.4,914.6"/><circle cx="350.9" cy="868.3" r="3.6"/><circle cx="353.3" cy="849.4" r="3.6"/><circle cx="355.6" cy="843.3" r="3.6"/><circle cx="358.2" cy="838.8" r="3.6"/><circle cx="358.6" cy="841.1" r="3.6"/><circle cx="360.1" cy="839.8" r="3.6"/><circle cx="360.3" cy="841.5" r="3.6"/><circle cx="362.4" cy="842.2" r="3.6"/><circle cx="363.5" cy="843.9" r="3.6"/><circle cx="365.5" cy="850.3" r="3.6"/><circle cx="367.3" cy="850.7" r="3.6"/><circle cx="367.4" cy="853.7" r="3.6"/><circle cx="370.7" cy="853.5" r="3.6"/><circle cx="369.9" cy="855.3" r="3.6"/><circle cx="372.6" cy="859.6" r="3.6"/><circle cx="359.2" cy="805.1" r="3.6"/><circle cx="359.2" cy="810.1" r="3.6"/><circle cx="359.2" cy="819.3" r="3.6"/><circle cx="359.2" cy="824.3" r="3.6"/></g><g fill="#7c2378"><polygon points="375.6,914.6 375.6,858.4 376.6,857.9 377.6,857.4 378.6,863.4 379.6,863.3 380.6,863.3 381.6,863.2 382.6,863.8 383.6,864.8 384.6,865.8 385.6,866.8 386.6,867.8 387.6,868.8 388.6,869.8 389.6,870.8 390.6,870.8 391.6,869.8 392.6,868.8 393.6,868.5 394.6,868.6 395.6,868.5 396.6,868.4 397.6,863.0 398.6,864.4 398.8,864.6 398.8,914.6"/><circle cx="378.6" cy="859.5" r="3.6"/><circle cx="378.7" cy="861.3" r="3.6"/><circle cx="380.2" cy="858.2" r="3.6"/><circle cx="380.4" cy="860.3" r="3.6"/><circle cx="382.5" cy="860.4" r="3.6"/><circle cx="384.6" cy="865.0" r="3.6"/><circle cx="388.3" cy="865.0" r="3.6"/><circle cx="386.9" cy="867.2" r="3.6"/><circle cx="390.5" cy="867.9" r="3.6"/><circle cx="390.9" cy="870.8" r="3.6"/><circle cx="392.9" cy="865.0" r="3.6"/><circle cx="391.8" cy="867.0" r="3.6"/><circle cx="394.3" cy="863.4" r="3.6"/><circle cx="394.9" cy="865.1" r="3.6"/><circle cx="394.3" cy="845.2" r="3.6"/></g><g fill="#2c2a84"><polygon points="398.0,914.6 398.0,868.0 399.0,865.0 400.0,864.3 401.0,869.7 402.0,869.0 403.0,868.3 404.0,868.3 405.0,868.2 406.0,868.1 407.0,868.2 408.0,868.8 409.0,869.5 410.0,869.8 411.0,868.8 412.0,858.3 413.0,828.3 414.0,817.6 415.0,816.9 416.0,816.3 417.0,815.6 418.0,814.9 419.0,814.9 420.0,814.8 421.0,814.7 422.0,814.9 423.0,819.9 424.0,824.9 425.0,829.9 426.0,837.1 427.0,845.1 428.0,851.5 429.0,852.0 430.0,852.4 431.0,852.9 432.0,853.3 433.0,853.8 434.0,854.2 435.0,854.7 436.0,849.6 437.0,850.6 437.2,850.8 437.2,914.6"/><circle cx="400.7" cy="865.6" r="3.6"/><circle cx="400.3" cy="868.5" r="3.6"/><circle cx="402.5" cy="864.3" r="3.6"/><circle cx="402.8" cy="866.9" r="3.6"/><circle cx="406.2" cy="864.5" r="3.6"/><circle cx="407.5" cy="864.2" r="3.6"/><circle cx="409.8" cy="866.6" r="3.6"/><circle cx="409.7" cy="868.3" r="3.6"/><circle cx="412.3" cy="863.1" r="3.6"/><circle cx="415.2" cy="818.8" r="3.6"/><circle cx="417.1" cy="811.5" r="3.6"/><circle cx="418.3" cy="813.4" r="3.6"/><circle cx="419.6" cy="810.0" r="3.6"/><circle cx="420.5" cy="812.0" r="3.6"/><circle cx="421.8" cy="819.7" r="3.6"/><circle cx="424.4" cy="835.0" r="3.6"/><circle cx="427.3" cy="846.9" r="3.6"/><circle cx="429.8" cy="850.7" r="3.6"/><circle cx="431.2" cy="849.3" r="3.6"/><circle cx="432.1" cy="850.9" r="3.6"/><circle cx="433.4" cy="851.6" r="3.6"/><circle cx="406.0" cy="847.7" r="3.6"/><circle cx="424.3" cy="817.6" r="3.6"/><circle cx="424.3" cy="830.1" r="3.6"/><circle cx="425.2" cy="843.5" r="3.6"/><circle cx="425.8" cy="817.6" r="3.6"/><circle cx="425.8" cy="830.1" r="3.6"/></g><g fill="#030303"><polygon points="436.4,914.6 436.4,851.4 437.4,837.6 438.4,832.2 439.4,834.6 440.4,834.3 441.4,834.0 442.4,833.8 443.4,833.5 444.4,833.2 445.4,833.2 446.4,833.1 447.4,833.1 448.4,833.1 449.4,838.0 450.4,843.5 451.4,849.0 452.4,851.8 453.4,852.5 454.4,853.1 455.4,853.8 456.4,854.5 457.4,856.9 458.4,860.9 459.4,864.9 460.4,868.2 461.4,868.9 462.4,869.6 463.4,870.2 464.4,870.9 465.4,871.6 466.4,866.4 467.4,867.2 468.3,867.9 468.3,914.6"/><circle cx="438.9" cy="839.1" r="3.6"/><circle cx="441.0" cy="830.0" r="3.6"/><circle cx="441.3" cy="830.6" r="3.6"/><circle cx="443.1" cy="829.0" r="3.6"/><circle cx="446.3" cy="828.0" r="3.6"/><circle cx="447.0" cy="829.8" r="3.6"/><circle cx="447.9" cy="837.9" r="3.6"/><circle cx="450.6" cy="846.1" r="3.6"/><circle cx="453.6" cy="851.4" r="3.6"/><circle cx="455.4" cy="852.6" r="3.6"/><circle cx="458.0" cy="861.1" r="3.6"/><circle cx="460.4" cy="864.6" r="3.6"/><circle cx="461.4" cy="866.3" r="3.6"/><circle cx="462.9" cy="865.8" r="3.6"/><circle cx="463.7" cy="867.9" r="3.6"/><circle cx="465.2" cy="868.1" r="3.6"/><circle cx="465.2" cy="869.1" r="3.6"/><circle cx="446.4" cy="803.7" r="3.6"/><circle cx="443.4" cy="816.8" r="3.6"/><circle cx="455.1" cy="825.1" r="3.6"/><circle cx="465.1" cy="861.8" r="3.6"/></g><g fill="#f0a63c"><polygon points="467.5,914.6 467.5,870.1 468.5,865.3 469.5,864.6 470.5,870.0 471.5,869.3 472.5,868.6 473.5,868.1 474.5,868.0 475.5,867.9 476.5,867.8 477.5,867.7 478.5,867.6 479.5,867.5 480.5,867.4 481.5,867.3 482.5,867.3 483.5,867.3 484.5,867.3 485.5,867.4 486.5,867.7 487.5,868.0 488.5,868.3 489.5,868.6 490.5,868.9 491.5,869.2 492.5,869.1 493.5,868.9 494.5,868.6 495.5,868.4 496.5,868.1 497.5,865.9 498.5,863.2 499.5,861.9 500.5,862.0 501.5,862.1 502.5,856.1 503.5,856.4 504.2,857.3 504.2,914.6"/><circle cx="470.1" cy="866.4" r="3.6"/><circle cx="472.7" cy="865.1" r="3.6"/><circle cx="471.6" cy="867.9" r="3.6"/><circle cx="475.4" cy="863.1" r="3.6"/><circle cx="475.0" cy="865.3" r="3.6"/><circle cx="477.4" cy="862.5" r="3.6"/><circle cx="477.4" cy="864.2" r="3.6"/><circle cx="479.6" cy="862.5" r="3.6"/><circle cx="480.1" cy="864.8" r="3.6"/><circle cx="484.4" cy="862.6" r="3.6"/><circle cx="483.5" cy="863.6" r="3.6"/><circle cx="486.5" cy="863.6" r="3.6"/><circle cx="487.7" cy="864.5" r="3.6"/><circle cx="489.1" cy="863.9" r="3.6"/><circle cx="489.7" cy="866.6" r="3.6"/><circle cx="491.1" cy="864.6" r="3.6"/><circle cx="493.5" cy="865.5" r="3.6"/><circle cx="496.0" cy="862.9" r="3.6"/><circle cx="497.4" cy="866.1" r="3.6"/><circle cx="498.5" cy="861.6" r="3.6"/><circle cx="500.7" cy="856.8" r="3.6"/><circle cx="502.2" cy="859.5" r="3.6"/><circle cx="481.8" cy="831.5" r="3.6"/><circle cx="483.1" cy="847.3" r="3.6"/><circle cx="501.0" cy="851.5" r="3.6"/></g><g fill="#276b27"><polygon points="503.4,914.6 503.4,874.8 504.4,864.8 505.4,858.0 506.4,862.0 507.4,860.0 508.4,858.1 509.4,858.2 510.4,858.3 511.4,858.3 512.4,858.4 513.4,859.1 514.4,859.7 515.4,859.8 516.4,859.0 517.4,858.2 518.4,849.9 519.4,840.6 520.4,837.1 521.4,837.7 522.4,837.8 523.4,836.8 524.4,839.6 525.4,833.7 526.4,831.7 527.4,829.7 528.4,829.5 529.4,829.3 530.4,829.1 531.4,822.9 532.4,832.5 532.7,837.9 532.7,914.6"/><circle cx="506.0" cy="867.7" r="3.6"/><circle cx="507.8" cy="855.9" r="3.6"/><circle cx="510.9" cy="852.9" r="3.6"/><circle cx="511.2" cy="855.2" r="3.6"/><circle cx="513.5" cy="854.9" r="3.6"/><circle cx="513.9" cy="857.4" r="3.6"/><circle cx="515.4" cy="855.5" r="3.6"/><circle cx="516.3" cy="857.8" r="3.6"/><circle cx="518.3" cy="853.5" r="3.6"/><circle cx="520.8" cy="842.8" r="3.6"/><circle cx="525.0" cy="848.3" r="3.6"/><circle cx="528.0" cy="827.3" r="3.6"/><circle cx="529.7" cy="823.2" r="3.6"/><circle cx="529.4" cy="825.4" r="3.6"/><circle cx="521.8" cy="826.0" r="3.6"/><circle cx="528.0" cy="819.3" r="3.6"/><circle cx="522.5" cy="826.0" r="3.6"/><circle cx="528.3" cy="831.8" r="3.6"/><circle cx="528.3" cy="837.6" r="3.6"/></g><g fill="#7c2378"><polygon points="531.9,914.6 531.9,875.5 532.9,867.3 533.9,851.3 534.9,854.1 535.9,853.3 536.9,852.5 537.9,851.7 538.9,851.6 539.9,851.5 540.9,851.4 541.9,851.5 542.9,852.8 543.9,854.2 544.9,855.5 545.9,856.8 546.9,858.7 547.9,868.7 548.9,871.6 549.9,870.9 550.9,870.2 551.9,869.6 552.9,868.9 553.9,868.2 554.9,865.7 555.9,862.7 556.9,859.7 557.9,859.4 558.9,859.1 559.9,858.8 560.9,858.5 561.9,854.7 562.9,857.7 563.7,860.1 563.7,914.6"/><circle cx="534.4" cy="873.3" r="3.6"/><circle cx="536.7" cy="848.4" r="3.6"/><circle cx="536.7" cy="851.3" r="3.6"/><circle cx="538.7" cy="847.0" r="3.6"/><circle cx="539.6" cy="848.5" r="3.6"/><circle cx="541.6" cy="848.4" r="3.6"/><circle cx="542.3" cy="851.4" r="3.6"/><circle cx="544.1" cy="851.0" r="3.6"/><circle cx="543.3" cy="853.7" r="3.6"/><circle cx="546.0" cy="866.0" r="3.6"/><circle cx="549.2" cy="867.3" r="3.6"/><circle cx="548.4" cy="869.4" r="3.6"/><circle cx="551.0" cy="866.3" r="3.6"/><circle cx="551.8" cy="867.7" r="3.6"/><circle cx="553.2" cy="864.4" r="3.6"/><circle cx="553.6" cy="867.2" r="3.6"/><circle cx="555.9" cy="861.9" r="3.6"/><circle cx="558.7" cy="855.9" r="3.6"/><circle cx="560.8" cy="858.0" r="3.6"/><circle cx="539.2" cy="835.1" r="3.6"/><circle cx="552.6" cy="838.5" r="3.6"/><circle cx="559.2" cy="849.3" r="3.6"/><circle cx="542.5" cy="843.5" r="3.6"/></g><g fill="#2c2a84"><polygon points="562.9,914.6 562.9,869.9 563.9,857.9 564.9,854.8 565.9,860.0 566.9,859.2 567.9,858.4 568.9,857.8 569.9,857.3 570.9,856.8 571.9,856.3 572.9,855.8 573.9,855.3 574.9,854.8 575.9,854.9 576.9,855.1 577.9,855.1 578.9,856.4 579.9,861.4 580.9,866.4 581.9,871.4 582.9,874.9 583.9,878.4 584.9,881.9 585.9,881.7 586.9,881.5 587.9,881.5 588.9,881.5 589.9,881.5 590.9,881.5 591.9,881.5 592.9,881.5 593.9,880.7 594.9,879.4 595.9,878.0 596.9,876.7 597.9,875.4 598.9,873.0 599.9,869.9 600.9,866.8 601.9,864.8 602.9,864.8 603.9,864.8 604.9,864.8 605.9,864.8 606.9,864.8 607.9,864.8 608.9,865.8 609.9,868.5 610.9,865.1 611.9,868.6 612.1,869.3 612.1,914.6"/><circle cx="566.0" cy="862.7" r="3.6"/><circle cx="567.7" cy="855.3" r="3.6"/><circle cx="567.2" cy="857.6" r="3.6"/><circle cx="570.6" cy="852.4" r="3.6"/><circle cx="569.4" cy="855.2" r="3.6"/><circle cx="573.1" cy="852.9" r="3.6"/><circle cx="574.6" cy="850.4" r="3.6"/><circle cx="577.7" cy="852.6" r="3.6"/><circle cx="582.4" cy="873.6" r="3.6"/><circle cx="584.6" cy="877.5" r="3.6"/><circle cx="587.2" cy="877.2" r="3.6"/><circle cx="587.3" cy="879.8" r="3.6"/><circle cx="588.8" cy="876.5" r="3.6"/><circle cx="592.2" cy="876.7" r="3.6"/><circle cx="592.7" cy="878.5" r="3.6"/><circle cx="594.4" cy="875.6" r="3.6"/><circle cx="596.6" cy="873.8" r="3.6"/><circle cx="597.5" cy="876.4" r="3.6"/><circle cx="598.8" cy="871.7" r="3.6"/><circle cx="601.6" cy="864.8" r="3.6"/><circle cx="604.4" cy="859.7" r="3.6"/><circle cx="603.7" cy="860.8" r="3.6"/><circle cx="606.3" cy="858.8" r="3.6"/><circle cx="606.6" cy="860.8" r="3.6"/><circle cx="608.3" cy="864.0" r="3.6"/><circle cx="575.9" cy="840.5" r="3.6"/><circle cx="591.5" cy="863.5" r="3.6"/><circle cx="605.5" cy="850.2" r="3.6"/><circle cx="605.0" cy="850.2" r="3.6"/><circle cx="591.4" cy="863.5" r="3.6"/><circle cx="580.8" cy="861.8" r="3.6"/></g><g fill="#030303"><polygon points="611.3,914.6 611.3,855.4 612.3,855.4 613.3,855.4 614.3,861.4 615.3,861.4 616.3,861.4 617.3,861.4 618.3,861.4 619.3,861.4 620.3,861.6 621.3,863.2 622.3,864.8 623.3,866.4 624.3,868.0 625.3,865.4 626.3,862.4 627.3,861.2 628.3,860.8 629.3,860.4 630.3,860.0 631.3,859.6 632.3,859.2 633.3,858.8 634.3,858.4 635.3,858.3 636.3,858.3 637.3,858.2 638.3,858.2 639.3,859.6 640.3,861.6 641.3,857.6 642.3,860.8 643.2,865.3 643.2,914.6"/><circle cx="613.4" cy="856.5" r="3.6"/><circle cx="613.6" cy="857.8" r="3.6"/><circle cx="618.6" cy="857.1" r="3.6"/><circle cx="619.3" cy="859.1" r="3.6"/><circle cx="621.6" cy="860.6" r="3.6"/><circle cx="621.7" cy="862.7" r="3.6"/><circle cx="623.3" cy="864.2" r="3.6"/><circle cx="626.3" cy="864.1" r="3.6"/><circle cx="628.4" cy="856.4" r="3.6"/><circle cx="628.4" cy="859.2" r="3.6"/><circle cx="630.5" cy="854.7" r="3.6"/><circle cx="630.6" cy="856.6" r="3.6"/><circle cx="632.6" cy="854.7" r="3.6"/><circle cx="633.6" cy="856.0" r="3.6"/><circle cx="634.8" cy="855.2" r="3.6"/><circle cx="637.5" cy="855.2" r="3.6"/><circle cx="638.2" cy="857.2" r="3.6"/><circle cx="640.6" cy="859.8" r="3.6"/><circle cx="615.4" cy="832.6" r="3.6"/><circle cx="615.4" cy="839.3" r="3.6"/><circle cx="615.4" cy="845.2" r="3.6"/><circle cx="636.4" cy="826.8" r="3.6"/><circle cx="638.1" cy="840.5" r="3.6"/><circle cx="630.1" cy="847.7" r="3.6"/></g><g fill="#f0a63c"><polygon points="642.4,914.6 642.4,872.5 643.4,862.0 644.4,861.4 645.4,866.7 646.4,866.0 647.4,865.4 648.4,864.6 649.4,862.6 650.4,860.6 651.4,858.6 652.4,857.1 653.4,855.8 654.4,854.4 655.4,853.1 656.4,851.8 657.4,851.6 658.4,851.5 659.4,851.4 660.4,851.5 661.4,852.5 662.4,853.5 663.4,854.5 664.4,857.9 665.4,861.9 666.4,859.9 667.4,865.8 668.0,870.6 668.0,914.6"/><circle cx="644.7" cy="865.1" r="3.6"/><circle cx="647.0" cy="861.9" r="3.6"/><circle cx="647.6" cy="863.0" r="3.6"/><circle cx="652.7" cy="856.0" r="3.6"/><circle cx="654.5" cy="851.2" r="3.6"/><circle cx="653.7" cy="854.5" r="3.6"/><circle cx="657.0" cy="848.6" r="3.6"/><circle cx="656.1" cy="850.6" r="3.6"/><circle cx="659.5" cy="847.4" r="3.6"/><circle cx="658.6" cy="848.6" r="3.6"/><circle cx="661.9" cy="850.1" r="3.6"/><circle cx="661.1" cy="851.8" r="3.6"/><circle cx="663.9" cy="859.1" r="3.6"/><circle cx="658.8" cy="818.1" r="3.6"/><circle cx="647.6" cy="826.8" r="3.6"/><circle cx="657.6" cy="831.0" r="3.6"/><circle cx="658.5" cy="836.8" r="3.6"/><circle cx="659.3" cy="841.8" r="3.6"/></g>
<line x1="48.4" y1="713.0" x2="48.4" y2="911.0" stroke="#8a8a8a" stroke-width="1"/>
<line x1="45.2" y1="911.0" x2="48.4" y2="911.0" stroke="#8a8a8a" stroke-width="1"/>
<text transform="translate(41.8,911.0) rotate(-90)" font-family="Liberation Sans" font-weight="bold" font-size="10.5" text-anchor="middle" fill="#222" stroke="#222" stroke-width="0.4">0</text>
<line x1="45.2" y1="878.0" x2="48.4" y2="878.0" stroke="#8a8a8a" stroke-width="1"/>
<text transform="translate(41.8,878.0) rotate(-90)" font-family="Liberation Sans" font-weight="bold" font-size="10.5" text-anchor="middle" fill="#222" stroke="#222" stroke-width="0.4">1</text>
<line x1="45.2" y1="845.0" x2="48.4" y2="845.0" stroke="#8a8a8a" stroke-width="1"/>
<text transform="translate(41.8,845.0) rotate(-90)" font-family="Liberation Sans" font-weight="bold" font-size="10.5" text-anchor="middle" fill="#222" stroke="#222" stroke-width="0.4">2</text>
<line x1="45.2" y1="812.0" x2="48.4" y2="812.0" stroke="#8a8a8a" stroke-width="1"/>
<text transform="translate(41.8,812.0) rotate(-90)" font-family="Liberation Sans" font-weight="bold" font-size="10.5" text-anchor="middle" fill="#222" stroke="#222" stroke-width="0.4">3</text>
<line x1="45.2" y1="779.0" x2="48.4" y2="779.0" stroke="#8a8a8a" stroke-width="1"/>
<text transform="translate(41.8,779.0) rotate(-90)" font-family="Liberation Sans" font-weight="bold" font-size="10.5" text-anchor="middle" fill="#222" stroke="#222" stroke-width="0.4">4</text>
<line x1="45.2" y1="746.0" x2="48.4" y2="746.0" stroke="#8a8a8a" stroke-width="1"/>
<text transform="translate(41.8,746.0) rotate(-90)" font-family="Liberation Sans" font-weight="bold" font-size="10.5" text-anchor="middle" fill="#222" stroke="#222" stroke-width="0.4">5</text>
<line x1="45.2" y1="713.0" x2="48.4" y2="713.0" stroke="#8a8a8a" stroke-width="1"/>
<text transform="translate(41.8,713.0) rotate(-90)" font-family="Liberation Sans" font-weight="bold" font-size="10.5" text-anchor="middle" fill="#222" stroke="#222" stroke-width="0.4">6</text>
<text transform="translate(26.8,812.9) rotate(-90)" font-family="Liberation Sans" font-size="11.8" text-anchor="middle" fill="#3c3c3c" stroke="#3c3c3c" stroke-width="0.25">&#8722;log<tspan font-size="6.5" dy="2">10</tspan><tspan dy="-2">(</tspan><tspan font-style="italic">p</tspan>)</text>
<line x1="48.6" y1="919.2" x2="655.6" y2="919.2" stroke="#8a8a8a" stroke-width="1.2"/>
<line x1="48.6" y1="919.2" x2="48.6" y2="922.2" stroke="#9a9a9a" stroke-width="1"/>
<line x1="63.4" y1="919.2" x2="63.4" y2="922.2" stroke="#9a9a9a" stroke-width="1"/>
<line x1="94.5" y1="919.2" x2="94.5" y2="922.2" stroke="#9a9a9a" stroke-width="1"/>
<line x1="126.8" y1="919.2" x2="126.8" y2="922.2" stroke="#9a9a9a" stroke-width="1"/>
<line x1="153.3" y1="919.2" x2="153.3" y2="922.2" stroke="#9a9a9a" stroke-width="1"/>
<line x1="180.0" y1="919.2" x2="180.0" y2="922.2" stroke="#9a9a9a" stroke-width="1"/>
<line x1="207.9" y1="919.2" x2="207.9" y2="922.2" stroke="#9a9a9a" stroke-width="1"/>
<line x1="237.0" y1="919.2" x2="237.0" y2="922.2" stroke="#9a9a9a" stroke-width="1"/>
<line x1="270.6" y1="919.2" x2="270.6" y2="922.2" stroke="#9a9a9a" stroke-width="1"/>
<line x1="303.4" y1="919.2" x2="303.4" y2="922.2" stroke="#9a9a9a" stroke-width="1"/>
<line x1="334.7" y1="919.2" x2="334.7" y2="922.2" stroke="#9a9a9a" stroke-width="1"/>
<line x1="363.6" y1="919.2" x2="363.6" y2="922.2" stroke="#9a9a9a" stroke-width="1"/>
<line x1="387.2" y1="919.2" x2="387.2" y2="922.2" stroke="#9a9a9a" stroke-width="1"/>
<line x1="417.5" y1="919.2" x2="417.5" y2="922.2" stroke="#9a9a9a" stroke-width="1"/>
<line x1="452.2" y1="919.2" x2="452.2" y2="922.2" stroke="#9a9a9a" stroke-width="1"/>
<line x1="486.0" y1="919.2" x2="486.0" y2="922.2" stroke="#9a9a9a" stroke-width="1"/>
<line x1="519.4" y1="919.2" x2="519.4" y2="922.2" stroke="#9a9a9a" stroke-width="1"/>
<line x1="548.5" y1="919.2" x2="548.5" y2="922.2" stroke="#9a9a9a" stroke-width="1"/>
<line x1="588.2" y1="919.2" x2="588.2" y2="922.2" stroke="#9a9a9a" stroke-width="1"/>
<line x1="627.9" y1="919.2" x2="627.9" y2="922.2" stroke="#9a9a9a" stroke-width="1"/>
<line x1="655.6" y1="919.2" x2="655.6" y2="922.2" stroke="#9a9a9a" stroke-width="1"/>
<text x="48.8" y="930.3" font-family="Liberation Sans" font-weight="bold" font-size="10.2" text-anchor="middle" fill="#222">Chr</text>
<text transform="translate(94.5,930.3) scale(0.83,1)" font-family="Liberation Sans" font-weight="bold" font-size="11.4" text-anchor="middle" fill="#222" stroke="#222" stroke-width="0.3">2</text>
<text transform="translate(126.8,930.3) scale(0.83,1)" font-family="Liberation Sans" font-weight="bold" font-size="11.4" text-anchor="middle" fill="#222" stroke="#222" stroke-width="0.3">3</text>
<text transform="translate(153.3,930.3) scale(0.83,1)" font-family="Liberation Sans" font-weight="bold" font-size="11.4" text-anchor="middle" fill="#222" stroke="#222" stroke-width="0.3">4</text>
<text transform="translate(180.0,930.3) scale(0.83,1)" font-family="Liberation Sans" font-weight="bold" font-size="11.4" text-anchor="middle" fill="#222" stroke="#222" stroke-width="0.3">5</text>
<text transform="translate(207.9,930.3) scale(0.83,1)" font-family="Liberation Sans" font-weight="bold" font-size="11.4" text-anchor="middle" fill="#222" stroke="#222" stroke-width="0.3">6</text>
<text transform="translate(237.0,930.3) scale(0.83,1)" font-family="Liberation Sans" font-weight="bold" font-size="11.4" text-anchor="middle" fill="#222" stroke="#222" stroke-width="0.3">7</text>
<text transform="translate(270.6,930.3) scale(0.83,1)" font-family="Liberation Sans" font-weight="bold" font-size="11.4" text-anchor="middle" fill="#222" stroke="#222" stroke-width="0.3">8</text>
<text transform="translate(303.4,930.3) scale(0.83,1)" font-family="Liberation Sans" font-weight="bold" font-size="11.4" text-anchor="middle" fill="#222" stroke="#222" stroke-width="0.3">9</text>
<text transform="translate(334.7,930.3) scale(0.83,1)" font-family="Liberation Sans" font-weight="bold" font-size="11.4" text-anchor="middle" fill="#222" stroke="#222" stroke-width="0.3">10</text>
<text transform="translate(363.6,930.3) scale(0.83,1)" font-family="Liberation Sans" font-weight="bold" font-size="11.4" text-anchor="middle" fill="#222" stroke="#222" stroke-width="0.3">11</text>
<text transform="translate(387.2,930.3) scale(0.83,1)" font-family="Liberation Sans" font-weight="bold" font-size="11.4" text-anchor="middle" fill="#222" stroke="#222" stroke-width="0.3">12</text>
<text transform="translate(417.5,930.3) scale(0.83,1)" font-family="Liberation Sans" font-weight="bold" font-size="11.4" text-anchor="middle" fill="#222" stroke="#222" stroke-width="0.3">13</text>
<text transform="translate(452.2,930.3) scale(0.83,1)" font-family="Liberation Sans" font-weight="bold" font-size="11.4" text-anchor="middle" fill="#222" stroke="#222" stroke-width="0.3">14</text>
<text transform="translate(486.0,930.3) scale(0.83,1)" font-family="Liberation Sans" font-weight="bold" font-size="11.4" text-anchor="middle" fill="#222" stroke="#222" stroke-width="0.3">15</text>
<text transform="translate(519.4,930.3) scale(0.83,1)" font-family="Liberation Sans" font-weight="bold" font-size="11.4" text-anchor="middle" fill="#222" stroke="#222" stroke-width="0.3">16</text>
<text transform="translate(548.5,930.3) scale(0.83,1)" font-family="Liberation Sans" font-weight="bold" font-size="11.4" text-anchor="middle" fill="#222" stroke="#222" stroke-width="0.3">17</text>
<text transform="translate(588.2,930.3) scale(0.83,1)" font-family="Liberation Sans" font-weight="bold" font-size="11.4" text-anchor="middle" fill="#222" stroke="#222" stroke-width="0.3">18</text>
<text transform="translate(627.9,930.3) scale(0.83,1)" font-family="Liberation Sans" font-weight="bold" font-size="11.4" text-anchor="middle" fill="#222" stroke="#222" stroke-width="0.3">19</text>
<text transform="translate(655.6,930.3) scale(0.83,1)" font-family="Liberation Sans" font-weight="bold" font-size="11.4" text-anchor="middle" fill="#222" stroke="#222" stroke-width="0.3">20</text>
<line x1="48.2" y1="796.0" x2="666" y2="796.0" stroke="#b08c88" stroke-width="1.6" stroke-dasharray="5.4 3.45"/>
<text x="62.6" y="740.9" font-family="Liberation Serif" font-weight="bold" font-size="14.4" fill="#222">d) Stuttgart, 2010</text>
</svg></body></html>
